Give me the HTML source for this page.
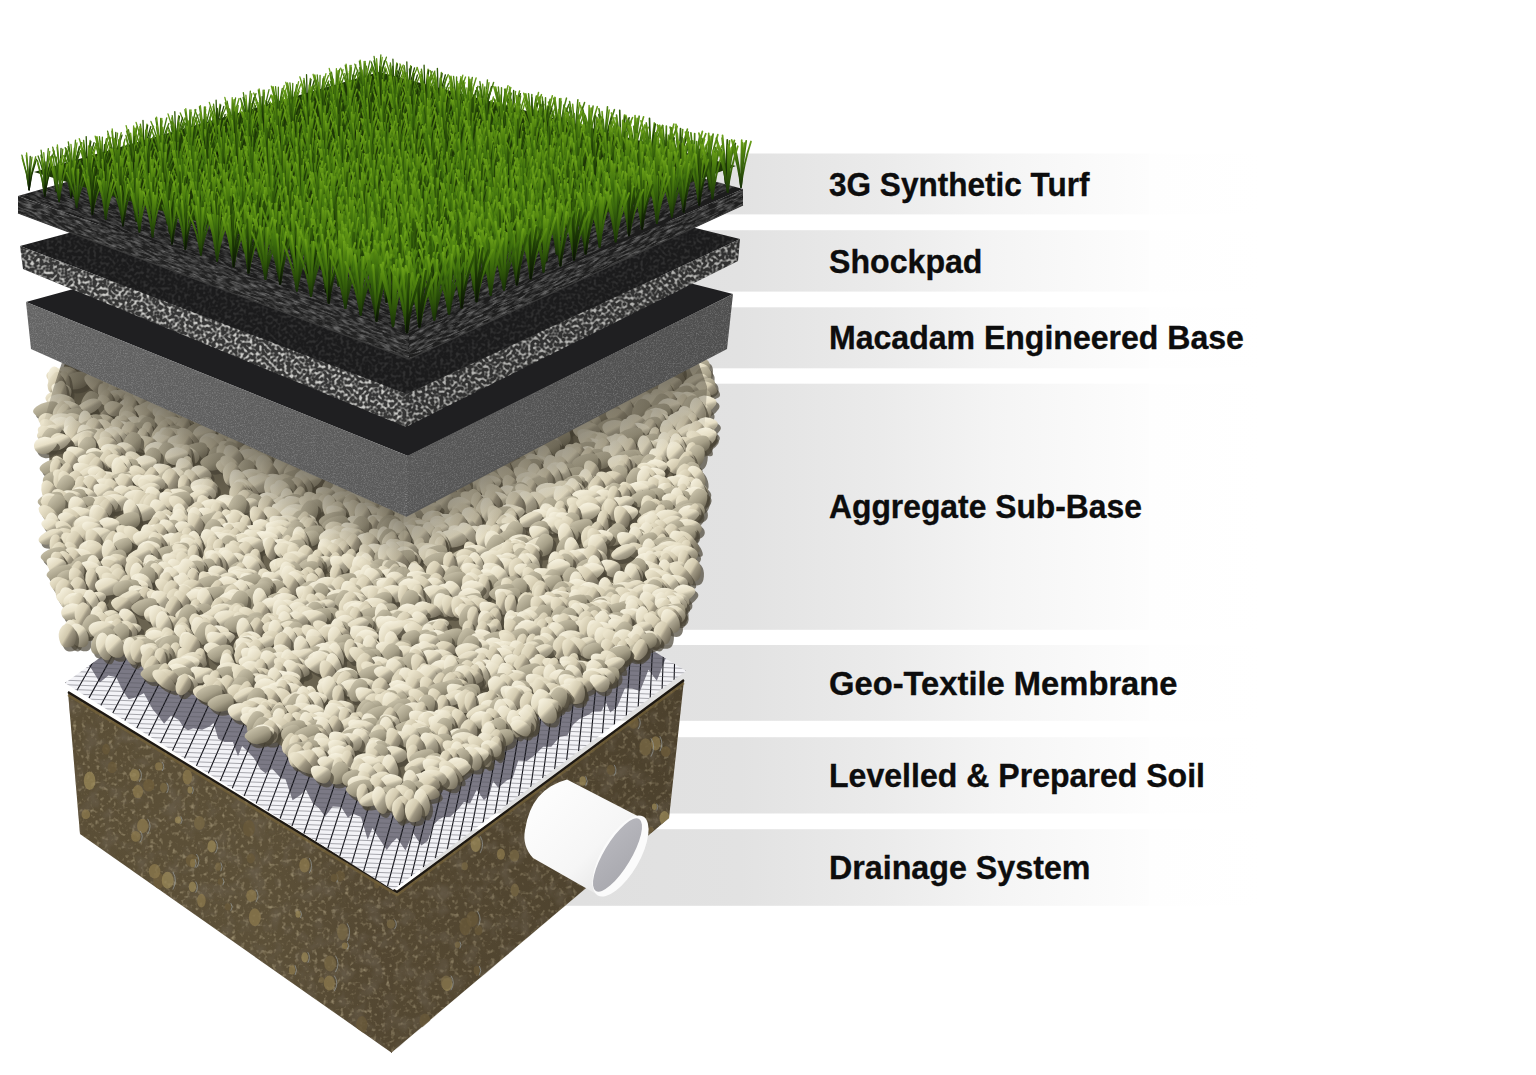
<!DOCTYPE html>
<html><head><meta charset="utf-8">
<style>
html,body{margin:0;padding:0;background:#fff;width:1536px;height:1075px;overflow:hidden}
svg{position:absolute;left:0;top:0;display:block}
</style></head><body>
<svg width="1536" height="1075" viewBox="0 0 1536 1075">
<defs>
<linearGradient id="gBand" x1="420" y1="0" x2="1262" y2="0" gradientUnits="userSpaceOnUse">
 <stop offset="0" stop-color="#dedede"/><stop offset="0.38" stop-color="#e2e2e2"/><stop offset="0.55" stop-color="#ebebeb"/><stop offset="0.68" stop-color="#f4f4f4"/>
 <stop offset="0.8" stop-color="#fafafa"/><stop offset="0.865" stop-color="#fdfdfd"/><stop offset="0.866" stop-color="#fefefe"/><stop offset="1" stop-color="#fff"/>
</linearGradient>


<linearGradient id="gMacL" x1="26" y1="0" x2="408" y2="0" gradientUnits="userSpaceOnUse"><stop offset="0" stop-color="#646464"/><stop offset="1" stop-color="#5a5a5a"/></linearGradient>
<linearGradient id="gMacR" x1="408" y1="0" x2="733" y2="0" gradientUnits="userSpaceOnUse"><stop offset="0" stop-color="#575757"/><stop offset="1" stop-color="#4e4e4e"/></linearGradient>
<linearGradient id="gSoilL" x1="68" y1="0" x2="397" y2="0" gradientUnits="userSpaceOnUse"><stop offset="0" stop-color="#5a4e36"/><stop offset=".6" stop-color="#5c5038"/><stop offset="1" stop-color="#524631"/></linearGradient>
<linearGradient id="gSoilR" x1="397" y1="0" x2="684" y2="0" gradientUnits="userSpaceOnUse"><stop offset="0" stop-color="#544832"/><stop offset="1" stop-color="#4c412d"/></linearGradient>
<linearGradient id="gPipe" x1="0" y1="0" x2="1" y2="1"><stop offset="0" stop-color="#ffffff"/><stop offset=".6" stop-color="#f6f6f6"/><stop offset="1" stop-color="#dcdcdc"/></linearGradient>
<linearGradient id="gPipeIn" x1="0" y1="1" x2="1" y2="0"><stop offset="0" stop-color="#a8a8ae"/><stop offset="1" stop-color="#b8b8be"/></linearGradient>
<linearGradient id="st0" x1=".15" y1=".1" x2=".85" y2=".95"><stop offset="0" stop-color="#f4efdc"/><stop offset=".4" stop-color="#e2dac0"/><stop offset=".56" stop-color="#aea792"/><stop offset="1" stop-color="#7a7360"/></linearGradient>
<linearGradient id="st1" x1=".1" y1=".2" x2=".9" y2=".85"><stop offset="0" stop-color="#ebe4cc"/><stop offset=".45" stop-color="#d2c9ae"/><stop offset=".6" stop-color="#a09883"/><stop offset="1" stop-color="#726b5a"/></linearGradient>
<linearGradient id="st2" x1=".3" y1="0" x2=".7" y2="1"><stop offset="0" stop-color="#f8f4e3"/><stop offset=".45" stop-color="#e7dfc6"/><stop offset=".6" stop-color="#bab39c"/><stop offset="1" stop-color="#847d6a"/></linearGradient>
<linearGradient id="st3" x1=".2" y1=".1" x2=".8" y2=".9"><stop offset="0" stop-color="#cbc4ac"/><stop offset=".55" stop-color="#a59e87"/><stop offset="1" stop-color="#6d6755"/></linearGradient>
<filter id="fSoil" x="0" y="0" width="1" height="1" filterUnits="objectBoundingBox">
 <feTurbulence type="fractalNoise" baseFrequency="0.22" numOctaves="2" seed="4"/>
 <feColorMatrix type="matrix" values="0 0 0 0 0.55  0 0 0 0 0.47  0 0 0 0 0.3  3 0 0 0 -1.6"/>
</filter>
<filter id="fSoilD" x="0" y="0" width="1" height="1" filterUnits="objectBoundingBox">
 <feTurbulence type="fractalNoise" baseFrequency="0.06" numOctaves="3" seed="9"/>
 <feColorMatrix type="matrix" values="0 0 0 0 0.16  0 0 0 0 0.13  0 0 0 0 0.09  2.4 0 0 0 -1.1"/>
</filter>
<filter id="fGrain" x="0" y="0" width="1" height="1" filterUnits="objectBoundingBox">
 <feTurbulence type="fractalNoise" baseFrequency="0.9" numOctaves="2" seed="2"/>
 <feColorMatrix type="matrix" values="0 0 0 0 0.7  0 0 0 0 0.7  0 0 0 0 0.7  1.8 0 0 0 -0.85"/>
</filter>
<filter id="fSpeck" x="0" y="0" width="1" height="1" filterUnits="objectBoundingBox">
 <feTurbulence type="fractalNoise" baseFrequency="0.32" numOctaves="1" seed="5"/>
 <feColorMatrix type="matrix" values="0 0 0 0 0.6  0 0 0 0 0.6  0 0 0 0 0.58  3.6 0 0 0 -1.6"/>
</filter>
<filter id="fRough" x="0" y="0" width="1" height="1" filterUnits="objectBoundingBox">
 <feTurbulence type="fractalNoise" baseFrequency="0.6" numOctaves="2" seed="8"/>
 <feColorMatrix type="matrix" values="0 0 0 0 0.35  0 0 0 0 0.35  0 0 0 0 0.35  2.5 0 0 0 -1.3"/>
</filter>

<clipPath id="cSoilL"><polygon points="68,692 397,892 392,1053 80,834"/></clipPath>
<clipPath id="cSoilR"><polygon points="397,892 684,680 669,818 392,1053"/></clipPath>
<clipPath id="cMemb"><polygon points="65,683 393,890 686,671 360,470"/></clipPath>
<clipPath id="cMacL"><polygon points="26,302 408,456 407,517 31,349"/></clipPath>
<clipPath id="cMacR"><polygon points="408,456 733,294 727,349 404,516"/></clipPath>
<clipPath id="cMacT"><polygon points="26,302 380,205 733,294 408,456"/></clipPath>
<clipPath id="cShL"><polygon points="20,246 407,394 406,427 23,269"/></clipPath>
<clipPath id="cShR"><polygon points="407,394 740,239 738,261 406,427"/></clipPath>
<clipPath id="cShT"><polygon points="20,246 380,150 740,239 407,394"/></clipPath>
<g id="s0"><path d="M10.5 2.4Q10.2 5.8 7.8 7.9Q5.3 9.9 0.7 7.5Q-3.9 5.1 -7.6 1.6Q-11.3 -2 -9.7 -4.5Q-8.2 -7.1 -3.7 -7.9Q0.8 -8.7 5.8 -4.9Q10.7 -1.1 10.5 2.4Z" transform="translate(3 4)" fill="#4a4436" opacity=".7"/><path d="M10.5 2.4Q10.2 5.8 7.8 7.9Q5.3 9.9 0.7 7.5Q-3.9 5.1 -7.6 1.6Q-11.3 -2 -9.7 -4.5Q-8.2 -7.1 -3.7 -7.9Q0.8 -8.7 5.8 -4.9Q10.7 -1.1 10.5 2.4Z" fill="url(#st0)"/></g>
<g id="s1"><path d="M-2 -9.8Q1.3 -13.2 4.3 -9.5Q7.2 -5.8 7.5 -1.6Q7.8 2.7 3.9 6.6Q0.1 10.6 -3.3 10.2Q-6.7 9.8 -7.9 5.5Q-9.1 1.2 -7.2 -2.6Q-5.3 -6.4 -2 -9.8Z" transform="translate(3 4)" fill="#4a4436" opacity=".7"/><path d="M-2 -9.8Q1.3 -13.2 4.3 -9.5Q7.2 -5.8 7.5 -1.6Q7.8 2.7 3.9 6.6Q0.1 10.6 -3.3 10.2Q-6.7 9.8 -7.9 5.5Q-9.1 1.2 -7.2 -2.6Q-5.3 -6.4 -2 -9.8Z" fill="url(#st1)"/></g>
<g id="s2"><path d="M9.3 -6.2Q14.2 -3.2 11.6 0.6Q9 4.4 4.9 7.2Q0.8 9.9 -3.9 8.4Q-8.6 6.9 -10.1 2.8Q-11.6 -1.3 -8.3 -4.8Q-5.1 -8.2 -0.4 -8.7Q4.4 -9.1 9.3 -6.2Z" transform="translate(3 4)" fill="#4a4436" opacity=".7"/><path d="M9.3 -6.2Q14.2 -3.2 11.6 0.6Q9 4.4 4.9 7.2Q0.8 9.9 -3.9 8.4Q-8.6 6.9 -10.1 2.8Q-11.6 -1.3 -8.3 -4.8Q-5.1 -8.2 -0.4 -8.7Q4.4 -9.1 9.3 -6.2Z" fill="url(#st2)"/></g>
<g id="s3"><path d="M6.9 9Q5.1 12.1 0.3 10.3Q-4.6 8.6 -6.3 3.2Q-7.9 -2.2 -7.1 -6.5Q-6.2 -10.8 -2.9 -11.2Q0.4 -11.6 4.3 -7.7Q8.3 -3.7 8.5 1.1Q8.6 6 6.9 9Z" transform="translate(3 4)" fill="#4a4436" opacity=".7"/><path d="M6.9 9Q5.1 12.1 0.3 10.3Q-4.6 8.6 -6.3 3.2Q-7.9 -2.2 -7.1 -6.5Q-6.2 -10.8 -2.9 -11.2Q0.4 -11.6 4.3 -7.7Q8.3 -3.7 8.5 1.1Q8.6 6 6.9 9Z" fill="url(#st1)"/></g>
<g id="s4"><path d="M10.1 0.8Q9.6 5.7 7 7.9Q4.5 10.1 0.1 9.1Q-4.2 8 -7 4.2Q-9.9 0.3 -10 -3.7Q-10.2 -7.7 -5.3 -8.3Q-0.3 -8.8 5.2 -6.5Q10.6 -4.2 10.1 0.8Z" transform="translate(3 4)" fill="#4a4436" opacity=".7"/><path d="M10.1 0.8Q9.6 5.7 7 7.9Q4.5 10.1 0.1 9.1Q-4.2 8 -7 4.2Q-9.9 0.3 -10 -3.7Q-10.2 -7.7 -5.3 -8.3Q-0.3 -8.8 5.2 -6.5Q10.6 -4.2 10.1 0.8Z" fill="url(#st0)"/></g>
<g id="s5"><path d="M10.6 -0.8Q13 3.1 10.1 5.1Q7.2 7 1.8 7.9Q-3.6 8.7 -7.1 4.6Q-10.6 0.4 -10.3 -1.8Q-10.1 -3.9 -6.4 -6.1Q-2.7 -8.3 2.7 -6.5Q8.1 -4.7 10.6 -0.8Z" transform="translate(3 4)" fill="#4a4436" opacity=".7"/><path d="M10.6 -0.8Q13 3.1 10.1 5.1Q7.2 7 1.8 7.9Q-3.6 8.7 -7.1 4.6Q-10.6 0.4 -10.3 -1.8Q-10.1 -3.9 -6.4 -6.1Q-2.7 -8.3 2.7 -6.5Q8.1 -4.7 10.6 -0.8Z" fill="url(#st1)"/></g>
<g id="s6"><path d="M6.6 -6.5Q9.3 -4.4 9.3 0.3Q9.3 4.9 4.6 7.1Q-0.1 9.2 -4.6 8.7Q-9.2 8.2 -10.2 3.6Q-11.1 -1 -8.1 -3.7Q-5 -6.4 -0.6 -7.5Q3.8 -8.7 6.6 -6.5Z" transform="translate(3 4)" fill="#4a4436" opacity=".7"/><path d="M6.6 -6.5Q9.3 -4.4 9.3 0.3Q9.3 4.9 4.6 7.1Q-0.1 9.2 -4.6 8.7Q-9.2 8.2 -10.2 3.6Q-11.1 -1 -8.1 -3.7Q-5 -6.4 -0.6 -7.5Q3.8 -8.7 6.6 -6.5Z" fill="url(#st3)"/></g>
<g id="s7"><path d="M4.7 9.9Q2.7 12.9 -0.1 11.1Q-2.9 9.4 -4.8 4.6Q-6.6 -0.2 -5.5 -5.1Q-4.4 -9.9 -0.8 -11.2Q2.7 -12.4 4.2 -8.9Q5.7 -5.4 6.3 0.7Q6.8 6.9 4.7 9.9Z" transform="translate(3 4)" fill="#4a4436" opacity=".7"/><path d="M4.7 9.9Q2.7 12.9 -0.1 11.1Q-2.9 9.4 -4.8 4.6Q-6.6 -0.2 -5.5 -5.1Q-4.4 -9.9 -0.8 -11.2Q2.7 -12.4 4.2 -8.9Q5.7 -5.4 6.3 0.7Q6.8 6.9 4.7 9.9Z" fill="url(#st1)"/></g>
<g id="s8"><path d="M4.7 10.3Q1.3 11.6 -2.4 11Q-6.1 10.4 -7.8 3.8Q-9.5 -2.9 -7.1 -7Q-4.8 -11.1 -1.3 -12.4Q2.1 -13.6 5.8 -9.1Q9.4 -4.6 8.7 2.2Q8 9.1 4.7 10.3Z" transform="translate(3 4)" fill="#4a4436" opacity=".7"/><path d="M4.7 10.3Q1.3 11.6 -2.4 11Q-6.1 10.4 -7.8 3.8Q-9.5 -2.9 -7.1 -7Q-4.8 -11.1 -1.3 -12.4Q2.1 -13.6 5.8 -9.1Q9.4 -4.6 8.7 2.2Q8 9.1 4.7 10.3Z" fill="url(#st1)"/></g>
<g id="s9"><path d="M0.5 -12.1Q3.7 -12.2 6.8 -9.8Q10 -7.5 8.8 -0.5Q7.7 6.5 3.9 8.9Q0.1 11.4 -4.8 10.8Q-9.8 10.1 -9.7 3.9Q-9.6 -2.3 -6.1 -7.1Q-2.7 -12 0.5 -12.1Z" transform="translate(3 4)" fill="#4a4436" opacity=".7"/><path d="M0.5 -12.1Q3.7 -12.2 6.8 -9.8Q10 -7.5 8.8 -0.5Q7.7 6.5 3.9 8.9Q0.1 11.4 -4.8 10.8Q-9.8 10.1 -9.7 3.9Q-9.6 -2.3 -6.1 -7.1Q-2.7 -12 0.5 -12.1Z" fill="url(#st3)"/></g>
<g id="s10"><path d="M8.8 -6.5Q13.4 -4.1 11.3 -0.9Q9.2 2.4 4.8 5.4Q0.3 8.5 -5.2 8.3Q-10.7 8.1 -12.4 5.2Q-14.1 2.3 -10.4 -1.1Q-6.8 -4.5 -1.3 -6.7Q4.2 -9 8.8 -6.5Z" transform="translate(3 4)" fill="#4a4436" opacity=".7"/><path d="M8.8 -6.5Q13.4 -4.1 11.3 -0.9Q9.2 2.4 4.8 5.4Q0.3 8.5 -5.2 8.3Q-10.7 8.1 -12.4 5.2Q-14.1 2.3 -10.4 -1.1Q-6.8 -4.5 -1.3 -6.7Q4.2 -9 8.8 -6.5Z" fill="url(#st0)"/></g>
<g id="s11"><path d="M14.1 0.4Q14.4 4.8 9.1 7Q3.9 9.2 -2 9.1Q-7.9 8.9 -11.5 3.8Q-15.1 -1.3 -12.5 -4.4Q-9.9 -7.5 -4.1 -8.5Q1.7 -9.5 7.7 -6.7Q13.8 -3.9 14.1 0.4Z" transform="translate(3 4)" fill="#4a4436" opacity=".7"/><path d="M14.1 0.4Q14.4 4.8 9.1 7Q3.9 9.2 -2 9.1Q-7.9 8.9 -11.5 3.8Q-15.1 -1.3 -12.5 -4.4Q-9.9 -7.5 -4.1 -8.5Q1.7 -9.5 7.7 -6.7Q13.8 -3.9 14.1 0.4Z" fill="url(#st0)"/></g>
<g id="s12"><path d="M7.2 10Q5.1 15.1 1.2 13.5Q-2.7 11.9 -5.7 5.5Q-8.8 -0.9 -7.6 -6.5Q-6.4 -12 -3 -13.4Q0.3 -14.9 3.3 -10.8Q6.3 -6.7 7.8 -0.9Q9.4 4.9 7.2 10Z" transform="translate(3 4)" fill="#4a4436" opacity=".7"/><path d="M7.2 10Q5.1 15.1 1.2 13.5Q-2.7 11.9 -5.7 5.5Q-8.8 -0.9 -7.6 -6.5Q-6.4 -12 -3 -13.4Q0.3 -14.9 3.3 -10.8Q6.3 -6.7 7.8 -0.9Q9.4 4.9 7.2 10Z" fill="url(#st0)"/></g>
<g id="s13"><path d="M11.9 6.8Q13.2 11.8 7.5 10.5Q1.8 9.1 -2 6.4Q-5.8 3.6 -9.3 -1.4Q-12.8 -6.5 -11 -9Q-9.1 -11.6 -4.4 -10.7Q0.3 -9.9 5.4 -4Q10.6 1.8 11.9 6.8Z" transform="translate(3 4)" fill="#4a4436" opacity=".7"/><path d="M11.9 6.8Q13.2 11.8 7.5 10.5Q1.8 9.1 -2 6.4Q-5.8 3.6 -9.3 -1.4Q-12.8 -6.5 -11 -9Q-9.1 -11.6 -4.4 -10.7Q0.3 -9.9 5.4 -4Q10.6 1.8 11.9 6.8Z" fill="url(#st1)"/></g>
<g id="s14"><path d="M10.5 -6.9Q12.6 -4.4 12.4 0.8Q12.1 6 4.7 8.3Q-2.7 10.6 -7.2 8.2Q-11.6 5.8 -13.4 3.1Q-15.2 0.5 -10.8 -3.1Q-6.5 -6.6 0.9 -8.1Q8.3 -9.5 10.5 -6.9Z" transform="translate(3 4)" fill="#4a4436" opacity=".7"/><path d="M10.5 -6.9Q12.6 -4.4 12.4 0.8Q12.1 6 4.7 8.3Q-2.7 10.6 -7.2 8.2Q-11.6 5.8 -13.4 3.1Q-15.2 0.5 -10.8 -3.1Q-6.5 -6.6 0.9 -8.1Q8.3 -9.5 10.5 -6.9Z" fill="url(#st3)"/></g>
<g id="s15"><path d="M8.5 8.3Q6.4 11.8 1.2 11.1Q-4 10.4 -7.3 5.5Q-10.6 0.7 -9.3 -5.3Q-8.1 -11.3 -4.7 -12.4Q-1.3 -13.4 3.1 -10.3Q7.4 -7.1 9 -1.1Q10.6 4.9 8.5 8.3Z" transform="translate(3 4)" fill="#4a4436" opacity=".7"/><path d="M8.5 8.3Q6.4 11.8 1.2 11.1Q-4 10.4 -7.3 5.5Q-10.6 0.7 -9.3 -5.3Q-8.1 -11.3 -4.7 -12.4Q-1.3 -13.4 3.1 -10.3Q7.4 -7.1 9 -1.1Q10.6 4.9 8.5 8.3Z" fill="url(#st0)"/></g>
</defs>
<rect x="420" y="153.5" width="842" height="60.9" fill="url(#gBand)"/>
<rect x="420" y="230.2" width="842" height="61.4" fill="url(#gBand)"/>
<rect x="420" y="307.3" width="842" height="61" fill="url(#gBand)"/>
<rect x="420" y="383.7" width="842" height="246.1" fill="url(#gBand)"/>
<rect x="420" y="645" width="842" height="75.8" fill="url(#gBand)"/>
<rect x="420" y="737.2" width="842" height="76.3" fill="url(#gBand)"/>
<rect x="420" y="829.2" width="842" height="76.6" fill="url(#gBand)"/>
<text x="829" y="195.8" textLength="260.6" lengthAdjust="spacingAndGlyphs" font-family="Liberation Sans" font-weight="bold" font-size="33.4" fill="#0d0d0d" stroke="#0d0d0d" stroke-width=".35">3G Synthetic Turf</text>
<text x="829" y="272.6" textLength="153.5" lengthAdjust="spacingAndGlyphs" font-family="Liberation Sans" font-weight="bold" font-size="33.4" fill="#0d0d0d" stroke="#0d0d0d" stroke-width=".35">Shockpad</text>
<text x="829" y="349.4" textLength="414.9" lengthAdjust="spacingAndGlyphs" font-family="Liberation Sans" font-weight="bold" font-size="33.4" fill="#0d0d0d" stroke="#0d0d0d" stroke-width=".35">Macadam Engineered Base</text>
<text x="829" y="518.0" textLength="312.9" lengthAdjust="spacingAndGlyphs" font-family="Liberation Sans" font-weight="bold" font-size="33.4" fill="#0d0d0d" stroke="#0d0d0d" stroke-width=".35">Aggregate Sub-Base</text>
<text x="829" y="695.0" textLength="348.5" lengthAdjust="spacingAndGlyphs" font-family="Liberation Sans" font-weight="bold" font-size="33.4" fill="#0d0d0d" stroke="#0d0d0d" stroke-width=".35">Geo-Textile Membrane</text>
<text x="829" y="787.3" textLength="376" lengthAdjust="spacingAndGlyphs" font-family="Liberation Sans" font-weight="bold" font-size="33.4" fill="#0d0d0d" stroke="#0d0d0d" stroke-width=".35">Levelled &amp; Prepared Soil</text>
<text x="829" y="879.3" textLength="261.5" lengthAdjust="spacingAndGlyphs" font-family="Liberation Sans" font-weight="bold" font-size="33.4" fill="#0d0d0d" stroke="#0d0d0d" stroke-width=".35">Drainage System</text>
<polygon points="68,692 397,892 392,1053 80,834" fill="url(#gSoilL)"/>
<polygon points="396,892 684,680 669,818 391,1053" fill="url(#gSoilR)"/>
<g clip-path="url(#cSoilL)"><rect x="60" y="680" width="345" height="380" filter="url(#fSoil)" opacity=".55"/><rect x="60" y="680" width="345" height="380" filter="url(#fSoilD)" opacity=".6"/></g>
<g clip-path="url(#cSoilR)"><rect x="390" y="670" width="300" height="390" filter="url(#fSoil)" opacity=".45"/><rect x="390" y="670" width="300" height="390" filter="url(#fSoilD)" opacity=".6"/></g>
<clipPath id="cSoil"><polygon points="68,692 397,892 392,1053 80,834"/><polygon points="397,892 684,680 669,818 392,1053"/></clipPath>
<g clip-path="url(#cSoil)"><ellipse cx="361.8" cy="1024.8" rx="5.6" ry="8.7" fill="#6a5a3a" opacity=".75"/><ellipse cx="610.7" cy="769.9" rx="4" ry="5.1" fill="#6a5a3a" opacity=".75"/><path d="M614.2 764.8q3.6 5.1 0 10.8" stroke="#9aa3a6" stroke-width=".9" fill="none" opacity=".7"/><ellipse cx="476.7" cy="970.5" rx="3" ry="4.4" fill="#6a5a3a" opacity=".75"/><path d="M479.4 966q2.7 4.4 0 9.3" stroke="#9aa3a6" stroke-width=".9" fill="none" opacity=".7"/><ellipse cx="333.9" cy="877.9" rx="3.2" ry="4" fill="#6a5a3a" opacity=".75"/><path d="M336.8 873.9q2.9 4 0 8.4" stroke="#9aa3a6" stroke-width=".9" fill="none" opacity=".7"/><ellipse cx="85.8" cy="814.4" rx="4.3" ry="4.9" fill="#8c7a4e" opacity=".75"/><ellipse cx="137.9" cy="791.6" rx="5.2" ry="6.5" fill="#8c7a4e" opacity=".75"/><ellipse cx="642.6" cy="840.1" rx="4.3" ry="5.8" fill="#6a5a3a" opacity=".75"/><path d="M646.5 834.3q3.9 5.8 0 12.2" stroke="#9aa3a6" stroke-width=".9" fill="none" opacity=".7"/><ellipse cx="592.7" cy="856.6" rx="4.4" ry="6.9" fill="#6a5a3a" opacity=".75"/><ellipse cx="342.4" cy="931.9" rx="5.3" ry="8.5" fill="#7a6a45" opacity=".75"/><path d="M347.2 923.4q4.8 8.5 0 17.8" stroke="#9aa3a6" stroke-width=".9" fill="none" opacity=".7"/><ellipse cx="514.8" cy="890.1" rx="4.2" ry="6.5" fill="#7a6a45" opacity=".75"/><ellipse cx="465.1" cy="926.5" rx="5.6" ry="8.9" fill="#6a5a3a" opacity=".75"/><ellipse cx="664.5" cy="818.2" rx="5" ry="7.1" fill="#9a8858" opacity=".75"/><ellipse cx="602.9" cy="848.6" rx="4.8" ry="6.2" fill="#705f3c" opacity=".75"/><ellipse cx="250.8" cy="858.5" rx="4.1" ry="5" fill="#6a5a3a" opacity=".75"/><ellipse cx="654.4" cy="806.8" rx="2.5" ry="3.2" fill="#9a8858" opacity=".75"/><path d="M656.7 803.6q2.3 3.2 0 6.8" stroke="#9aa3a6" stroke-width=".9" fill="none" opacity=".7"/><ellipse cx="254.8" cy="917.2" rx="5.9" ry="8.9" fill="#8c7a4e" opacity=".75"/><ellipse cx="665.8" cy="751.6" rx="4.8" ry="5.3" fill="#705f3c" opacity=".75"/><ellipse cx="158.6" cy="880.7" rx="5.4" ry="8.1" fill="#705f3c" opacity=".75"/><ellipse cx="650.7" cy="829.9" rx="2.7" ry="3" fill="#705f3c" opacity=".75"/><ellipse cx="376.8" cy="884.6" rx="2.7" ry="4" fill="#6a5a3a" opacity=".75"/><ellipse cx="582.7" cy="781" rx="3.3" ry="4.7" fill="#9a8858" opacity=".75"/><path d="M585.7 776.3q3 4.7 0 9.9" stroke="#9aa3a6" stroke-width=".9" fill="none" opacity=".7"/><ellipse cx="304.5" cy="865.3" rx="5.2" ry="7.3" fill="#8c7a4e" opacity=".75"/><path d="M309.2 858q4.7 7.3 0 15.3" stroke="#9aa3a6" stroke-width=".9" fill="none" opacity=".7"/><ellipse cx="163.5" cy="787.6" rx="3.6" ry="4.9" fill="#7a6a45" opacity=".75"/><path d="M166.7 782.7q3.2 4.9 0 10.4" stroke="#9aa3a6" stroke-width=".9" fill="none" opacity=".7"/><ellipse cx="134.7" cy="775.1" rx="5" ry="6.2" fill="#9a8858" opacity=".75"/><path d="M139.2 768.9q4.5 6.2 0 13" stroke="#9aa3a6" stroke-width=".9" fill="none" opacity=".7"/><ellipse cx="201.4" cy="900.6" rx="4.3" ry="6.8" fill="#8c7a4e" opacity=".75"/><ellipse cx="142.6" cy="826" rx="5.6" ry="7.2" fill="#8c7a4e" opacity=".75"/><path d="M147.6 818.8q5 7.2 0 15.2" stroke="#9aa3a6" stroke-width=".9" fill="none" opacity=".7"/><ellipse cx="248.9" cy="828.4" rx="6" ry="8.4" fill="#6a5a3a" opacity=".75"/><ellipse cx="472.2" cy="919.1" rx="5.9" ry="7.8" fill="#6a5a3a" opacity=".75"/><path d="M477.5 911.3q5.3 7.8 0 16.3" stroke="#9aa3a6" stroke-width=".9" fill="none" opacity=".7"/><ellipse cx="514.4" cy="855.5" rx="4.8" ry="5.9" fill="#7a6a45" opacity=".75"/><ellipse cx="218.2" cy="866.7" rx="2.9" ry="4.1" fill="#7a6a45" opacity=".75"/><path d="M220.8 862.5q2.6 4.1 0 8.7" stroke="#9aa3a6" stroke-width=".9" fill="none" opacity=".7"/><ellipse cx="158.8" cy="766.4" rx="3.7" ry="4.2" fill="#8c7a4e" opacity=".75"/><path d="M162.1 762.1q3.3 4.2 0 8.9" stroke="#9aa3a6" stroke-width=".9" fill="none" opacity=".7"/><ellipse cx="304.7" cy="957.3" rx="3.4" ry="5.1" fill="#9a8858" opacity=".75"/><path d="M307.8 952.2q3.1 5.1 0 10.7" stroke="#9aa3a6" stroke-width=".9" fill="none" opacity=".7"/><ellipse cx="655.6" cy="743.4" rx="4.7" ry="7.2" fill="#8c7a4e" opacity=".75"/><path d="M659.8 736.2q4.2 7.2 0 15.1" stroke="#9aa3a6" stroke-width=".9" fill="none" opacity=".7"/><ellipse cx="613.1" cy="832.7" rx="4" ry="5" fill="#7a6a45" opacity=".75"/><path d="M616.7 827.6q3.6 5 0 10.6" stroke="#9aa3a6" stroke-width=".9" fill="none" opacity=".7"/><ellipse cx="330.1" cy="963.5" rx="5.9" ry="7.9" fill="#7a6a45" opacity=".75"/><path d="M335.4 955.6q5.3 7.9 0 16.6" stroke="#9aa3a6" stroke-width=".9" fill="none" opacity=".7"/><ellipse cx="167.6" cy="880.2" rx="5.8" ry="8.5" fill="#9a8858" opacity=".75"/><path d="M172.8 871.8q5.2 8.5 0 17.8" stroke="#9aa3a6" stroke-width=".9" fill="none" opacity=".7"/><ellipse cx="190" cy="790" rx="2.5" ry="3.4" fill="#9a8858" opacity=".75"/><path d="M192.3 786.6q2.3 3.4 0 7.2" stroke="#9aa3a6" stroke-width=".9" fill="none" opacity=".7"/><ellipse cx="220.4" cy="881.6" rx="2.6" ry="3.4" fill="#6a5a3a" opacity=".75"/><path d="M222.8 878.2q2.3 3.4 0 7.1" stroke="#9aa3a6" stroke-width=".9" fill="none" opacity=".7"/><ellipse cx="211.7" cy="846.4" rx="4.2" ry="6.1" fill="#9a8858" opacity=".75"/><path d="M215.5 840.3q3.8 6.1 0 12.8" stroke="#9aa3a6" stroke-width=".9" fill="none" opacity=".7"/><ellipse cx="191.4" cy="860.5" rx="5.6" ry="6.5" fill="#705f3c" opacity=".75"/><path d="M196.4 854q5.1 6.5 0 13.6" stroke="#9aa3a6" stroke-width=".9" fill="none" opacity=".7"/><ellipse cx="187.4" cy="777" rx="4.8" ry="7.6" fill="#8c7a4e" opacity=".75"/><ellipse cx="344.8" cy="945.7" rx="2.9" ry="3.3" fill="#8c7a4e" opacity=".75"/><path d="M347.4 942.4q2.6 3.3 0 6.9" stroke="#9aa3a6" stroke-width=".9" fill="none" opacity=".7"/><ellipse cx="199.4" cy="823" rx="5.4" ry="7.1" fill="#7a6a45" opacity=".75"/><ellipse cx="192.4" cy="886.8" rx="3.6" ry="5.3" fill="#9a8858" opacity=".75"/><path d="M195.7 881.5q3.3 5.3 0 11.2" stroke="#9aa3a6" stroke-width=".9" fill="none" opacity=".7"/><ellipse cx="321.5" cy="980.1" rx="2.6" ry="3" fill="#7a6a45" opacity=".75"/><ellipse cx="112.2" cy="767.3" rx="4.6" ry="5.9" fill="#6a5a3a" opacity=".75"/><ellipse cx="89.6" cy="780.7" rx="5.8" ry="9.2" fill="#9a8858" opacity=".75"/><ellipse cx="154.6" cy="871.3" rx="5.8" ry="7.2" fill="#8c7a4e" opacity=".75"/><ellipse cx="292.1" cy="969.9" rx="3.2" ry="4.7" fill="#8c7a4e" opacity=".75"/><path d="M295 965.2q2.9 4.7 0 9.9" stroke="#9aa3a6" stroke-width=".9" fill="none" opacity=".7"/><ellipse cx="464.7" cy="866.2" rx="3.1" ry="4" fill="#7a6a45" opacity=".75"/><ellipse cx="500.9" cy="854.2" rx="4" ry="5.6" fill="#8c7a4e" opacity=".75"/><ellipse cx="251.3" cy="895.6" rx="5.1" ry="6.1" fill="#8c7a4e" opacity=".75"/><path d="M255.8 889.5q4.6 6.1 0 12.8" stroke="#9aa3a6" stroke-width=".9" fill="none" opacity=".7"/><ellipse cx="390.8" cy="924.1" rx="4.1" ry="4.6" fill="#7a6a45" opacity=".75"/><path d="M394.5 919.5q3.7 4.6 0 9.7" stroke="#9aa3a6" stroke-width=".9" fill="none" opacity=".7"/><ellipse cx="424.9" cy="1020.9" rx="5.5" ry="7.3" fill="#6a5a3a" opacity=".75"/><ellipse cx="457.5" cy="944.8" rx="2.6" ry="3.3" fill="#7a6a45" opacity=".75"/><path d="M459.8 941.5q2.4 3.3 0 7" stroke="#9aa3a6" stroke-width=".9" fill="none" opacity=".7"/><ellipse cx="227.9" cy="906.8" rx="3.2" ry="3.6" fill="#6a5a3a" opacity=".75"/><path d="M230.8 903.2q2.9 3.6 0 7.5" stroke="#9aa3a6" stroke-width=".9" fill="none" opacity=".7"/><ellipse cx="298.1" cy="914.2" rx="2.6" ry="3.5" fill="#9a8858" opacity=".75"/><path d="M300.4 910.7q2.3 3.5 0 7.4" stroke="#9aa3a6" stroke-width=".9" fill="none" opacity=".7"/><ellipse cx="135.8" cy="836.4" rx="4.7" ry="5.4" fill="#8c7a4e" opacity=".75"/><path d="M140.1 831q4.3 5.4 0 11.4" stroke="#9aa3a6" stroke-width=".9" fill="none" opacity=".7"/><ellipse cx="475.7" cy="844.2" rx="5.1" ry="7.9" fill="#9a8858" opacity=".75"/><path d="M480.3 836.3q4.6 7.9 0 16.5" stroke="#9aa3a6" stroke-width=".9" fill="none" opacity=".7"/><ellipse cx="329.3" cy="983" rx="5.6" ry="7.4" fill="#8c7a4e" opacity=".75"/><path d="M334.3 975.6q5 7.4 0 15.6" stroke="#9aa3a6" stroke-width=".9" fill="none" opacity=".7"/><ellipse cx="106" cy="749.2" rx="3.9" ry="5.4" fill="#6a5a3a" opacity=".75"/><ellipse cx="178" cy="820" rx="3.1" ry="3.5" fill="#9a8858" opacity=".75"/><path d="M180.8 816.5q2.8 3.5 0 7.4" stroke="#9aa3a6" stroke-width=".9" fill="none" opacity=".7"/><ellipse cx="447.2" cy="984.5" rx="5.3" ry="6.4" fill="#9a8858" opacity=".75"/><ellipse cx="192.7" cy="863.2" rx="2.6" ry="4.2" fill="#8c7a4e" opacity=".75"/><path d="M195 859q2.4 4.2 0 8.7" stroke="#9aa3a6" stroke-width=".9" fill="none" opacity=".7"/><ellipse cx="148.8" cy="785.2" rx="5.6" ry="6.3" fill="#705f3c" opacity=".75"/><ellipse cx="478.4" cy="930.4" rx="3.9" ry="5.1" fill="#6a5a3a" opacity=".75"/><ellipse cx="446.1" cy="982.5" rx="5.3" ry="6.9" fill="#7a6a45" opacity=".75"/><path d="M450.9 975.6q4.8 6.9 0 14.6" stroke="#9aa3a6" stroke-width=".9" fill="none" opacity=".7"/><ellipse cx="340.2" cy="876" rx="4.7" ry="5.4" fill="#6a5a3a" opacity=".75"/><ellipse cx="645.5" cy="747" rx="6" ry="8.8" fill="#7a6a45" opacity=".75"/><path d="M650.9 738.2q5.4 8.8 0 18.4" stroke="#9aa3a6" stroke-width=".9" fill="none" opacity=".7"/><ellipse cx="633.4" cy="722.6" rx="5.1" ry="6.1" fill="#705f3c" opacity=".75"/><path d="M638 716.5q4.6 6.1 0 12.7" stroke="#9aa3a6" stroke-width=".9" fill="none" opacity=".7"/></g>
<polyline points="68,695 397,895 684,683" fill="none" stroke="#7a6538" stroke-width="2.5" opacity=".6"/>
<polyline points="68,692 397,892 684,680" fill="none" stroke="#1d1812" stroke-width="2.2"/>
<path d="M567,779.5 L639.5,817 L598,895 L533,858 Q522,846 525,830 Q531,789 567,779.5 Z" fill="url(#gPipe)"/>
<ellipse cx="620.5" cy="856" rx="45.5" ry="19" transform="rotate(-60 620.5 856)" fill="#fbfbfb"/>
<ellipse cx="617.5" cy="855" rx="42" ry="13.5" transform="rotate(-59 617.5 855)" fill="url(#gPipeIn)"/>
<polygon points="65,683 393,890 686,671 360,470" fill="#f3f3f7"/>
<g clip-path="url(#cMemb)"><polygon points="40,600 62,667.3 66.7,663.3 75.3,661.6 80.6,670.1 86.2,663.5 91.1,668.3 99.8,682.4 108.3,675.4 116.2,677.3 122.9,691.1 128.7,699.3 135.4,697.6 143.9,693.3 152.8,709.5 158.8,716.6 164.1,723.8 171,715.6 178.8,719.9 183.7,727.4 188,730.2 193.2,728.2 202.1,729.8 209.5,726.5 213.5,723 218.2,738.8 224.4,742.1 232.9,741.9 238,756.3 242.1,745.9 247.9,751.7 253.7,757.7 260.6,769.4 265.6,773.2 272,768.6 280.7,777.9 285.4,778.9 292.6,800.3 300.5,794.9 305.8,789.5 313.1,803.7 318.8,807.9 325,816.5 332.7,806.4 341.2,807 347.9,817.8 353.1,813.7 361,817.1 367.7,839.7 372.4,828 379.5,839 386.7,850 391.5,843.2 397,837.9 405.5,850.4 413.1,832.9 421.3,845.6 427.6,841.1 433.9,824.4 438.4,819.8 442.6,817.6 450.3,816.8 458.6,808.7 463.9,802.1 470.1,803.6 476.7,789.7 483.9,800 489,795.7 493.1,781.2 498.3,787.8 507,780.3 512.6,778.2 518.3,760.5 526.8,761 534.3,755.6 543.1,746.8 551.3,746.8 559.6,736.9 567.3,735.4 572.8,725.1 579.9,718.4 588.5,714.8 592.6,711.7 601.2,711.6 606,702.6 610.2,712.5 617.3,706.8 625,688 632,688.4 640.1,691 648.5,669.7 656.8,680.8 665.6,658.4 670.6,652.1 674.8,661.3 682.8,646.2 691,633.4 696.4,604.3 700,600 700,400 40,400" fill="#7b7985"/>
<path d="M65 683l250 -433M76.9 690.5l245.8 -435.4M88.9 698.1l241.5 -437.8M100.8 705.6l237.3 -440.1M112.8 713.1l233 -442.4M124.7 720.7l228.6 -444.7M136.7 728.2l224.3 -446.9M148.6 735.8l219.9 -449M160.5 743.3l215.6 -451.1M172.5 750.8l211.2 -453.2M184.4 758.4l206.7 -455.3M196.4 765.9l202.3 -457.2M208.3 773.4l197.8 -459.2M220.2 781l193.4 -461.1M232.2 788.5l188.9 -463M244.1 796.1l184.3 -464.8M256.1 803.6l179.8 -466.5M268 811.1l175.3 -468.3M280 818.7l170.7 -470M291.9 826.2l166.1 -471.6M303.8 833.7l161.5 -473.2M315.8 841.3l156.9 -474.7M327.7 848.8l152.3 -476.2M339.7 856.3l147.6 -477.7M351.6 863.9l143 -479.1M363.6 871.4l138.3 -480.5M375.5 879l133.6 -481.8M387.4 886.5l128.9 -483.1M399.4 885.2l124.2 -484.3M411.3 876.3l119.5 -485.5M423.3 867.4l114.8 -486.7M435.2 858.4l110 -487.7M447.2 849.5l105.3 -488.8M459.1 840.6l100.5 -489.8M471 831.7l95.7 -490.7M483 822.7l91 -491.7M494.9 813.8l86.2 -492.5M506.9 804.9l81.4 -493.3M518.8 796l76.6 -494.1M530.8 787l71.7 -494.8M542.7 778.1l66.9 -495.5M554.6 769.2l62.1 -496.1M566.6 760.3l57.3 -496.7M578.5 751.3l52.4 -497.2M590.5 742.4l47.6 -497.7M602.4 733.5l42.7 -498.2M614.3 724.6l37.9 -498.6M626.3 715.6l33 -498.9M638.2 706.7l28.2 -499.2M650.2 697.8l23.3 -499.5M662.1 688.9l18.5 -499.7M674.1 679.9l13.6 -499.8M686 671l8.7 -499.9" stroke="#16161c" stroke-width="1.15" fill="none"/>
<path d="M60 455L700 480M60 459.5L700 484.5M60 464L700 489M60 468.5L700 493.5M60 473L700 498M60 477.5L700 502.5M60 482L700 507M60 486.5L700 511.5M60 491L700 516M60 495.5L700 520.5M60 500L700 525M60 504.5L700 529.5M60 509L700 534M60 513.5L700 538.5M60 518L700 543M60 522.5L700 547.5M60 527L700 552M60 531.5L700 556.5M60 536L700 561M60 540.5L700 565.5M60 545L700 570M60 549.5L700 574.5M60 554L700 579M60 558.5L700 583.5M60 563L700 588M60 567.5L700 592.5M60 572L700 597M60 576.5L700 601.5M60 581L700 606M60 585.5L700 610.5M60 590L700 615M60 594.5L700 619.5M60 599L700 624M60 603.5L700 628.5M60 608L700 633M60 612.5L700 637.5M60 617L700 642M60 621.5L700 646.5M60 626L700 651M60 630.5L700 655.5M60 635L700 660M60 639.5L700 664.5M60 644L700 669M60 648.5L700 673.5M60 653L700 678M60 657.5L700 682.5M60 662L700 687M60 666.5L700 691.5M60 671L700 696M60 675.5L700 700.5M60 680L700 705M60 684.5L700 709.5M60 689L700 714M60 693.5L700 718.5M60 698L700 723M60 702.5L700 727.5M60 707L700 732M60 711.5L700 736.5M60 716L700 741M60 720.5L700 745.5M60 725L700 750M60 729.5L700 754.5M60 734L700 759M60 738.5L700 763.5M60 743L700 768M60 747.5L700 772.5M60 752L700 777M60 756.5L700 781.5M60 761L700 786M60 765.5L700 790.5M60 770L700 795M60 774.5L700 799.5M60 779L700 804M60 783.5L700 808.5M60 788L700 813M60 792.5L700 817.5M60 797L700 822M60 801.5L700 826.5M60 806L700 831M60 810.5L700 835.5M60 815L700 840M60 819.5L700 844.5M60 824L700 849M60 828.5L700 853.5M60 833L700 858M60 837.5L700 862.5M60 842L700 867M60 846.5L700 871.5M60 851L700 876M60 855.5L700 880.5M60 860L700 885M60 864.5L700 889.5M60 869L700 894M60 873.5L700 898.5M60 878L700 903M60 882.5L700 907.5M60 887L700 912M60 891.5L700 916.5M60 896L700 921" stroke="#5a5a63" stroke-width=".6" fill="none" opacity=".85"/></g>
<clipPath id="cAgg"><polygon points="45,385 60,340 404,488 700,340 716,385 716,389 712,450 706,517 700,575 690,610 666,643 642,661 606,690 569,711 533,731 497,762 460,781 424,818 393,827 365,807 330,788 294,772 266,749 236,730 212,709 172,696 142,677 119,662 95,652 75,655 58,644 55,610 48,580 40,527 38,470 35,420"/></clipPath>
<g clip-path="url(#cAgg)">
<polygon points="56.5,388.5 67.3,356.2 404.4,501.2 693.2,356.8 704,387.1 704,388.6 700,449.1 694.1,515.8 688.2,572.7 679,604.7 657.4,634.5 634.6,651.5 599.2,680 563.1,700.5 526.1,721.1 490.3,752 452.8,771.2 417.6,807.4 395.2,813.9 371.4,796.8 335.3,777.2 300.4,761.7 273,739.3 243.2,720.4 218,698.3 177.1,685.1 148.5,666.9 124.6,651.3 96.5,639.6 77.7,642.5 69.4,637.1 66.9,608.1 59.8,577.7 52,525.9 50,469.4 47.1,421.3" fill="#6a6350"/>
</g>
<use href="#s6" x="693.2" y="353.1"/><use href="#s14" x="80.1" y="358.1"/><use href="#s9" x="686" y="359.2"/><use href="#s4" x="81.8" y="361.7"/><use href="#s3" x="675.3" y="362.1"/><use href="#s13" x="675" y="362.1"/><use href="#s14" x="100.1" y="367"/><use href="#s14" x="697.6" y="367.7"/><use href="#s8" x="690.6" y="369.2"/><use href="#s14" x="690.2" y="370.5"/><use href="#s11" x="656.6" y="371"/><use href="#s4" x="699.6" y="371"/><use href="#s12" x="660.9" y="371.2"/><use href="#s14" x="671.4" y="371.5"/><use href="#s8" x="113.4" y="371.9"/><use href="#s13" x="673.6" y="373.2"/><use href="#s5" x="67.4" y="373.8"/><use href="#s2" x="100.7" y="374.1"/><use href="#s0" x="65.5" y="375.2"/><use href="#s2" x="95" y="375.5"/><use href="#s5" x="56.6" y="376.9"/><use href="#s12" x="659.9" y="377.5"/><use href="#s9" x="110.9" y="377.9"/><use href="#s9" x="702.5" y="379.1"/><use href="#s5" x="651.5" y="379.7"/><use href="#s14" x="75.8" y="380.1"/><use href="#s12" x="655.4" y="380.1"/><use href="#s12" x="55.8" y="380.2"/><use href="#s10" x="696.1" y="381.2"/><use href="#s7" x="63.7" y="382.8"/><use href="#s1" x="55.9" y="383.3"/><use href="#s15" x="101" y="383.3"/><use href="#s4" x="672.3" y="384.6"/><use href="#s3" x="110.2" y="385.2"/><use href="#s13" x="95.9" y="385.2"/><use href="#s5" x="637.6" y="385.4"/><use href="#s15" x="118.1" y="385.9"/><use href="#s6" x="706.3" y="386"/><use href="#s15" x="125.9" y="387.6"/><use href="#s5" x="705.4" y="388.5"/><use href="#s13" x="640.9" y="388.5"/><use href="#s11" x="637.4" y="389.2"/><use href="#s0" x="689.3" y="390.8"/><use href="#s4" x="61.4" y="391.5"/><use href="#s7" x="60.7" y="392.2"/><use href="#s3" x="669.1" y="392.9"/><use href="#s8" x="618.5" y="393.3"/><use href="#s6" x="684.4" y="393.3"/><use href="#s12" x="665.7" y="393.6"/><use href="#s14" x="117.7" y="394.2"/><use href="#s3" x="105.3" y="394.4"/><use href="#s4" x="632.8" y="394.5"/><use href="#s14" x="641.2" y="394.8"/><use href="#s6" x="116.1" y="395.7"/><use href="#s7" x="112.2" y="396"/><use href="#s10" x="658.4" y="396.8"/><use href="#s11" x="125.9" y="397.7"/><use href="#s13" x="173.9" y="397.8"/><use href="#s0" x="118.7" y="397.9"/><use href="#s14" x="698.5" y="398.2"/><use href="#s5" x="674.9" y="398.3"/><use href="#s5" x="133.7" y="398.5"/><use href="#s5" x="55.7" y="399.2"/><use href="#s11" x="640.8" y="399.5"/><use href="#s0" x="689.6" y="399.7"/><use href="#s13" x="663.1" y="399.9"/><use href="#s10" x="107.9" y="400.2"/><use href="#s8" x="171.9" y="400.3"/><use href="#s2" x="677.6" y="400.5"/><use href="#s1" x="105.4" y="400.8"/><use href="#s11" x="680.3" y="402.3"/><use href="#s10" x="646.8" y="402.5"/><use href="#s4" x="652.1" y="402.6"/><use href="#s4" x="175.2" y="402.7"/><use href="#s11" x="61.1" y="402.8"/><use href="#s9" x="90.4" y="403"/><use href="#s8" x="668.3" y="403.7"/><use href="#s2" x="704.1" y="404.3"/><use href="#s7" x="620.7" y="404.4"/><use href="#s12" x="139.9" y="404.7"/><use href="#s7" x="683" y="405.6"/><use href="#s9" x="661" y="405.7"/><use href="#s1" x="682" y="405.8"/><use href="#s6" x="614.7" y="405.9"/><use href="#s3" x="104.5" y="406"/><use href="#s10" x="89.9" y="406.2"/><use href="#s1" x="186.6" y="406.3"/><use href="#s2" x="128.8" y="406.5"/><use href="#s3" x="131" y="406.9"/><use href="#s3" x="65.6" y="407"/><use href="#s2" x="667.7" y="407"/><use href="#s12" x="609.6" y="407"/><use href="#s9" x="691.7" y="407.4"/><use href="#s7" x="131.3" y="407.8"/><use href="#s10" x="148.4" y="407.8"/><use href="#s5" x="114.4" y="408.4"/><use href="#s11" x="189.3" y="408.6"/><use href="#s13" x="590.7" y="408.6"/><use href="#s2" x="157.4" y="408.9"/><use href="#s11" x="166.3" y="408.9"/><use href="#s3" x="63.9" y="409.5"/><use href="#s14" x="182" y="409.5"/><use href="#s11" x="67.3" y="409.6"/><use href="#s12" x="625.5" y="409.7"/><use href="#s0" x="596.7" y="409.8"/><use href="#s14" x="47" y="409.9"/><use href="#s0" x="701.1" y="410.6"/><use href="#s14" x="172.4" y="410.7"/><use href="#s9" x="641.5" y="410.9"/><use href="#s11" x="607.3" y="411.1"/><use href="#s12" x="697.7" y="411.3"/><use href="#s1" x="60.9" y="412.2"/><use href="#s14" x="658.3" y="412.2"/><use href="#s15" x="205.7" y="412.7"/><use href="#s4" x="577.7" y="413.1"/><use href="#s1" x="64.3" y="414.6"/><use href="#s0" x="609" y="414.6"/><use href="#s6" x="599.8" y="415.2"/><use href="#s4" x="162.5" y="415.5"/><use href="#s4" x="186.3" y="415.5"/><use href="#s5" x="616.2" y="415.6"/><use href="#s13" x="145.6" y="416"/><use href="#s2" x="655.5" y="416.5"/><use href="#s8" x="127.4" y="416.6"/><use href="#s14" x="71.7" y="416.7"/><use href="#s1" x="129" y="417.5"/><use href="#s6" x="562.6" y="417.9"/><use href="#s10" x="651.3" y="418.5"/><use href="#s4" x="219.7" y="418.6"/><use href="#s14" x="578" y="418.6"/><use href="#s15" x="687" y="418.7"/><use href="#s11" x="684.5" y="419"/><use href="#s6" x="220.3" y="419.6"/><use href="#s11" x="170.7" y="419.8"/><use href="#s5" x="73.4" y="420.3"/><use href="#s11" x="169.7" y="420.4"/><use href="#s5" x="48.5" y="420.4"/><use href="#s2" x="657.4" y="420.9"/><use href="#s3" x="651.6" y="421.1"/><use href="#s5" x="174.6" y="421.2"/><use href="#s5" x="104.4" y="421.5"/><use href="#s13" x="200.8" y="421.5"/><use href="#s8" x="582.7" y="421.7"/><use href="#s13" x="132.5" y="421.8"/><use href="#s15" x="164.4" y="422"/><use href="#s11" x="62.8" y="422.1"/><use href="#s6" x="93.7" y="422.1"/><use href="#s13" x="583.7" y="422.2"/><use href="#s10" x="221" y="422.2"/><use href="#s0" x="636.5" y="422.3"/><use href="#s1" x="171.2" y="422.7"/><use href="#s12" x="658" y="422.7"/><use href="#s12" x="86.4" y="424.2"/><use href="#s4" x="577.6" y="424.2"/><use href="#s0" x="136" y="424.3"/><use href="#s8" x="219.6" y="424.4"/><use href="#s7" x="692.2" y="424.5"/><use href="#s6" x="652.6" y="424.6"/><use href="#s15" x="593.5" y="425.1"/><use href="#s11" x="173" y="425.3"/><use href="#s1" x="219.7" y="425.3"/><use href="#s2" x="60" y="425.6"/><use href="#s1" x="672.7" y="425.8"/><use href="#s2" x="705.4" y="425.9"/><use href="#s2" x="236.8" y="425.9"/><use href="#s14" x="610.6" y="426"/><use href="#s4" x="228.1" y="426.1"/><use href="#s3" x="161.5" y="426.2"/><use href="#s3" x="145" y="426.2"/><use href="#s5" x="562" y="426.3"/><use href="#s13" x="126.1" y="426.4"/><use href="#s15" x="676.3" y="426.6"/><use href="#s1" x="684.2" y="426.7"/><use href="#s1" x="122.8" y="426.8"/><use href="#s6" x="92.9" y="427.2"/><use href="#s6" x="88.9" y="427.5"/><use href="#s6" x="122.3" y="428"/><use href="#s1" x="183" y="428"/><use href="#s9" x="146.1" y="428.6"/><use href="#s11" x="615.9" y="428.7"/><use href="#s3" x="209.5" y="429"/><use href="#s6" x="560.8" y="429.4"/><use href="#s4" x="100" y="429.4"/><use href="#s14" x="200.4" y="429.4"/><use href="#s2" x="119.1" y="429.5"/><use href="#s1" x="226.8" y="429.6"/><use href="#s13" x="51.6" y="429.9"/><use href="#s12" x="71.8" y="429.9"/><use href="#s3" x="117.7" y="430"/><use href="#s13" x="107.3" y="430"/><use href="#s1" x="587" y="430.1"/><use href="#s1" x="649.3" y="430.1"/><use href="#s8" x="93.3" y="430.2"/><use href="#s11" x="586.2" y="430.3"/><use href="#s12" x="227.8" y="430.5"/><use href="#s14" x="134.8" y="430.8"/><use href="#s14" x="209.2" y="430.8"/><use href="#s8" x="167.2" y="430.8"/><use href="#s10" x="688.4" y="431.3"/><use href="#s2" x="637.4" y="431.5"/><use href="#s15" x="629.4" y="431.5"/><use href="#s7" x="163.6" y="431.6"/><use href="#s10" x="49.9" y="432.3"/><use href="#s4" x="704.5" y="432.6"/><use href="#s0" x="73.6" y="432.8"/><use href="#s15" x="704" y="432.8"/><use href="#s8" x="75.4" y="432.9"/><use href="#s11" x="553.4" y="433"/><use href="#s7" x="147.3" y="433.3"/><use href="#s8" x="696.4" y="433.4"/><use href="#s12" x="667.9" y="433.5"/><use href="#s13" x="547.9" y="433.5"/><use href="#s8" x="539.7" y="433.7"/><use href="#s2" x="203.4" y="433.8"/><use href="#s14" x="170.1" y="433.9"/><use href="#s8" x="129.5" y="433.9"/><use href="#s11" x="552.9" y="434.9"/><use href="#s5" x="235" y="435.5"/><use href="#s1" x="159.6" y="435.8"/><use href="#s11" x="249" y="436"/><use href="#s2" x="704.4" y="436.1"/><use href="#s13" x="671.4" y="436.1"/><use href="#s10" x="92.3" y="436.2"/><use href="#s14" x="630.9" y="436.2"/><use href="#s15" x="228.2" y="436.3"/><use href="#s3" x="115" y="436.4"/><use href="#s9" x="535" y="436.5"/><use href="#s0" x="176.8" y="436.5"/><use href="#s14" x="231.3" y="436.6"/><use href="#s13" x="49.4" y="436.7"/><use href="#s15" x="247.5" y="436.8"/><use href="#s11" x="263.1" y="436.8"/><use href="#s5" x="121.5" y="436.8"/><use href="#s15" x="86.5" y="437.1"/><use href="#s0" x="531.7" y="437.3"/><use href="#s8" x="227.2" y="437.4"/><use href="#s4" x="587.3" y="437.4"/><use href="#s14" x="86.6" y="437.4"/><use href="#s5" x="112.2" y="438"/><use href="#s10" x="83.5" y="438.2"/><use href="#s14" x="558.2" y="438.2"/><use href="#s7" x="654.7" y="438.4"/><use href="#s13" x="176.2" y="438.4"/><use href="#s4" x="118" y="438.7"/><use href="#s13" x="188.7" y="438.7"/><use href="#s7" x="142.5" y="439.3"/><use href="#s1" x="100.5" y="439.5"/><use href="#s4" x="164.8" y="439.5"/><use href="#s15" x="118.1" y="439.5"/><use href="#s11" x="591.9" y="439.7"/><use href="#s15" x="167.7" y="439.8"/><use href="#s9" x="50" y="439.9"/><use href="#s12" x="524.9" y="440"/><use href="#s8" x="167.9" y="440.3"/><use href="#s5" x="60.5" y="440.3"/><use href="#s15" x="112.1" y="440.4"/><use href="#s10" x="703.9" y="440.6"/><use href="#s6" x="261.7" y="440.7"/><use href="#s1" x="529.3" y="440.7"/><use href="#s6" x="651.3" y="441.3"/><use href="#s13" x="697.8" y="441.4"/><use href="#s4" x="258.3" y="441.4"/><use href="#s2" x="209.8" y="441.5"/><use href="#s0" x="136" y="441.6"/><use href="#s8" x="673.2" y="441.7"/><use href="#s3" x="106.8" y="442.2"/><use href="#s10" x="58.8" y="442.5"/><use href="#s4" x="162.6" y="442.6"/><use href="#s2" x="240.5" y="442.9"/><use href="#s13" x="606" y="443.1"/><use href="#s0" x="551.7" y="443.1"/><use href="#s4" x="139.4" y="443.2"/><use href="#s7" x="246.3" y="443.2"/><use href="#s5" x="146.8" y="443.2"/><use href="#s2" x="531.7" y="443.4"/><use href="#s11" x="617.6" y="443.6"/><use href="#s11" x="181" y="443.6"/><use href="#s9" x="132.1" y="444"/><use href="#s5" x="686" y="444"/><use href="#s4" x="220.3" y="444.1"/><use href="#s5" x="107.2" y="444.1"/><use href="#s8" x="86.4" y="444.2"/><use href="#s14" x="697.5" y="444.2"/><use href="#s2" x="526.7" y="444.2"/><use href="#s1" x="593.2" y="444.6"/><use href="#s14" x="543" y="444.7"/><use href="#s13" x="528.3" y="444.7"/><use href="#s7" x="620.8" y="445"/><use href="#s8" x="183.7" y="445.3"/><use href="#s2" x="44.5" y="445.4"/><use href="#s12" x="665.4" y="445.6"/><use href="#s3" x="602" y="445.7"/><use href="#s12" x="547.6" y="446"/><use href="#s1" x="281.8" y="446.1"/><use href="#s10" x="271.1" y="446.2"/><use href="#s10" x="206.1" y="446.3"/><use href="#s8" x="234.1" y="446.3"/><use href="#s0" x="661.9" y="446.7"/><use href="#s2" x="591.3" y="446.9"/><use href="#s12" x="677.5" y="447"/><use href="#s8" x="218.9" y="447.1"/><use href="#s12" x="617.9" y="447.2"/><use href="#s6" x="550.8" y="447.3"/><use href="#s13" x="212.7" y="447.4"/><use href="#s9" x="519.5" y="448.1"/><use href="#s10" x="648" y="448.2"/><use href="#s0" x="285.7" y="448.5"/><use href="#s9" x="87" y="448.9"/><use href="#s12" x="624" y="448.9"/><use href="#s12" x="645.2" y="449"/><use href="#s1" x="629" y="449.3"/><use href="#s1" x="587.3" y="449.3"/><use href="#s11" x="595.3" y="449.3"/><use href="#s14" x="585" y="449.8"/><use href="#s0" x="676.7" y="449.9"/><use href="#s0" x="125.7" y="450.2"/><use href="#s8" x="258.2" y="450.6"/><use href="#s2" x="154.9" y="450.6"/><use href="#s8" x="602.7" y="450.7"/><use href="#s14" x="195.3" y="450.9"/><use href="#s8" x="496.1" y="451.1"/><use href="#s7" x="675.8" y="451.2"/><use href="#s6" x="254" y="451.2"/><use href="#s0" x="293.4" y="451.5"/><use href="#s12" x="268.3" y="451.5"/><use href="#s5" x="114.7" y="451.5"/><use href="#s13" x="230.4" y="451.7"/><use href="#s11" x="173" y="451.7"/><use href="#s15" x="495.3" y="451.8"/><use href="#s2" x="528.7" y="451.9"/><use href="#s0" x="111" y="451.9"/><use href="#s6" x="246.4" y="452.4"/><use href="#s12" x="663.9" y="452.5"/><use href="#s9" x="228.8" y="453.3"/><use href="#s7" x="691.5" y="453.6"/><use href="#s6" x="218.6" y="453.6"/><use href="#s14" x="607.7" y="453.9"/><use href="#s1" x="265.5" y="454"/><use href="#s4" x="612.5" y="454"/><use href="#s0" x="589.5" y="454.1"/><use href="#s12" x="616.8" y="454.1"/><use href="#s15" x="676.2" y="454.2"/><use href="#s8" x="516" y="454.2"/><use href="#s9" x="165.7" y="454.4"/><use href="#s0" x="189" y="454.8"/><use href="#s4" x="76.2" y="454.8"/><use href="#s13" x="576.4" y="455"/><use href="#s8" x="576.2" y="455.1"/><use href="#s2" x="247.1" y="455.1"/><use href="#s7" x="181.6" y="455.3"/><use href="#s3" x="182.1" y="455.3"/><use href="#s10" x="104.3" y="455.4"/><use href="#s3" x="223.7" y="455.6"/><use href="#s7" x="245.9" y="455.6"/><use href="#s0" x="96" y="455.9"/><use href="#s7" x="185.7" y="456"/><use href="#s2" x="175.5" y="456"/><use href="#s5" x="252.4" y="456.2"/><use href="#s6" x="595" y="456.6"/><use href="#s9" x="695.7" y="456.9"/><use href="#s11" x="568.4" y="457.3"/><use href="#s12" x="528.1" y="457.4"/><use href="#s10" x="493.3" y="457.4"/><use href="#s0" x="279.8" y="457.4"/><use href="#s2" x="247.6" y="457.5"/><use href="#s15" x="232.8" y="457.6"/><use href="#s1" x="576.5" y="458.2"/><use href="#s14" x="629.4" y="458.2"/><use href="#s14" x="625.4" y="458.5"/><use href="#s1" x="587.4" y="458.8"/><use href="#s12" x="545.1" y="458.9"/><use href="#s8" x="502" y="459.3"/><use href="#s11" x="512.2" y="459.4"/><use href="#s15" x="571.6" y="459.4"/><use href="#s3" x="113.1" y="459.5"/><use href="#s9" x="151.9" y="459.6"/><use href="#s8" x="509" y="459.6"/><use href="#s14" x="91" y="459.9"/><use href="#s14" x="599.3" y="460.2"/><use href="#s6" x="490.4" y="460.4"/><use href="#s1" x="106.7" y="460.7"/><use href="#s10" x="296.6" y="460.8"/><use href="#s15" x="657.8" y="460.9"/><use href="#s12" x="311.6" y="461.1"/><use href="#s14" x="214.1" y="461.2"/><use href="#s10" x="256" y="461.3"/><use href="#s5" x="114.9" y="461.4"/><use href="#s1" x="687.6" y="461.9"/><use href="#s3" x="70" y="461.9"/><use href="#s14" x="586" y="461.9"/><use href="#s13" x="136.8" y="462.1"/><use href="#s7" x="296.1" y="462.5"/><use href="#s6" x="274.7" y="462.6"/><use href="#s0" x="87.7" y="462.7"/><use href="#s1" x="685.4" y="462.7"/><use href="#s6" x="532.8" y="462.8"/><use href="#s9" x="262.8" y="463.1"/><use href="#s13" x="265.4" y="463.3"/><use href="#s14" x="634.1" y="463.6"/><use href="#s11" x="621.2" y="463.7"/><use href="#s2" x="536" y="463.8"/><use href="#s2" x="144.4" y="464"/><use href="#s4" x="535.1" y="464.4"/><use href="#s6" x="304.3" y="464.5"/><use href="#s5" x="94.4" y="464.8"/><use href="#s14" x="523.5" y="465.4"/><use href="#s0" x="329.1" y="465.4"/><use href="#s8" x="91.1" y="465.5"/><use href="#s15" x="295" y="465.8"/><use href="#s5" x="676.2" y="465.8"/><use href="#s7" x="624.4" y="466.1"/><use href="#s9" x="648.8" y="466.1"/><use href="#s15" x="534.3" y="466.2"/><use href="#s5" x="226.1" y="466.2"/><use href="#s10" x="291.7" y="466.5"/><use href="#s4" x="326.5" y="466.5"/><use href="#s13" x="231.9" y="466.5"/><use href="#s6" x="687.5" y="466.6"/><use href="#s15" x="501.5" y="466.7"/><use href="#s14" x="650.3" y="466.9"/><use href="#s3" x="58.6" y="467.1"/><use href="#s5" x="553.1" y="467.1"/><use href="#s13" x="331.9" y="467.1"/><use href="#s14" x="53.5" y="467.2"/><use href="#s7" x="658" y="467.2"/><use href="#s14" x="529.1" y="467.3"/><use href="#s7" x="128.3" y="467.4"/><use href="#s14" x="292.9" y="467.5"/><use href="#s7" x="187" y="467.5"/><use href="#s14" x="126.4" y="467.5"/><use href="#s15" x="265.3" y="467.6"/><use href="#s15" x="553.1" y="467.7"/><use href="#s2" x="654.9" y="467.9"/><use href="#s1" x="95.6" y="468"/><use href="#s9" x="685.9" y="468"/><use href="#s0" x="121.9" y="468.3"/><use href="#s6" x="496.2" y="468.8"/><use href="#s12" x="124.5" y="469"/><use href="#s8" x="560" y="469"/><use href="#s0" x="296.7" y="469.2"/><use href="#s6" x="464.7" y="469.6"/><use href="#s7" x="55.7" y="469.9"/><use href="#s15" x="299" y="470.4"/><use href="#s15" x="185" y="470.7"/><use href="#s4" x="559.1" y="470.7"/><use href="#s15" x="282.2" y="470.8"/><use href="#s12" x="119.3" y="471"/><use href="#s8" x="526" y="471.1"/><use href="#s4" x="648.8" y="471.1"/><use href="#s4" x="83" y="471.1"/><use href="#s3" x="267.6" y="471.1"/><use href="#s14" x="310" y="471.3"/><use href="#s9" x="245.5" y="471.4"/><use href="#s3" x="591.2" y="471.7"/><use href="#s1" x="620.2" y="471.7"/><use href="#s14" x="563.1" y="471.8"/><use href="#s4" x="162.9" y="471.8"/><use href="#s4" x="501.6" y="473"/><use href="#s10" x="90.2" y="473.2"/><use href="#s0" x="201.1" y="473.4"/><use href="#s9" x="690.9" y="473.8"/><use href="#s9" x="451.8" y="473.9"/><use href="#s1" x="65.6" y="474"/><use href="#s13" x="649.2" y="474.1"/><use href="#s3" x="122.1" y="474.3"/><use href="#s8" x="231.3" y="474.5"/><use href="#s14" x="496.1" y="474.7"/><use href="#s0" x="97.8" y="474.7"/><use href="#s3" x="293.3" y="475.3"/><use href="#s14" x="573.1" y="475.3"/><use href="#s6" x="183.6" y="475.4"/><use href="#s12" x="562.7" y="475.6"/><use href="#s0" x="559.9" y="475.6"/><use href="#s8" x="299.9" y="475.8"/><use href="#s8" x="292.1" y="475.9"/><use href="#s10" x="460.4" y="476.1"/><use href="#s8" x="684.8" y="476.2"/><use href="#s13" x="141" y="476.3"/><use href="#s2" x="653" y="476.3"/><use href="#s12" x="534.9" y="476.8"/><use href="#s13" x="508.6" y="476.8"/><use href="#s14" x="454.6" y="476.9"/><use href="#s0" x="555.8" y="477.1"/><use href="#s0" x="355.3" y="477.2"/><use href="#s9" x="618.5" y="477.2"/><use href="#s11" x="253.3" y="477.6"/><use href="#s13" x="525.2" y="477.6"/><use href="#s12" x="553.3" y="477.6"/><use href="#s5" x="690.6" y="477.7"/><use href="#s5" x="134.2" y="477.9"/><use href="#s14" x="293.3" y="478"/><use href="#s2" x="304.7" y="478"/><use href="#s5" x="613.5" y="478.2"/><use href="#s1" x="150.8" y="478.2"/><use href="#s15" x="695.9" y="478.4"/><use href="#s15" x="647.8" y="478.5"/><use href="#s6" x="53.2" y="479.1"/><use href="#s10" x="330.6" y="479.1"/><use href="#s13" x="317.6" y="479.3"/><use href="#s9" x="635.2" y="479.5"/><use href="#s6" x="101.7" y="479.5"/><use href="#s5" x="253.8" y="479.5"/><use href="#s3" x="649.9" y="479.8"/><use href="#s11" x="107.1" y="479.9"/><use href="#s8" x="445.2" y="479.9"/><use href="#s15" x="178.1" y="480"/><use href="#s1" x="460.4" y="480"/><use href="#s2" x="309.5" y="480.1"/><use href="#s13" x="64.5" y="480.2"/><use href="#s11" x="473.2" y="480.2"/><use href="#s8" x="544.1" y="480.4"/><use href="#s3" x="190.9" y="480.6"/><use href="#s0" x="587.5" y="480.7"/><use href="#s14" x="120.2" y="480.7"/><use href="#s6" x="163.1" y="480.8"/><use href="#s11" x="529.6" y="480.8"/><use href="#s8" x="170.2" y="480.9"/><use href="#s5" x="285.5" y="481.4"/><use href="#s13" x="495.6" y="481.4"/><use href="#s12" x="459.7" y="481.6"/><use href="#s0" x="456.2" y="481.6"/><use href="#s7" x="101.7" y="481.7"/><use href="#s10" x="123" y="481.8"/><use href="#s7" x="59.2" y="481.8"/><use href="#s4" x="470.3" y="481.9"/><use href="#s11" x="480.6" y="481.9"/><use href="#s8" x="685.2" y="482"/><use href="#s15" x="238.9" y="482.2"/><use href="#s12" x="644.8" y="482.2"/><use href="#s3" x="65.5" y="482.2"/><use href="#s13" x="607.7" y="482.5"/><use href="#s0" x="142.1" y="482.5"/><use href="#s12" x="586.6" y="482.6"/><use href="#s15" x="433.4" y="482.6"/><use href="#s11" x="273.9" y="482.6"/><use href="#s10" x="573.2" y="482.7"/><use href="#s1" x="484.5" y="482.8"/><use href="#s1" x="462.6" y="482.8"/><use href="#s8" x="75.5" y="483"/><use href="#s2" x="679" y="483.2"/><use href="#s11" x="151.2" y="483.2"/><use href="#s4" x="278.8" y="483.2"/><use href="#s6" x="572.8" y="483.2"/><use href="#s11" x="93.2" y="483.6"/><use href="#s2" x="488.8" y="483.9"/><use href="#s13" x="267.6" y="483.9"/><use href="#s1" x="349.5" y="483.9"/><use href="#s11" x="259.7" y="484"/><use href="#s15" x="239.5" y="484.2"/><use href="#s3" x="124.6" y="484.4"/><use href="#s4" x="675.9" y="484.5"/><use href="#s7" x="107.9" y="485"/><use href="#s6" x="204.4" y="485"/><use href="#s14" x="536" y="485.7"/><use href="#s7" x="183.7" y="486"/><use href="#s3" x="509.9" y="486.1"/><use href="#s15" x="302.8" y="486.2"/><use href="#s0" x="105.2" y="486.2"/><use href="#s7" x="343.9" y="486.6"/><use href="#s1" x="596" y="487"/><use href="#s9" x="65.6" y="487.1"/><use href="#s7" x="80.6" y="487.3"/><use href="#s15" x="659.9" y="487.3"/><use href="#s11" x="203.9" y="487.5"/><use href="#s5" x="564" y="487.7"/><use href="#s3" x="654.6" y="488"/><use href="#s3" x="665.6" y="488"/><use href="#s11" x="457.6" y="488.2"/><use href="#s8" x="89.8" y="488.2"/><use href="#s9" x="290.7" y="488.3"/><use href="#s0" x="574.9" y="488.6"/><use href="#s9" x="330.9" y="488.7"/><use href="#s5" x="344.8" y="488.9"/><use href="#s15" x="273.7" y="489.1"/><use href="#s15" x="342.3" y="489.1"/><use href="#s8" x="524" y="489.4"/><use href="#s8" x="690.9" y="489.4"/><use href="#s0" x="697.8" y="489.4"/><use href="#s13" x="247.7" y="489.5"/><use href="#s11" x="644" y="489.5"/><use href="#s8" x="296.2" y="489.6"/><use href="#s12" x="488" y="489.6"/><use href="#s15" x="419.3" y="489.6"/><use href="#s3" x="111.5" y="489.7"/><use href="#s3" x="209.1" y="489.8"/><use href="#s13" x="149.5" y="489.9"/><use href="#s12" x="528.6" y="490.1"/><use href="#s12" x="685.1" y="490.2"/><use href="#s9" x="285.8" y="490.4"/><use href="#s10" x="148.1" y="490.5"/><use href="#s1" x="529.7" y="490.5"/><use href="#s6" x="623.9" y="490.6"/><use href="#s2" x="636.5" y="490.7"/><use href="#s0" x="667.8" y="491"/><use href="#s11" x="549.4" y="491.4"/><use href="#s3" x="48.6" y="491.6"/><use href="#s1" x="79.3" y="491.7"/><use href="#s12" x="573.7" y="491.7"/><use href="#s7" x="388.3" y="491.7"/><use href="#s4" x="103.3" y="492"/><use href="#s12" x="698" y="492"/><use href="#s4" x="280.1" y="492"/><use href="#s15" x="242.2" y="492.1"/><use href="#s14" x="512.5" y="492.2"/><use href="#s3" x="456.8" y="492.2"/><use href="#s8" x="428.2" y="492.4"/><use href="#s2" x="629.9" y="492.4"/><use href="#s5" x="612.8" y="492.6"/><use href="#s15" x="282.7" y="492.7"/><use href="#s2" x="415.7" y="492.8"/><use href="#s5" x="134.1" y="492.9"/><use href="#s3" x="626.5" y="493"/><use href="#s4" x="423.9" y="493.1"/><use href="#s0" x="599" y="493.2"/><use href="#s0" x="123.7" y="493.3"/><use href="#s11" x="202.1" y="493.3"/><use href="#s1" x="412.3" y="493.4"/><use href="#s6" x="183.5" y="493.6"/><use href="#s0" x="340" y="493.7"/><use href="#s5" x="691.5" y="493.7"/><use href="#s14" x="396.6" y="494"/><use href="#s7" x="667.5" y="494"/><use href="#s2" x="506.7" y="494"/><use href="#s10" x="354.5" y="494.1"/><use href="#s9" x="519.7" y="494.1"/><use href="#s8" x="240.6" y="494.2"/><use href="#s8" x="237.7" y="494.2"/><use href="#s11" x="560.4" y="494.5"/><use href="#s13" x="526.7" y="494.5"/><use href="#s14" x="672.2" y="494.5"/><use href="#s13" x="497.4" y="494.6"/><use href="#s0" x="82.7" y="494.6"/><use href="#s0" x="698.1" y="494.7"/><use href="#s9" x="613.3" y="494.8"/><use href="#s7" x="682.4" y="495.1"/><use href="#s7" x="421" y="495.1"/><use href="#s15" x="448.1" y="495.4"/><use href="#s4" x="325.8" y="495.5"/><use href="#s2" x="693" y="495.6"/><use href="#s3" x="568" y="495.7"/><use href="#s1" x="622.6" y="495.7"/><use href="#s0" x="87.1" y="495.8"/><use href="#s11" x="550.5" y="496.1"/><use href="#s14" x="652.4" y="496.7"/><use href="#s10" x="372.6" y="497.2"/><use href="#s0" x="605.6" y="497.2"/><use href="#s11" x="177.5" y="497.2"/><use href="#s7" x="613.5" y="497.3"/><use href="#s14" x="73.9" y="497.4"/><use href="#s10" x="197.1" y="497.5"/><use href="#s1" x="299.3" y="497.8"/><use href="#s5" x="112.3" y="497.8"/><use href="#s14" x="643.6" y="498"/><use href="#s11" x="584.9" y="498.3"/><use href="#s15" x="563.2" y="498.3"/><use href="#s11" x="137.4" y="498.5"/><use href="#s4" x="72" y="498.6"/><use href="#s11" x="520.9" y="498.8"/><use href="#s11" x="588.1" y="498.9"/><use href="#s14" x="677.8" y="499"/><use href="#s15" x="154" y="499.2"/><use href="#s11" x="344.4" y="499.9"/><use href="#s1" x="166.4" y="500"/><use href="#s0" x="398.1" y="500"/><use href="#s13" x="63.6" y="500"/><use href="#s4" x="169.4" y="500.1"/><use href="#s14" x="178.8" y="500.2"/><use href="#s14" x="51.6" y="500.3"/><use href="#s9" x="361.8" y="500.4"/><use href="#s14" x="454.5" y="500.4"/><use href="#s2" x="495.8" y="500.5"/><use href="#s9" x="698.2" y="500.6"/><use href="#s3" x="491.7" y="500.7"/><use href="#s2" x="266.5" y="500.9"/><use href="#s10" x="284.7" y="501.1"/><use href="#s2" x="353.3" y="501.1"/><use href="#s12" x="678" y="501.2"/><use href="#s0" x="51.9" y="501.2"/><use href="#s8" x="473.5" y="501.3"/><use href="#s0" x="672" y="501.4"/><use href="#s9" x="246" y="501.5"/><use href="#s3" x="141.7" y="501.6"/><use href="#s12" x="288.2" y="501.7"/><use href="#s13" x="472.1" y="502.1"/><use href="#s8" x="244" y="502.3"/><use href="#s13" x="540.8" y="502.4"/><use href="#s10" x="335.6" y="502.4"/><use href="#s15" x="445.1" y="502.5"/><use href="#s14" x="290.4" y="502.6"/><use href="#s13" x="315.2" y="502.7"/><use href="#s5" x="171.3" y="502.8"/><use href="#s11" x="116" y="502.8"/><use href="#s5" x="50.9" y="502.8"/><use href="#s0" x="483.9" y="503"/><use href="#s11" x="363.1" y="503.2"/><use href="#s2" x="224.7" y="503.2"/><use href="#s0" x="376.4" y="503.2"/><use href="#s3" x="324" y="503.3"/><use href="#s8" x="140.9" y="503.4"/><use href="#s7" x="477" y="503.5"/><use href="#s10" x="622.6" y="503.6"/><use href="#s10" x="581.6" y="503.6"/><use href="#s5" x="374.9" y="503.7"/><use href="#s15" x="527.3" y="503.8"/><use href="#s6" x="255.3" y="503.9"/><use href="#s10" x="103.4" y="503.9"/><use href="#s8" x="421.5" y="504.1"/><use href="#s10" x="596.5" y="504.1"/><use href="#s8" x="514.1" y="504.2"/><use href="#s14" x="96.7" y="504.2"/><use href="#s1" x="147" y="504.3"/><use href="#s4" x="294.5" y="504.4"/><use href="#s0" x="266.6" y="504.4"/><use href="#s9" x="68.9" y="504.5"/><use href="#s11" x="104" y="504.5"/><use href="#s14" x="567" y="504.6"/><use href="#s0" x="620.2" y="505"/><use href="#s11" x="91.3" y="505.1"/><use href="#s14" x="83.5" y="505.1"/><use href="#s8" x="318.8" y="505.1"/><use href="#s5" x="389.4" y="505.3"/><use href="#s3" x="329.6" y="505.4"/><use href="#s9" x="253.4" y="505.6"/><use href="#s2" x="458.2" y="505.6"/><use href="#s7" x="411.3" y="505.7"/><use href="#s10" x="276.7" y="505.7"/><use href="#s10" x="246.6" y="505.8"/><use href="#s2" x="225.5" y="505.9"/><use href="#s8" x="325.5" y="506"/><use href="#s8" x="151.7" y="506.1"/><use href="#s3" x="204.3" y="506.2"/><use href="#s13" x="593.5" y="506.2"/><use href="#s3" x="683.1" y="506.2"/><use href="#s8" x="351.3" y="506.2"/><use href="#s9" x="56.5" y="506.4"/><use href="#s11" x="290.4" y="506.4"/><use href="#s13" x="180.3" y="506.5"/><use href="#s3" x="649.1" y="506.6"/><use href="#s9" x="237.7" y="506.7"/><use href="#s13" x="310.4" y="507"/><use href="#s6" x="314.2" y="507.2"/><use href="#s9" x="388.1" y="507.3"/><use href="#s1" x="609.5" y="507.4"/><use href="#s11" x="213.3" y="507.7"/><use href="#s8" x="266.4" y="507.8"/><use href="#s6" x="684.5" y="508.1"/><use href="#s1" x="483.9" y="508.2"/><use href="#s13" x="578.3" y="508.3"/><use href="#s8" x="101.4" y="508.3"/><use href="#s3" x="648.5" y="508.5"/><use href="#s14" x="661" y="508.7"/><use href="#s6" x="419.6" y="508.7"/><use href="#s12" x="330.3" y="508.7"/><use href="#s15" x="77.9" y="508.9"/><use href="#s3" x="405" y="509"/><use href="#s7" x="349.5" y="509.1"/><use href="#s9" x="548.5" y="509.5"/><use href="#s3" x="611.4" y="509.8"/><use href="#s0" x="351.1" y="509.8"/><use href="#s13" x="587.5" y="509.9"/><use href="#s10" x="429.7" y="510.1"/><use href="#s1" x="105" y="510.2"/><use href="#s5" x="462.4" y="510.5"/><use href="#s0" x="369.7" y="510.6"/><use href="#s6" x="687.6" y="510.7"/><use href="#s3" x="355.4" y="511"/><use href="#s8" x="655.1" y="511.1"/><use href="#s6" x="695.6" y="511.2"/><use href="#s12" x="488.2" y="511.2"/><use href="#s14" x="415.9" y="511.3"/><use href="#s2" x="588.1" y="511.3"/><use href="#s4" x="281.8" y="511.6"/><use href="#s2" x="389.4" y="511.7"/><use href="#s15" x="158.8" y="511.8"/><use href="#s1" x="651.9" y="511.8"/><use href="#s7" x="559.9" y="511.9"/><use href="#s6" x="93.7" y="512.3"/><use href="#s9" x="648" y="512.5"/><use href="#s11" x="141.3" y="512.5"/><use href="#s4" x="511.8" y="512.6"/><use href="#s11" x="297" y="512.7"/><use href="#s9" x="309.2" y="512.7"/><use href="#s14" x="683.1" y="512.8"/><use href="#s5" x="429.5" y="512.8"/><use href="#s12" x="131" y="512.9"/><use href="#s10" x="194.4" y="513.1"/><use href="#s6" x="382.2" y="513.4"/><use href="#s8" x="337.6" y="513.6"/><use href="#s7" x="216.2" y="513.8"/><use href="#s2" x="625.8" y="513.9"/><use href="#s2" x="688.3" y="513.9"/><use href="#s4" x="336" y="513.9"/><use href="#s8" x="197.4" y="514.1"/><use href="#s10" x="512.9" y="514.3"/><use href="#s0" x="79.4" y="514.6"/><use href="#s11" x="409.2" y="514.6"/><use href="#s2" x="368.9" y="514.6"/><use href="#s1" x="693.9" y="514.7"/><use href="#s14" x="501.1" y="514.8"/><use href="#s7" x="573.4" y="515.3"/><use href="#s7" x="660.7" y="515.7"/><use href="#s4" x="207.7" y="515.8"/><use href="#s15" x="548.7" y="515.9"/><use href="#s13" x="50.2" y="515.9"/><use href="#s2" x="289.3" y="516"/><use href="#s11" x="81.5" y="516.2"/><use href="#s12" x="362.6" y="516.2"/><use href="#s3" x="494.8" y="516.4"/><use href="#s10" x="687.5" y="516.7"/><use href="#s7" x="191.6" y="516.8"/><use href="#s12" x="403.1" y="516.9"/><use href="#s3" x="621.3" y="517"/><use href="#s12" x="180.2" y="517.1"/><use href="#s15" x="98.8" y="517.2"/><use href="#s13" x="275.2" y="517.4"/><use href="#s3" x="257.1" y="517.4"/><use href="#s8" x="385" y="517.6"/><use href="#s2" x="538.4" y="517.8"/><use href="#s7" x="469.2" y="517.9"/><use href="#s10" x="650" y="518.1"/><use href="#s3" x="100.3" y="518.1"/><use href="#s11" x="668.8" y="518.2"/><use href="#s3" x="472.6" y="518.3"/><use href="#s1" x="454.3" y="519.1"/><use href="#s1" x="509.9" y="519.2"/><use href="#s2" x="432.3" y="519.2"/><use href="#s10" x="530.6" y="519.2"/><use href="#s13" x="74" y="519.3"/><use href="#s1" x="561.1" y="519.3"/><use href="#s15" x="555.4" y="519.7"/><use href="#s11" x="165.9" y="520"/><use href="#s14" x="332.7" y="520"/><use href="#s0" x="67.8" y="520.2"/><use href="#s15" x="470.5" y="520.3"/><use href="#s4" x="558.9" y="520.3"/><use href="#s13" x="240.6" y="520.4"/><use href="#s3" x="228.3" y="520.4"/><use href="#s8" x="496.6" y="520.6"/><use href="#s4" x="566" y="520.6"/><use href="#s12" x="195.5" y="520.6"/><use href="#s14" x="127.7" y="520.6"/><use href="#s14" x="209.9" y="521.1"/><use href="#s7" x="603.3" y="521.2"/><use href="#s11" x="236.9" y="521.5"/><use href="#s8" x="166.2" y="521.8"/><use href="#s7" x="511.4" y="521.9"/><use href="#s0" x="411" y="522"/><use href="#s2" x="161.1" y="522.1"/><use href="#s4" x="449" y="522.1"/><use href="#s3" x="161.4" y="522.2"/><use href="#s2" x="303.4" y="522.2"/><use href="#s3" x="236.3" y="522.3"/><use href="#s12" x="180.4" y="522.3"/><use href="#s1" x="217.8" y="522.4"/><use href="#s7" x="436.1" y="522.5"/><use href="#s0" x="307.6" y="522.7"/><use href="#s9" x="299" y="522.7"/><use href="#s1" x="303.8" y="522.8"/><use href="#s3" x="401" y="522.8"/><use href="#s6" x="388.6" y="522.8"/><use href="#s2" x="648.9" y="523"/><use href="#s3" x="406.6" y="523"/><use href="#s4" x="377.4" y="523.2"/><use href="#s10" x="670.3" y="523.3"/><use href="#s6" x="273.6" y="523.5"/><use href="#s12" x="411.1" y="523.6"/><use href="#s0" x="440.5" y="523.7"/><use href="#s0" x="356.4" y="523.7"/><use href="#s11" x="287.5" y="523.9"/><use href="#s3" x="183.3" y="523.9"/><use href="#s3" x="194.8" y="523.9"/><use href="#s1" x="474.9" y="523.9"/><use href="#s14" x="336" y="524"/><use href="#s4" x="279.3" y="524.1"/><use href="#s6" x="82.9" y="524.3"/><use href="#s9" x="570.8" y="524.4"/><use href="#s2" x="84.5" y="524.4"/><use href="#s11" x="457.3" y="524.5"/><use href="#s6" x="392.1" y="524.5"/><use href="#s11" x="554.1" y="524.7"/><use href="#s7" x="602.3" y="524.7"/><use href="#s2" x="506.2" y="524.8"/><use href="#s5" x="417.1" y="524.9"/><use href="#s0" x="465.8" y="524.9"/><use href="#s12" x="653" y="525.2"/><use href="#s8" x="458" y="525.3"/><use href="#s0" x="554.9" y="525.4"/><use href="#s15" x="178.5" y="525.8"/><use href="#s2" x="107.2" y="525.9"/><use href="#s15" x="510" y="526"/><use href="#s12" x="53" y="526.2"/><use href="#s1" x="502.3" y="526.3"/><use href="#s10" x="88.4" y="526.4"/><use href="#s7" x="245.2" y="526.6"/><use href="#s0" x="51.5" y="526.6"/><use href="#s0" x="439.2" y="526.8"/><use href="#s0" x="512.8" y="526.8"/><use href="#s0" x="262.9" y="527.1"/><use href="#s3" x="568.4" y="527.2"/><use href="#s4" x="308.9" y="527.3"/><use href="#s14" x="580.8" y="527.4"/><use href="#s0" x="380.8" y="527.5"/><use href="#s1" x="371.6" y="527.5"/><use href="#s1" x="683.5" y="527.6"/><use href="#s6" x="171" y="527.6"/><use href="#s7" x="305.4" y="527.8"/><use href="#s11" x="687.7" y="527.8"/><use href="#s9" x="386" y="527.9"/><use href="#s13" x="513" y="528"/><use href="#s1" x="154.2" y="528.1"/><use href="#s6" x="674.9" y="528.2"/><use href="#s4" x="422.5" y="528.2"/><use href="#s9" x="360.2" y="528.2"/><use href="#s11" x="281.8" y="528.6"/><use href="#s6" x="539.5" y="528.6"/><use href="#s1" x="308.7" y="528.7"/><use href="#s5" x="335.5" y="528.7"/><use href="#s0" x="184.8" y="529.2"/><use href="#s4" x="92.1" y="529.8"/><use href="#s7" x="220.7" y="529.8"/><use href="#s9" x="388.2" y="529.9"/><use href="#s10" x="234.9" y="529.9"/><use href="#s7" x="491" y="530"/><use href="#s11" x="436.5" y="530.1"/><use href="#s13" x="565.8" y="530.2"/><use href="#s11" x="411.7" y="530.2"/><use href="#s4" x="275.5" y="530.3"/><use href="#s7" x="221.6" y="530.6"/><use href="#s3" x="661" y="530.6"/><use href="#s4" x="351.1" y="530.9"/><use href="#s4" x="231.8" y="531"/><use href="#s5" x="242.8" y="531.1"/><use href="#s9" x="212.3" y="531.1"/><use href="#s7" x="411.8" y="531.3"/><use href="#s14" x="498.2" y="531.8"/><use href="#s13" x="66.9" y="531.8"/><use href="#s11" x="511.9" y="531.8"/><use href="#s15" x="167.4" y="531.9"/><use href="#s10" x="438.4" y="532"/><use href="#s12" x="396.4" y="532.4"/><use href="#s1" x="596.1" y="532.6"/><use href="#s14" x="415.1" y="532.6"/><use href="#s9" x="295.2" y="532.9"/><use href="#s5" x="340.2" y="532.9"/><use href="#s4" x="412.8" y="533"/><use href="#s4" x="487.3" y="533"/><use href="#s9" x="513.8" y="533"/><use href="#s2" x="153.8" y="533.2"/><use href="#s0" x="234.1" y="533.3"/><use href="#s6" x="62.8" y="533.5"/><use href="#s4" x="458.3" y="533.7"/><use href="#s0" x="477.3" y="533.7"/><use href="#s11" x="253.8" y="533.7"/><use href="#s14" x="311.9" y="533.8"/><use href="#s13" x="641.6" y="533.8"/><use href="#s7" x="649.5" y="533.9"/><use href="#s14" x="684.7" y="533.9"/><use href="#s4" x="539.2" y="534.1"/><use href="#s6" x="686.5" y="534.1"/><use href="#s6" x="669" y="534.2"/><use href="#s2" x="615.8" y="534.5"/><use href="#s12" x="400.5" y="534.5"/><use href="#s8" x="240.7" y="534.5"/><use href="#s4" x="220.3" y="534.6"/><use href="#s6" x="569.5" y="534.6"/><use href="#s0" x="462" y="534.7"/><use href="#s0" x="645.9" y="534.7"/><use href="#s1" x="228.3" y="534.9"/><use href="#s9" x="616.5" y="535"/><use href="#s15" x="466.7" y="535.1"/><use href="#s5" x="65.4" y="535.3"/><use href="#s8" x="653.7" y="535.3"/><use href="#s12" x="429.3" y="535.6"/><use href="#s5" x="355.6" y="535.6"/><use href="#s8" x="158.6" y="535.8"/><use href="#s12" x="647.6" y="535.8"/><use href="#s7" x="495.4" y="535.8"/><use href="#s13" x="127.7" y="535.9"/><use href="#s4" x="351.1" y="535.9"/><use href="#s11" x="100" y="536"/><use href="#s8" x="671.4" y="536.2"/><use href="#s10" x="51.5" y="536.5"/><use href="#s6" x="636.4" y="536.7"/><use href="#s13" x="286" y="536.7"/><use href="#s5" x="229.8" y="536.7"/><use href="#s0" x="332.7" y="536.8"/><use href="#s12" x="565.8" y="536.8"/><use href="#s13" x="135.1" y="536.8"/><use href="#s6" x="246" y="536.9"/><use href="#s15" x="149.8" y="537"/><use href="#s13" x="82.2" y="537.2"/><use href="#s5" x="255.3" y="537.2"/><use href="#s6" x="508" y="537.4"/><use href="#s6" x="613.5" y="537.4"/><use href="#s10" x="253.3" y="537.8"/><use href="#s8" x="589.5" y="538.2"/><use href="#s7" x="437.5" y="538.2"/><use href="#s6" x="310.4" y="538.3"/><use href="#s15" x="420.8" y="538.3"/><use href="#s2" x="600.7" y="538.4"/><use href="#s8" x="659" y="538.5"/><use href="#s11" x="452.5" y="538.6"/><use href="#s0" x="252.5" y="538.7"/><use href="#s5" x="265.3" y="538.7"/><use href="#s7" x="186.8" y="538.7"/><use href="#s1" x="234.3" y="538.9"/><use href="#s11" x="146.3" y="539"/><use href="#s15" x="273.9" y="539.1"/><use href="#s11" x="332.5" y="539.1"/><use href="#s8" x="656.9" y="539.3"/><use href="#s3" x="594.6" y="539.3"/><use href="#s13" x="380.2" y="539.4"/><use href="#s9" x="290.6" y="539.4"/><use href="#s6" x="111.4" y="539.5"/><use href="#s2" x="261.9" y="539.7"/><use href="#s12" x="483.4" y="539.9"/><use href="#s11" x="638.9" y="540"/><use href="#s2" x="265.6" y="540.1"/><use href="#s12" x="636.2" y="540.1"/><use href="#s12" x="385.1" y="540.1"/><use href="#s4" x="221.5" y="540.2"/><use href="#s6" x="649.1" y="540.2"/><use href="#s12" x="300.2" y="540.2"/><use href="#s3" x="92.6" y="540.3"/><use href="#s4" x="627" y="540.4"/><use href="#s6" x="394.3" y="540.6"/><use href="#s9" x="387.7" y="540.6"/><use href="#s5" x="335.3" y="540.6"/><use href="#s0" x="158.7" y="541"/><use href="#s13" x="351" y="541.5"/><use href="#s2" x="242" y="541.6"/><use href="#s2" x="170.2" y="541.6"/><use href="#s1" x="403.7" y="541.6"/><use href="#s10" x="595.7" y="541.6"/><use href="#s11" x="226.9" y="541.7"/><use href="#s15" x="209.7" y="541.7"/><use href="#s15" x="251.8" y="541.9"/><use href="#s13" x="687.7" y="542"/><use href="#s2" x="364.5" y="542"/><use href="#s1" x="112" y="542.3"/><use href="#s3" x="300.3" y="542.6"/><use href="#s1" x="390.9" y="542.7"/><use href="#s11" x="521.7" y="543"/><use href="#s15" x="494.1" y="543.1"/><use href="#s15" x="678.4" y="543.1"/><use href="#s6" x="64.2" y="543.3"/><use href="#s3" x="156.9" y="543.3"/><use href="#s13" x="72.8" y="543.4"/><use href="#s3" x="370.1" y="543.4"/><use href="#s8" x="74.2" y="543.5"/><use href="#s6" x="519.9" y="544.4"/><use href="#s13" x="247.9" y="544.5"/><use href="#s12" x="441" y="544.5"/><use href="#s8" x="178.4" y="544.6"/><use href="#s12" x="194.8" y="544.6"/><use href="#s15" x="122.1" y="544.7"/><use href="#s1" x="352.4" y="544.8"/><use href="#s10" x="536.1" y="544.9"/><use href="#s1" x="661.1" y="545"/><use href="#s8" x="437.2" y="545.1"/><use href="#s13" x="191.9" y="545.3"/><use href="#s11" x="251.3" y="545.3"/><use href="#s14" x="661" y="545.4"/><use href="#s8" x="390.2" y="545.5"/><use href="#s9" x="544.2" y="545.7"/><use href="#s7" x="55.4" y="545.8"/><use href="#s4" x="272.6" y="545.8"/><use href="#s6" x="123" y="545.9"/><use href="#s1" x="286.4" y="546.3"/><use href="#s9" x="495.4" y="546.7"/><use href="#s8" x="296.6" y="546.7"/><use href="#s6" x="667.8" y="546.8"/><use href="#s10" x="391.6" y="546.8"/><use href="#s7" x="212.3" y="546.9"/><use href="#s0" x="282.9" y="546.9"/><use href="#s15" x="597.6" y="547.1"/><use href="#s9" x="227.2" y="547.3"/><use href="#s7" x="440.3" y="547.7"/><use href="#s2" x="336.1" y="547.7"/><use href="#s2" x="514.4" y="547.8"/><use href="#s14" x="293.6" y="548.2"/><use href="#s1" x="682.5" y="548.3"/><use href="#s9" x="565.7" y="548.7"/><use href="#s5" x="181.3" y="548.7"/><use href="#s7" x="270.1" y="548.7"/><use href="#s2" x="89.2" y="548.9"/><use href="#s9" x="152.5" y="549"/><use href="#s7" x="419.7" y="549.1"/><use href="#s2" x="147.8" y="549.4"/><use href="#s5" x="185" y="549.6"/><use href="#s11" x="670.8" y="549.7"/><use href="#s5" x="425.1" y="549.8"/><use href="#s11" x="403.7" y="549.8"/><use href="#s5" x="635.7" y="549.9"/><use href="#s7" x="197.2" y="550"/><use href="#s11" x="287.6" y="550.1"/><use href="#s15" x="190.4" y="550.1"/><use href="#s5" x="431.2" y="550.2"/><use href="#s6" x="385.9" y="550.3"/><use href="#s7" x="218.4" y="550.3"/><use href="#s8" x="339.9" y="550.5"/><use href="#s2" x="506.8" y="550.5"/><use href="#s15" x="188.2" y="550.5"/><use href="#s14" x="235.6" y="550.5"/><use href="#s1" x="507.5" y="550.7"/><use href="#s12" x="572.3" y="550.8"/><use href="#s3" x="517.3" y="551"/><use href="#s14" x="177.6" y="551"/><use href="#s13" x="98" y="551.1"/><use href="#s15" x="327.2" y="551.2"/><use href="#s7" x="686.2" y="551.3"/><use href="#s2" x="527.4" y="551.4"/><use href="#s5" x="95.8" y="551.4"/><use href="#s14" x="511.2" y="551.5"/><use href="#s3" x="235.5" y="551.6"/><use href="#s10" x="624.1" y="551.8"/><use href="#s10" x="499" y="551.9"/><use href="#s1" x="342.6" y="552"/><use href="#s4" x="377.2" y="552"/><use href="#s12" x="649.9" y="552.1"/><use href="#s10" x="658.7" y="552.3"/><use href="#s3" x="509.2" y="552.5"/><use href="#s12" x="392.4" y="552.6"/><use href="#s3" x="471.1" y="552.7"/><use href="#s3" x="71.1" y="552.9"/><use href="#s1" x="520.7" y="552.9"/><use href="#s11" x="431.9" y="553.1"/><use href="#s12" x="109.6" y="553.4"/><use href="#s13" x="288.3" y="553.4"/><use href="#s11" x="475.9" y="553.4"/><use href="#s13" x="683.6" y="553.5"/><use href="#s14" x="435.3" y="553.6"/><use href="#s6" x="165.8" y="553.8"/><use href="#s11" x="675.7" y="553.9"/><use href="#s11" x="683.9" y="553.9"/><use href="#s8" x="245.5" y="554"/><use href="#s3" x="150" y="554"/><use href="#s15" x="394.1" y="554.2"/><use href="#s13" x="524.3" y="554.2"/><use href="#s13" x="236.3" y="554.3"/><use href="#s13" x="183.7" y="554.4"/><use href="#s8" x="59.3" y="554.5"/><use href="#s0" x="406.5" y="554.5"/><use href="#s3" x="531.3" y="554.9"/><use href="#s3" x="182.4" y="555.1"/><use href="#s10" x="68" y="555.1"/><use href="#s3" x="366.2" y="555.2"/><use href="#s5" x="505.8" y="555.3"/><use href="#s3" x="294.5" y="555.3"/><use href="#s4" x="647.7" y="555.4"/><use href="#s10" x="139.5" y="555.4"/><use href="#s14" x="54.6" y="555.5"/><use href="#s10" x="215.2" y="555.5"/><use href="#s8" x="333.5" y="555.6"/><use href="#s5" x="430.1" y="555.8"/><use href="#s10" x="178" y="556"/><use href="#s14" x="464.8" y="556"/><use href="#s7" x="193.2" y="556.1"/><use href="#s6" x="384.5" y="556.1"/><use href="#s5" x="466.5" y="556.4"/><use href="#s0" x="596.9" y="556.7"/><use href="#s7" x="209.2" y="557.1"/><use href="#s11" x="584.5" y="557.1"/><use href="#s2" x="79" y="557.2"/><use href="#s4" x="587.5" y="557.3"/><use href="#s8" x="305.4" y="557.3"/><use href="#s6" x="117.5" y="557.5"/><use href="#s12" x="385.8" y="557.6"/><use href="#s3" x="324.4" y="557.6"/><use href="#s8" x="591.2" y="557.7"/><use href="#s0" x="410.7" y="557.8"/><use href="#s0" x="576.3" y="558"/><use href="#s14" x="402.9" y="558.3"/><use href="#s13" x="397.6" y="558.4"/><use href="#s4" x="214.9" y="558.5"/><use href="#s10" x="655.9" y="558.6"/><use href="#s11" x="493.6" y="558.9"/><use href="#s0" x="438" y="559.5"/><use href="#s9" x="520.2" y="559.8"/><use href="#s1" x="350.2" y="560"/><use href="#s15" x="226.9" y="560"/><use href="#s3" x="432.7" y="560"/><use href="#s11" x="296.2" y="560.1"/><use href="#s7" x="255" y="560.2"/><use href="#s13" x="569.8" y="560.5"/><use href="#s14" x="437.2" y="560.5"/><use href="#s0" x="510.4" y="560.7"/><use href="#s0" x="238.6" y="560.8"/><use href="#s7" x="317.3" y="560.8"/><use href="#s1" x="524.6" y="560.9"/><use href="#s5" x="117.6" y="561"/><use href="#s13" x="672" y="561.1"/><use href="#s1" x="73.4" y="561.2"/><use href="#s7" x="683.7" y="561.5"/><use href="#s2" x="644.5" y="561.7"/><use href="#s4" x="172.1" y="561.7"/><use href="#s3" x="65.2" y="562.3"/><use href="#s13" x="367.7" y="562.4"/><use href="#s14" x="85.2" y="562.5"/><use href="#s3" x="183.4" y="562.6"/><use href="#s15" x="228.7" y="562.6"/><use href="#s10" x="460.7" y="562.6"/><use href="#s4" x="504.3" y="562.8"/><use href="#s3" x="57.9" y="563"/><use href="#s7" x="448.9" y="563.1"/><use href="#s15" x="216.5" y="563.2"/><use href="#s1" x="56.9" y="563.2"/><use href="#s6" x="518.1" y="563.4"/><use href="#s13" x="295.2" y="563.5"/><use href="#s1" x="334.6" y="563.5"/><use href="#s10" x="320.7" y="563.8"/><use href="#s0" x="111.7" y="563.9"/><use href="#s4" x="340" y="564.1"/><use href="#s1" x="665" y="564.1"/><use href="#s12" x="651.3" y="564.2"/><use href="#s13" x="255.5" y="564.3"/><use href="#s13" x="352.9" y="564.5"/><use href="#s7" x="214.4" y="564.8"/><use href="#s12" x="556.2" y="565.1"/><use href="#s14" x="312" y="565.1"/><use href="#s7" x="651.8" y="565.2"/><use href="#s3" x="314.3" y="565.4"/><use href="#s15" x="530.8" y="565.6"/><use href="#s9" x="564.4" y="565.7"/><use href="#s4" x="56.6" y="565.8"/><use href="#s12" x="475.8" y="565.9"/><use href="#s6" x="557" y="566.3"/><use href="#s4" x="507.3" y="566.3"/><use href="#s7" x="559.7" y="566.4"/><use href="#s11" x="282.9" y="566.4"/><use href="#s13" x="137.5" y="566.4"/><use href="#s6" x="206.3" y="566.5"/><use href="#s5" x="108.3" y="566.5"/><use href="#s10" x="284" y="566.5"/><use href="#s6" x="586.8" y="566.6"/><use href="#s8" x="492.6" y="566.7"/><use href="#s12" x="367.3" y="566.7"/><use href="#s6" x="377.4" y="567"/><use href="#s12" x="524.6" y="567.1"/><use href="#s1" x="187.6" y="567.1"/><use href="#s15" x="152.6" y="567.2"/><use href="#s0" x="284.5" y="567.3"/><use href="#s15" x="197.3" y="567.5"/><use href="#s0" x="162" y="567.5"/><use href="#s2" x="558" y="567.6"/><use href="#s6" x="635.8" y="567.7"/><use href="#s4" x="610.4" y="568"/><use href="#s14" x="153.2" y="568.1"/><use href="#s14" x="242.8" y="568.2"/><use href="#s5" x="392.8" y="568.3"/><use href="#s15" x="361.5" y="568.4"/><use href="#s15" x="251.2" y="568.4"/><use href="#s7" x="468.5" y="568.6"/><use href="#s12" x="94.3" y="568.7"/><use href="#s12" x="595.1" y="568.9"/><use href="#s0" x="649.5" y="569"/><use href="#s14" x="191.8" y="569"/><use href="#s10" x="673.8" y="569"/><use href="#s3" x="282.2" y="569.1"/><use href="#s13" x="368.1" y="569.2"/><use href="#s1" x="467.7" y="569.4"/><use href="#s14" x="306.6" y="569.5"/><use href="#s2" x="87.2" y="569.7"/><use href="#s8" x="133.6" y="569.9"/><use href="#s13" x="288.3" y="570"/><use href="#s5" x="591" y="570"/><use href="#s2" x="394.7" y="570.1"/><use href="#s8" x="517" y="570.1"/><use href="#s9" x="637" y="570.1"/><use href="#s8" x="692.2" y="570.4"/><use href="#s6" x="160" y="570.6"/><use href="#s14" x="71.5" y="571.1"/><use href="#s4" x="492.8" y="571.2"/><use href="#s4" x="471.7" y="571.2"/><use href="#s3" x="389.2" y="571.2"/><use href="#s15" x="188.6" y="571.2"/><use href="#s14" x="288.9" y="571.3"/><use href="#s2" x="591.7" y="571.4"/><use href="#s0" x="524.2" y="571.4"/><use href="#s15" x="175.8" y="571.5"/><use href="#s9" x="390.4" y="572"/><use href="#s15" x="153.8" y="572.1"/><use href="#s2" x="670" y="572.2"/><use href="#s1" x="77.1" y="572.3"/><use href="#s9" x="151" y="572.5"/><use href="#s7" x="414" y="572.6"/><use href="#s0" x="443.6" y="572.7"/><use href="#s12" x="665.5" y="573.1"/><use href="#s8" x="434.5" y="573.5"/><use href="#s0" x="218.3" y="573.5"/><use href="#s14" x="60.5" y="573.5"/><use href="#s1" x="239.5" y="573.7"/><use href="#s3" x="290.2" y="573.7"/><use href="#s2" x="178.8" y="573.8"/><use href="#s13" x="681.1" y="573.9"/><use href="#s15" x="165.6" y="573.9"/><use href="#s0" x="238" y="574.1"/><use href="#s3" x="157.1" y="574.1"/><use href="#s4" x="105.6" y="574.4"/><use href="#s3" x="656.2" y="574.5"/><use href="#s1" x="394" y="575"/><use href="#s9" x="531" y="575"/><use href="#s10" x="283.3" y="575.2"/><use href="#s12" x="287.5" y="575.2"/><use href="#s0" x="191.4" y="575.3"/><use href="#s12" x="184.8" y="575.5"/><use href="#s9" x="372.6" y="575.6"/><use href="#s7" x="335.7" y="575.6"/><use href="#s15" x="416.9" y="575.7"/><use href="#s8" x="116.6" y="576.2"/><use href="#s4" x="657.1" y="576.3"/><use href="#s12" x="138" y="576.4"/><use href="#s4" x="543.1" y="576.4"/><use href="#s8" x="634.1" y="576.5"/><use href="#s3" x="356.8" y="576.6"/><use href="#s4" x="490.2" y="576.7"/><use href="#s13" x="587.4" y="576.7"/><use href="#s12" x="632.1" y="576.8"/><use href="#s4" x="249.2" y="576.8"/><use href="#s3" x="384.9" y="576.9"/><use href="#s11" x="545.8" y="577"/><use href="#s11" x="242.2" y="577.2"/><use href="#s13" x="107.1" y="577.5"/><use href="#s11" x="390.6" y="577.6"/><use href="#s6" x="66.7" y="577.6"/><use href="#s9" x="452.9" y="577.7"/><use href="#s6" x="495.5" y="577.8"/><use href="#s5" x="239.5" y="577.8"/><use href="#s0" x="363.3" y="577.8"/><use href="#s2" x="169.9" y="578"/><use href="#s4" x="312.1" y="578"/><use href="#s9" x="146.2" y="578"/><use href="#s3" x="529.6" y="578.1"/><use href="#s15" x="290.8" y="578.2"/><use href="#s12" x="368" y="578.3"/><use href="#s9" x="395.4" y="578.3"/><use href="#s2" x="485.9" y="578.3"/><use href="#s15" x="499.6" y="578.5"/><use href="#s3" x="76.1" y="578.7"/><use href="#s0" x="237.1" y="578.7"/><use href="#s9" x="401.6" y="578.7"/><use href="#s1" x="317.6" y="579"/><use href="#s11" x="660.5" y="579.1"/><use href="#s9" x="570.5" y="579.2"/><use href="#s3" x="477.2" y="579.2"/><use href="#s8" x="308.2" y="579.4"/><use href="#s15" x="171.8" y="579.4"/><use href="#s4" x="421" y="579.5"/><use href="#s7" x="192.7" y="579.5"/><use href="#s3" x="265.2" y="579.6"/><use href="#s0" x="396.6" y="579.6"/><use href="#s1" x="376.5" y="579.6"/><use href="#s2" x="295.4" y="579.6"/><use href="#s9" x="373.6" y="579.8"/><use href="#s7" x="91.1" y="579.8"/><use href="#s11" x="240.4" y="579.9"/><use href="#s4" x="416.8" y="580"/><use href="#s4" x="272" y="580"/><use href="#s10" x="483.4" y="580.2"/><use href="#s14" x="454.5" y="580.2"/><use href="#s10" x="225" y="580.2"/><use href="#s4" x="212.3" y="580.3"/><use href="#s15" x="373" y="580.4"/><use href="#s8" x="118.5" y="580.4"/><use href="#s13" x="656.3" y="580.6"/><use href="#s7" x="304.5" y="580.7"/><use href="#s3" x="298.3" y="581"/><use href="#s9" x="551.5" y="581.3"/><use href="#s4" x="250.2" y="581.4"/><use href="#s0" x="141.2" y="581.4"/><use href="#s14" x="530.4" y="581.5"/><use href="#s14" x="344.6" y="581.5"/><use href="#s5" x="302.2" y="581.8"/><use href="#s14" x="249.5" y="582.3"/><use href="#s5" x="549.7" y="582.3"/><use href="#s3" x="205.8" y="582.4"/><use href="#s14" x="421.2" y="582.6"/><use href="#s0" x="182.7" y="582.8"/><use href="#s6" x="553.1" y="582.9"/><use href="#s13" x="113.1" y="583.4"/><use href="#s4" x="677.8" y="583.4"/><use href="#s15" x="622.8" y="583.4"/><use href="#s9" x="532.6" y="583.5"/><use href="#s7" x="166.4" y="583.6"/><use href="#s15" x="296.1" y="583.8"/><use href="#s6" x="407.1" y="583.9"/><use href="#s3" x="313.5" y="584.1"/><use href="#s14" x="207.7" y="584.1"/><use href="#s14" x="485.8" y="584.1"/><use href="#s5" x="60" y="584.4"/><use href="#s14" x="507.5" y="584.7"/><use href="#s12" x="577.4" y="585"/><use href="#s15" x="473.3" y="585"/><use href="#s10" x="651.4" y="585"/><use href="#s2" x="225.9" y="585"/><use href="#s3" x="289.7" y="585.2"/><use href="#s8" x="436" y="585.4"/><use href="#s11" x="328.7" y="585.6"/><use href="#s0" x="435.4" y="585.6"/><use href="#s13" x="424.1" y="585.8"/><use href="#s13" x="534.7" y="585.8"/><use href="#s5" x="333.3" y="585.9"/><use href="#s15" x="143.2" y="586.1"/><use href="#s1" x="125.2" y="586.1"/><use href="#s3" x="469.4" y="586.1"/><use href="#s12" x="184" y="586.2"/><use href="#s11" x="385.5" y="586.3"/><use href="#s15" x="669.8" y="586.4"/><use href="#s7" x="484.1" y="586.4"/><use href="#s11" x="108.5" y="586.6"/><use href="#s8" x="362.3" y="586.6"/><use href="#s5" x="192.5" y="586.6"/><use href="#s0" x="276.4" y="586.7"/><use href="#s6" x="629.3" y="586.9"/><use href="#s2" x="408.4" y="587"/><use href="#s6" x="377.1" y="587.3"/><use href="#s7" x="483.8" y="587.3"/><use href="#s2" x="576.2" y="587.4"/><use href="#s4" x="386.4" y="587.6"/><use href="#s6" x="656" y="587.6"/><use href="#s13" x="661.9" y="587.7"/><use href="#s10" x="633.2" y="587.7"/><use href="#s2" x="135.9" y="587.9"/><use href="#s14" x="127.2" y="588"/><use href="#s6" x="275.2" y="588.1"/><use href="#s14" x="68.2" y="588.1"/><use href="#s6" x="123.2" y="588.1"/><use href="#s3" x="657.3" y="588.4"/><use href="#s11" x="359.8" y="588.4"/><use href="#s6" x="309.7" y="588.6"/><use href="#s5" x="565.9" y="588.6"/><use href="#s1" x="389.6" y="588.6"/><use href="#s3" x="355.9" y="588.8"/><use href="#s8" x="364" y="588.9"/><use href="#s3" x="508.2" y="588.9"/><use href="#s2" x="471.3" y="588.9"/><use href="#s9" x="264.2" y="589"/><use href="#s6" x="262.4" y="589.1"/><use href="#s8" x="339.2" y="589.2"/><use href="#s13" x="166.6" y="589.4"/><use href="#s11" x="243.7" y="589.4"/><use href="#s8" x="77.8" y="589.4"/><use href="#s11" x="321" y="589.6"/><use href="#s9" x="517.8" y="590.1"/><use href="#s10" x="605.4" y="590.4"/><use href="#s2" x="588.2" y="590.7"/><use href="#s11" x="625.5" y="590.7"/><use href="#s12" x="606.1" y="590.8"/><use href="#s1" x="216.8" y="591.1"/><use href="#s9" x="653.2" y="591.4"/><use href="#s8" x="63.8" y="591.5"/><use href="#s10" x="640.7" y="591.5"/><use href="#s14" x="258.2" y="591.8"/><use href="#s4" x="447.9" y="592.2"/><use href="#s14" x="502.9" y="592.3"/><use href="#s6" x="352.8" y="592.3"/><use href="#s0" x="185.2" y="592.4"/><use href="#s5" x="406.3" y="592.4"/><use href="#s4" x="652.5" y="592.4"/><use href="#s14" x="224.9" y="592.7"/><use href="#s8" x="171.7" y="592.7"/><use href="#s14" x="613.6" y="592.8"/><use href="#s8" x="540.2" y="592.9"/><use href="#s12" x="242" y="593"/><use href="#s2" x="682.9" y="593.2"/><use href="#s5" x="608.4" y="593.3"/><use href="#s15" x="350.2" y="593.3"/><use href="#s15" x="452.9" y="593.5"/><use href="#s9" x="560.3" y="593.6"/><use href="#s11" x="435.7" y="593.7"/><use href="#s11" x="394.1" y="593.7"/><use href="#s4" x="138.6" y="593.7"/><use href="#s11" x="373" y="593.9"/><use href="#s13" x="418.1" y="594.1"/><use href="#s5" x="209.4" y="594.2"/><use href="#s4" x="305.8" y="594.5"/><use href="#s10" x="195.2" y="594.6"/><use href="#s2" x="322" y="594.7"/><use href="#s14" x="567.9" y="594.8"/><use href="#s9" x="319.4" y="595"/><use href="#s14" x="212.3" y="595"/><use href="#s10" x="182.9" y="595.9"/><use href="#s7" x="539.8" y="595.9"/><use href="#s7" x="417.5" y="595.9"/><use href="#s11" x="144" y="595.9"/><use href="#s5" x="237.1" y="596"/><use href="#s13" x="582.2" y="596"/><use href="#s13" x="356.7" y="596.2"/><use href="#s3" x="185.5" y="596.3"/><use href="#s14" x="508.5" y="596.4"/><use href="#s11" x="665.3" y="596.4"/><use href="#s7" x="403.6" y="596.5"/><use href="#s2" x="468.4" y="596.5"/><use href="#s0" x="561" y="596.6"/><use href="#s7" x="308.6" y="596.8"/><use href="#s13" x="601.7" y="596.8"/><use href="#s7" x="582.4" y="596.9"/><use href="#s13" x="590.8" y="596.9"/><use href="#s8" x="232.1" y="597"/><use href="#s4" x="504.9" y="597.1"/><use href="#s0" x="236.7" y="597.2"/><use href="#s11" x="80.6" y="597.2"/><use href="#s11" x="629.8" y="597.3"/><use href="#s13" x="626.8" y="597.6"/><use href="#s14" x="139.1" y="597.7"/><use href="#s1" x="144" y="597.7"/><use href="#s2" x="195.5" y="597.8"/><use href="#s7" x="561.9" y="597.9"/><use href="#s3" x="374.8" y="598"/><use href="#s11" x="340.4" y="598"/><use href="#s10" x="128.9" y="598.1"/><use href="#s0" x="160.8" y="598.5"/><use href="#s1" x="592.1" y="598.5"/><use href="#s0" x="285.2" y="598.6"/><use href="#s3" x="384.6" y="599.1"/><use href="#s4" x="564.8" y="599.3"/><use href="#s4" x="557.5" y="599.5"/><use href="#s8" x="284.2" y="599.6"/><use href="#s10" x="94.2" y="599.6"/><use href="#s0" x="415" y="599.8"/><use href="#s0" x="66.4" y="599.8"/><use href="#s5" x="562.9" y="599.8"/><use href="#s6" x="382.8" y="599.8"/><use href="#s15" x="68.7" y="600"/><use href="#s2" x="240.1" y="600"/><use href="#s4" x="356.7" y="600.5"/><use href="#s8" x="174.5" y="600.8"/><use href="#s6" x="275.3" y="600.8"/><use href="#s13" x="158.3" y="600.9"/><use href="#s2" x="228.1" y="601"/><use href="#s9" x="249.2" y="601"/><use href="#s11" x="675.3" y="601"/><use href="#s9" x="609.8" y="601.3"/><use href="#s9" x="440.7" y="601.4"/><use href="#s12" x="204.9" y="601.4"/><use href="#s2" x="671.6" y="601.4"/><use href="#s2" x="73.8" y="601.5"/><use href="#s12" x="260.6" y="601.5"/><use href="#s14" x="333.7" y="601.5"/><use href="#s6" x="554.3" y="601.6"/><use href="#s14" x="470.6" y="601.6"/><use href="#s11" x="285.6" y="601.7"/><use href="#s3" x="180.9" y="601.8"/><use href="#s3" x="670.7" y="601.9"/><use href="#s9" x="409.7" y="601.9"/><use href="#s15" x="578.2" y="602"/><use href="#s9" x="343.5" y="602.2"/><use href="#s11" x="658.8" y="602.5"/><use href="#s9" x="239.3" y="602.6"/><use href="#s10" x="469.1" y="602.7"/><use href="#s10" x="456.9" y="602.7"/><use href="#s3" x="550.9" y="602.8"/><use href="#s6" x="584.4" y="602.9"/><use href="#s13" x="634.6" y="603"/><use href="#s7" x="501.6" y="603.1"/><use href="#s14" x="575" y="603.1"/><use href="#s12" x="91.1" y="603.2"/><use href="#s1" x="609.5" y="603.2"/><use href="#s15" x="159.8" y="603.4"/><use href="#s8" x="632.6" y="603.5"/><use href="#s2" x="544.5" y="603.5"/><use href="#s1" x="528.1" y="603.8"/><use href="#s3" x="320.8" y="603.8"/><use href="#s4" x="355.9" y="603.8"/><use href="#s7" x="306" y="603.9"/><use href="#s5" x="121.3" y="604"/><use href="#s8" x="350.3" y="604"/><use href="#s11" x="673.1" y="604"/><use href="#s15" x="648.5" y="604.1"/><use href="#s0" x="79.6" y="604.2"/><use href="#s5" x="222.9" y="604.3"/><use href="#s7" x="78.6" y="604.3"/><use href="#s5" x="479.1" y="604.5"/><use href="#s8" x="525.9" y="604.6"/><use href="#s3" x="313.2" y="604.8"/><use href="#s11" x="605.2" y="605"/><use href="#s0" x="465.6" y="605.2"/><use href="#s3" x="617.8" y="605.3"/><use href="#s6" x="267.1" y="605.5"/><use href="#s15" x="286.1" y="605.6"/><use href="#s15" x="443.2" y="605.6"/><use href="#s5" x="535" y="605.6"/><use href="#s7" x="510.5" y="605.7"/><use href="#s12" x="662.6" y="605.7"/><use href="#s6" x="599.1" y="605.7"/><use href="#s0" x="665.5" y="606"/><use href="#s10" x="296.9" y="606.1"/><use href="#s6" x="349.7" y="606.1"/><use href="#s3" x="449.2" y="606.2"/><use href="#s2" x="270.3" y="606.3"/><use href="#s0" x="373.7" y="606.4"/><use href="#s14" x="145" y="606.5"/><use href="#s11" x="376" y="606.6"/><use href="#s3" x="76.5" y="606.7"/><use href="#s9" x="526" y="606.7"/><use href="#s10" x="323.6" y="607"/><use href="#s12" x="626.9" y="607.1"/><use href="#s3" x="537.7" y="607.1"/><use href="#s1" x="173.2" y="607.4"/><use href="#s0" x="289" y="607.6"/><use href="#s14" x="626.9" y="607.8"/><use href="#s15" x="634.4" y="607.9"/><use href="#s5" x="467.4" y="607.9"/><use href="#s3" x="563.2" y="608"/><use href="#s3" x="557.9" y="608.1"/><use href="#s3" x="458.5" y="608.2"/><use href="#s2" x="599.8" y="608.3"/><use href="#s10" x="313.6" y="608.3"/><use href="#s8" x="347.3" y="608.5"/><use href="#s6" x="354.9" y="608.6"/><use href="#s1" x="217.9" y="608.9"/><use href="#s6" x="228.4" y="608.9"/><use href="#s11" x="356.5" y="609.2"/><use href="#s0" x="424.8" y="609.3"/><use href="#s10" x="600" y="609.6"/><use href="#s0" x="299.4" y="609.8"/><use href="#s4" x="489.3" y="609.9"/><use href="#s12" x="675.6" y="610.2"/><use href="#s5" x="429.2" y="610.2"/><use href="#s1" x="665.8" y="610.4"/><use href="#s7" x="195.4" y="610.4"/><use href="#s6" x="576.8" y="610.5"/><use href="#s10" x="671.1" y="610.5"/><use href="#s3" x="649.1" y="610.5"/><use href="#s5" x="378.2" y="610.6"/><use href="#s13" x="579.9" y="610.9"/><use href="#s14" x="615.7" y="611"/><use href="#s2" x="356.1" y="611"/><use href="#s6" x="388.6" y="611.1"/><use href="#s14" x="233.1" y="611.4"/><use href="#s1" x="638.4" y="611.5"/><use href="#s14" x="673.1" y="612.1"/><use href="#s14" x="199.4" y="612.1"/><use href="#s2" x="71.7" y="612.1"/><use href="#s2" x="407.2" y="612.2"/><use href="#s1" x="364.6" y="612.2"/><use href="#s15" x="282.2" y="612.2"/><use href="#s11" x="224" y="612.3"/><use href="#s10" x="188.1" y="612.3"/><use href="#s10" x="218.1" y="612.4"/><use href="#s13" x="599.8" y="612.6"/><use href="#s7" x="101.7" y="612.7"/><use href="#s12" x="633.3" y="612.8"/><use href="#s6" x="664.9" y="613"/><use href="#s5" x="319.5" y="613.1"/><use href="#s1" x="602.9" y="613.2"/><use href="#s0" x="464.8" y="613.3"/><use href="#s0" x="675.2" y="613.4"/><use href="#s9" x="313.6" y="613.5"/><use href="#s5" x="667.6" y="613.5"/><use href="#s2" x="154.5" y="613.9"/><use href="#s10" x="530.8" y="614"/><use href="#s8" x="260.1" y="614.2"/><use href="#s3" x="465" y="614.4"/><use href="#s6" x="544.9" y="614.4"/><use href="#s8" x="83.1" y="615"/><use href="#s10" x="415.9" y="615"/><use href="#s9" x="588" y="615.1"/><use href="#s8" x="236.4" y="615.6"/><use href="#s15" x="584.3" y="615.6"/><use href="#s1" x="366.2" y="615.6"/><use href="#s14" x="369.8" y="615.7"/><use href="#s10" x="298" y="615.8"/><use href="#s14" x="326.6" y="615.9"/><use href="#s4" x="600" y="616.1"/><use href="#s3" x="240.2" y="616.2"/><use href="#s12" x="577.4" y="616.3"/><use href="#s9" x="187.5" y="616.4"/><use href="#s14" x="318.9" y="616.5"/><use href="#s14" x="563.5" y="616.6"/><use href="#s9" x="542.4" y="616.6"/><use href="#s3" x="303.5" y="616.7"/><use href="#s12" x="382.8" y="616.7"/><use href="#s11" x="565.5" y="616.8"/><use href="#s13" x="310.6" y="616.9"/><use href="#s2" x="632.5" y="617"/><use href="#s0" x="566" y="617"/><use href="#s9" x="468.5" y="617"/><use href="#s10" x="210.8" y="617.1"/><use href="#s10" x="393.4" y="617.2"/><use href="#s1" x="350.6" y="617.4"/><use href="#s4" x="629.8" y="617.4"/><use href="#s15" x="285.5" y="617.5"/><use href="#s13" x="250.6" y="617.6"/><use href="#s9" x="559.9" y="617.7"/><use href="#s9" x="593.2" y="617.7"/><use href="#s7" x="473" y="617.7"/><use href="#s10" x="107.4" y="617.9"/><use href="#s5" x="234.3" y="618.4"/><use href="#s11" x="313.1" y="618.4"/><use href="#s7" x="355.1" y="618.5"/><use href="#s12" x="157.2" y="618.7"/><use href="#s10" x="391.2" y="618.8"/><use href="#s1" x="494.1" y="618.9"/><use href="#s10" x="382.8" y="619.1"/><use href="#s11" x="227.4" y="619.1"/><use href="#s0" x="297.8" y="619.4"/><use href="#s9" x="567.5" y="619.6"/><use href="#s12" x="643.6" y="619.8"/><use href="#s12" x="98.1" y="619.9"/><use href="#s6" x="254.8" y="620.1"/><use href="#s4" x="517" y="620.2"/><use href="#s14" x="612.5" y="620.7"/><use href="#s3" x="285.2" y="620.9"/><use href="#s2" x="401.4" y="621.1"/><use href="#s15" x="127.5" y="621.1"/><use href="#s13" x="346.7" y="621.3"/><use href="#s7" x="594.1" y="621.5"/><use href="#s15" x="670.3" y="621.7"/><use href="#s9" x="383.3" y="621.7"/><use href="#s6" x="624" y="622"/><use href="#s15" x="531.4" y="622.1"/><use href="#s7" x="651.8" y="622.4"/><use href="#s0" x="274.4" y="622.7"/><use href="#s5" x="170.4" y="622.8"/><use href="#s0" x="347.2" y="622.8"/><use href="#s9" x="397.8" y="622.8"/><use href="#s13" x="105.3" y="622.9"/><use href="#s5" x="601.3" y="622.9"/><use href="#s4" x="562.1" y="622.9"/><use href="#s2" x="611.7" y="622.9"/><use href="#s4" x="207" y="622.9"/><use href="#s3" x="240.4" y="623.1"/><use href="#s4" x="571.9" y="623.1"/><use href="#s15" x="487.4" y="623.1"/><use href="#s8" x="585.9" y="623.2"/><use href="#s14" x="238" y="623.2"/><use href="#s1" x="402.9" y="623.4"/><use href="#s1" x="488.2" y="623.5"/><use href="#s4" x="199.3" y="623.6"/><use href="#s13" x="655.2" y="623.8"/><use href="#s12" x="512" y="623.8"/><use href="#s1" x="542.9" y="623.8"/><use href="#s15" x="420.2" y="623.8"/><use href="#s15" x="525.4" y="624"/><use href="#s14" x="251.9" y="624"/><use href="#s9" x="403.8" y="624.2"/><use href="#s12" x="603.9" y="624.2"/><use href="#s8" x="404.4" y="624.2"/><use href="#s4" x="385.9" y="624.4"/><use href="#s1" x="485.9" y="624.4"/><use href="#s2" x="388" y="624.5"/><use href="#s3" x="275.4" y="624.5"/><use href="#s3" x="197" y="624.6"/><use href="#s14" x="361.2" y="624.7"/><use href="#s12" x="285.6" y="624.8"/><use href="#s12" x="163.5" y="624.9"/><use href="#s7" x="626.1" y="624.9"/><use href="#s7" x="116.1" y="625.3"/><use href="#s10" x="357.2" y="625.4"/><use href="#s8" x="269" y="625.5"/><use href="#s8" x="102.3" y="625.6"/><use href="#s8" x="563.8" y="625.6"/><use href="#s15" x="603" y="625.9"/><use href="#s0" x="414.3" y="625.9"/><use href="#s10" x="437.1" y="626.2"/><use href="#s13" x="276.6" y="626.3"/><use href="#s9" x="91.1" y="626.3"/><use href="#s7" x="525.4" y="626.6"/><use href="#s5" x="409.7" y="626.6"/><use href="#s4" x="618.1" y="626.8"/><use href="#s8" x="113.7" y="627.1"/><use href="#s5" x="278.6" y="627.4"/><use href="#s1" x="266" y="627.4"/><use href="#s14" x="288" y="627.4"/><use href="#s10" x="577.7" y="627.7"/><use href="#s3" x="111.8" y="627.7"/><use href="#s7" x="590.8" y="627.9"/><use href="#s7" x="548.4" y="628"/><use href="#s14" x="488.9" y="628"/><use href="#s5" x="124.2" y="628"/><use href="#s15" x="514" y="628.2"/><use href="#s1" x="182.2" y="628.2"/><use href="#s2" x="434.6" y="628.4"/><use href="#s9" x="517" y="628.4"/><use href="#s14" x="564.5" y="628.4"/><use href="#s2" x="526.4" y="628.5"/><use href="#s10" x="285.3" y="628.6"/><use href="#s8" x="587.5" y="628.6"/><use href="#s1" x="255.9" y="628.6"/><use href="#s10" x="407.7" y="628.7"/><use href="#s5" x="272.7" y="628.8"/><use href="#s11" x="401.9" y="628.9"/><use href="#s7" x="538.2" y="629.2"/><use href="#s3" x="511.3" y="629.4"/><use href="#s10" x="640.5" y="629.4"/><use href="#s2" x="110.5" y="629.6"/><use href="#s1" x="116.4" y="629.6"/><use href="#s15" x="200.8" y="629.6"/><use href="#s11" x="102.1" y="629.8"/><use href="#s14" x="431.2" y="629.8"/><use href="#s2" x="390.5" y="629.8"/><use href="#s7" x="542" y="629.9"/><use href="#s14" x="336.4" y="629.9"/><use href="#s1" x="494.6" y="629.9"/><use href="#s2" x="601" y="630.6"/><use href="#s11" x="527.9" y="630.8"/><use href="#s0" x="413.7" y="630.8"/><use href="#s8" x="205.2" y="630.9"/><use href="#s13" x="324.6" y="631.1"/><use href="#s10" x="129.4" y="631.1"/><use href="#s10" x="485" y="631.2"/><use href="#s12" x="244.3" y="631.4"/><use href="#s7" x="467.9" y="631.6"/><use href="#s8" x="73.5" y="631.8"/><use href="#s3" x="128.6" y="631.9"/><use href="#s12" x="338.3" y="632"/><use href="#s0" x="331.2" y="632.3"/><use href="#s7" x="482.5" y="632.5"/><use href="#s8" x="439.3" y="632.5"/><use href="#s15" x="596.4" y="632.7"/><use href="#s13" x="418.7" y="633"/><use href="#s6" x="276.3" y="633.1"/><use href="#s5" x="339" y="633.5"/><use href="#s12" x="71.7" y="633.5"/><use href="#s12" x="276.1" y="633.5"/><use href="#s9" x="294.6" y="633.5"/><use href="#s8" x="662.1" y="633.6"/><use href="#s9" x="623.6" y="633.7"/><use href="#s5" x="327.9" y="633.9"/><use href="#s4" x="360.3" y="633.9"/><use href="#s2" x="216.8" y="634"/><use href="#s9" x="204.2" y="634"/><use href="#s8" x="553.2" y="634.3"/><use href="#s11" x="363.5" y="634.4"/><use href="#s13" x="601.4" y="634.5"/><use href="#s5" x="299" y="634.6"/><use href="#s5" x="155.7" y="634.6"/><use href="#s15" x="557.6" y="634.8"/><use href="#s8" x="182.5" y="634.8"/><use href="#s9" x="120.1" y="635.2"/><use href="#s3" x="212.3" y="635.4"/><use href="#s13" x="313.1" y="635.5"/><use href="#s15" x="79" y="636.1"/><use href="#s6" x="519.1" y="636.2"/><use href="#s8" x="67.2" y="636.2"/><use href="#s3" x="185.2" y="636.3"/><use href="#s14" x="451.6" y="636.9"/><use href="#s12" x="429.2" y="637.1"/><use href="#s0" x="626.2" y="637.2"/><use href="#s6" x="436.9" y="637.2"/><use href="#s6" x="423.3" y="637.5"/><use href="#s6" x="411.7" y="637.9"/><use href="#s5" x="272.5" y="637.9"/><use href="#s2" x="637.3" y="637.9"/><use href="#s3" x="547.6" y="637.9"/><use href="#s2" x="479.9" y="638"/><use href="#s12" x="181" y="638.2"/><use href="#s2" x="365.9" y="638.3"/><use href="#s5" x="649.3" y="638.3"/><use href="#s2" x="154.1" y="638.5"/><use href="#s3" x="168.7" y="638.5"/><use href="#s0" x="651.1" y="638.6"/><use href="#s2" x="434.9" y="638.6"/><use href="#s11" x="571.9" y="639"/><use href="#s6" x="428.9" y="639.1"/><use href="#s12" x="638.9" y="639.1"/><use href="#s12" x="386.3" y="639.2"/><use href="#s10" x="223" y="639.4"/><use href="#s15" x="604" y="639.6"/><use href="#s2" x="284.9" y="639.8"/><use href="#s9" x="106.3" y="639.8"/><use href="#s14" x="494.1" y="639.9"/><use href="#s13" x="614.1" y="639.9"/><use href="#s12" x="335.6" y="640.1"/><use href="#s2" x="248.8" y="640.1"/><use href="#s9" x="466.8" y="640.1"/><use href="#s4" x="217" y="640.1"/><use href="#s12" x="289.5" y="640.2"/><use href="#s6" x="647.6" y="640.6"/><use href="#s13" x="510.3" y="640.8"/><use href="#s6" x="443" y="640.9"/><use href="#s5" x="573.7" y="641"/><use href="#s15" x="315.2" y="641.6"/><use href="#s4" x="569.5" y="641.7"/><use href="#s6" x="344" y="641.9"/><use href="#s4" x="429.1" y="642.1"/><use href="#s7" x="168.3" y="642.6"/><use href="#s6" x="138.8" y="642.6"/><use href="#s5" x="314.6" y="643"/><use href="#s10" x="163.7" y="643.2"/><use href="#s10" x="263.7" y="643.4"/><use href="#s3" x="248" y="643.5"/><use href="#s13" x="511.1" y="643.6"/><use href="#s14" x="168.2" y="643.6"/><use href="#s9" x="100.6" y="643.6"/><use href="#s5" x="142.6" y="643.8"/><use href="#s15" x="622.1" y="644.1"/><use href="#s2" x="247.5" y="644.1"/><use href="#s15" x="188.8" y="644.5"/><use href="#s6" x="130.1" y="644.5"/><use href="#s6" x="244" y="644.7"/><use href="#s8" x="282.3" y="644.7"/><use href="#s13" x="192.9" y="644.8"/><use href="#s12" x="392.2" y="644.8"/><use href="#s10" x="584.1" y="644.8"/><use href="#s7" x="522.3" y="645.1"/><use href="#s7" x="531.8" y="645.1"/><use href="#s15" x="547.7" y="645.3"/><use href="#s1" x="635.5" y="645.3"/><use href="#s15" x="478.7" y="646"/><use href="#s6" x="143.7" y="646.1"/><use href="#s4" x="245.4" y="646.2"/><use href="#s2" x="492.7" y="646.2"/><use href="#s13" x="545.2" y="646.3"/><use href="#s12" x="103.8" y="646.4"/><use href="#s15" x="114.8" y="646.6"/><use href="#s8" x="191.4" y="647"/><use href="#s6" x="535.4" y="647.1"/><use href="#s1" x="357.9" y="647.2"/><use href="#s2" x="476.3" y="647.3"/><use href="#s9" x="470" y="647.3"/><use href="#s1" x="615.7" y="648"/><use href="#s13" x="581.1" y="648"/><use href="#s14" x="143.8" y="648.1"/><use href="#s6" x="552.3" y="648.2"/><use href="#s8" x="561.1" y="648.2"/><use href="#s5" x="445" y="648.3"/><use href="#s14" x="399.3" y="648.5"/><use href="#s13" x="376" y="648.6"/><use href="#s10" x="327.8" y="648.7"/><use href="#s12" x="370.5" y="648.7"/><use href="#s5" x="403.3" y="648.9"/><use href="#s9" x="166.4" y="649"/><use href="#s10" x="528.2" y="649.1"/><use href="#s3" x="630.5" y="649.2"/><use href="#s4" x="508" y="649.3"/><use href="#s12" x="301.6" y="649.4"/><use href="#s0" x="386" y="649.6"/><use href="#s5" x="501.6" y="649.9"/><use href="#s6" x="638.4" y="649.9"/><use href="#s1" x="640.2" y="650.1"/><use href="#s3" x="569.4" y="650.1"/><use href="#s3" x="608.1" y="650.1"/><use href="#s6" x="340.8" y="650.1"/><use href="#s0" x="358.3" y="650.2"/><use href="#s7" x="349.9" y="650.3"/><use href="#s6" x="592.7" y="650.4"/><use href="#s2" x="497.4" y="650.4"/><use href="#s0" x="213.8" y="650.5"/><use href="#s10" x="147.1" y="650.7"/><use href="#s12" x="131" y="650.9"/><use href="#s7" x="622.2" y="651.1"/><use href="#s11" x="248.4" y="651.1"/><use href="#s8" x="138.7" y="651.3"/><use href="#s10" x="426.3" y="651.3"/><use href="#s2" x="322.3" y="651.6"/><use href="#s2" x="420.4" y="651.6"/><use href="#s11" x="468.7" y="651.7"/><use href="#s10" x="541.5" y="651.8"/><use href="#s8" x="256.1" y="652.2"/><use href="#s0" x="282.5" y="652.4"/><use href="#s4" x="150.2" y="652.6"/><use href="#s15" x="518.6" y="653"/><use href="#s6" x="486.3" y="653.2"/><use href="#s14" x="221.1" y="653.2"/><use href="#s15" x="426.9" y="653.7"/><use href="#s4" x="507.8" y="653.7"/><use href="#s1" x="242.3" y="653.8"/><use href="#s7" x="175.3" y="653.8"/><use href="#s3" x="496.2" y="654"/><use href="#s2" x="619" y="654"/><use href="#s6" x="313.5" y="654.1"/><use href="#s11" x="405" y="654.2"/><use href="#s14" x="618.3" y="654.2"/><use href="#s6" x="253.5" y="654.5"/><use href="#s1" x="520.1" y="654.5"/><use href="#s6" x="366.5" y="654.6"/><use href="#s1" x="165.5" y="654.8"/><use href="#s6" x="267.3" y="654.9"/><use href="#s6" x="426.3" y="655.2"/><use href="#s9" x="390.7" y="655.5"/><use href="#s0" x="484.2" y="655.8"/><use href="#s4" x="251" y="656"/><use href="#s10" x="302.8" y="656.2"/><use href="#s8" x="529.4" y="656.2"/><use href="#s2" x="500.5" y="656.2"/><use href="#s12" x="335.7" y="656.4"/><use href="#s6" x="372" y="656.6"/><use href="#s0" x="327.8" y="656.9"/><use href="#s14" x="157.2" y="657.2"/><use href="#s6" x="366.6" y="657.6"/><use href="#s13" x="360.7" y="657.7"/><use href="#s1" x="492.1" y="657.7"/><use href="#s11" x="440.8" y="658.1"/><use href="#s4" x="432.3" y="658.2"/><use href="#s10" x="467.5" y="658.5"/><use href="#s15" x="326.7" y="658.8"/><use href="#s11" x="297.4" y="658.8"/><use href="#s14" x="318.6" y="658.8"/><use href="#s1" x="149.1" y="658.9"/><use href="#s12" x="416.9" y="658.9"/><use href="#s3" x="184.5" y="659"/><use href="#s7" x="160" y="659.3"/><use href="#s12" x="255.4" y="659.4"/><use href="#s7" x="199.9" y="659.4"/><use href="#s2" x="318.2" y="659.4"/><use href="#s10" x="189.3" y="659.8"/><use href="#s11" x="281.5" y="660.6"/><use href="#s7" x="226.9" y="660.8"/><use href="#s15" x="256.9" y="661.1"/><use href="#s13" x="612.2" y="661.3"/><use href="#s8" x="415.2" y="661.4"/><use href="#s5" x="195.3" y="661.5"/><use href="#s5" x="450.8" y="661.7"/><use href="#s4" x="600.7" y="661.8"/><use href="#s0" x="514.1" y="662.1"/><use href="#s12" x="288.8" y="662.8"/><use href="#s15" x="269.5" y="662.9"/><use href="#s5" x="398.7" y="663.5"/><use href="#s6" x="405.6" y="663.8"/><use href="#s15" x="321.2" y="664"/><use href="#s2" x="187.2" y="664.2"/><use href="#s7" x="481.4" y="664.2"/><use href="#s0" x="248.7" y="664.3"/><use href="#s7" x="573.6" y="664.4"/><use href="#s7" x="610.9" y="664.4"/><use href="#s9" x="410.3" y="664.5"/><use href="#s4" x="569.4" y="664.6"/><use href="#s10" x="613" y="664.8"/><use href="#s2" x="537.5" y="664.9"/><use href="#s2" x="376.8" y="664.9"/><use href="#s1" x="521.3" y="665.2"/><use href="#s0" x="298.5" y="665.2"/><use href="#s3" x="540.8" y="665.2"/><use href="#s0" x="314.5" y="665.3"/><use href="#s3" x="418.3" y="665.3"/><use href="#s8" x="364.7" y="665.4"/><use href="#s13" x="294.5" y="665.7"/><use href="#s1" x="571.5" y="666.2"/><use href="#s8" x="292.4" y="666.3"/><use href="#s11" x="181.3" y="666.6"/><use href="#s12" x="333.5" y="666.7"/><use href="#s14" x="459.7" y="666.8"/><use href="#s6" x="291" y="666.8"/><use href="#s12" x="227.8" y="666.9"/><use href="#s1" x="151.7" y="667"/><use href="#s10" x="474.5" y="667.4"/><use href="#s12" x="498.3" y="667.5"/><use href="#s0" x="482.8" y="667.5"/><use href="#s3" x="573.2" y="667.6"/><use href="#s14" x="593.2" y="667.8"/><use href="#s13" x="285.4" y="668.1"/><use href="#s2" x="484.9" y="668.1"/><use href="#s14" x="392.9" y="668.3"/><use href="#s2" x="440.1" y="668.6"/><use href="#s13" x="553.9" y="668.8"/><use href="#s4" x="583.8" y="668.8"/><use href="#s12" x="451.8" y="668.8"/><use href="#s3" x="479.3" y="668.9"/><use href="#s4" x="568.4" y="669"/><use href="#s7" x="553.8" y="669"/><use href="#s4" x="253.9" y="669.3"/><use href="#s3" x="537.6" y="670.1"/><use href="#s7" x="260.2" y="670.1"/><use href="#s14" x="573.9" y="670.2"/><use href="#s5" x="298" y="670.2"/><use href="#s1" x="573.5" y="670.3"/><use href="#s15" x="395.1" y="671"/><use href="#s11" x="230.1" y="671.1"/><use href="#s3" x="326.8" y="671.4"/><use href="#s14" x="529.5" y="671.9"/><use href="#s6" x="555.5" y="672"/><use href="#s2" x="176" y="672.2"/><use href="#s13" x="372.7" y="672.2"/><use href="#s15" x="595.6" y="672.3"/><use href="#s1" x="377.4" y="672.4"/><use href="#s15" x="291.8" y="672.4"/><use href="#s8" x="467.2" y="672.5"/><use href="#s14" x="154.4" y="672.7"/><use href="#s5" x="542.5" y="673.1"/><use href="#s7" x="278.7" y="673.2"/><use href="#s11" x="429.5" y="673.3"/><use href="#s1" x="508" y="673.4"/><use href="#s14" x="372.2" y="673.5"/><use href="#s10" x="481.4" y="673.7"/><use href="#s6" x="451.4" y="673.7"/><use href="#s0" x="384" y="674.1"/><use href="#s3" x="426.4" y="674.5"/><use href="#s1" x="164" y="674.5"/><use href="#s15" x="493.9" y="674.6"/><use href="#s14" x="223.2" y="674.8"/><use href="#s4" x="199.9" y="674.8"/><use href="#s5" x="262.6" y="675"/><use href="#s12" x="480.6" y="675"/><use href="#s5" x="255.1" y="675.1"/><use href="#s15" x="249.5" y="675.1"/><use href="#s10" x="202.2" y="675.2"/><use href="#s15" x="507.4" y="675.3"/><use href="#s13" x="243.2" y="675.3"/><use href="#s14" x="179.7" y="675.6"/><use href="#s7" x="474.7" y="675.6"/><use href="#s14" x="607.1" y="675.7"/><use href="#s0" x="605.1" y="675.8"/><use href="#s9" x="459.7" y="675.9"/><use href="#s13" x="470.6" y="676"/><use href="#s2" x="345.2" y="676.1"/><use href="#s5" x="167.2" y="676.4"/><use href="#s3" x="240.2" y="676.7"/><use href="#s5" x="471.5" y="676.7"/><use href="#s2" x="592.3" y="676.8"/><use href="#s15" x="573.7" y="677.3"/><use href="#s11" x="425.1" y="677.7"/><use href="#s15" x="428.8" y="677.7"/><use href="#s5" x="592.7" y="677.8"/><use href="#s12" x="551.2" y="677.8"/><use href="#s2" x="559.5" y="677.9"/><use href="#s4" x="517.4" y="678.2"/><use href="#s15" x="463.7" y="678.3"/><use href="#s14" x="345.4" y="678.4"/><use href="#s15" x="506.6" y="678.7"/><use href="#s2" x="279.9" y="679.3"/><use href="#s1" x="399.5" y="679.7"/><use href="#s5" x="516.9" y="679.9"/><use href="#s15" x="407.9" y="680"/><use href="#s2" x="288" y="680"/><use href="#s13" x="163.9" y="680.4"/><use href="#s13" x="419.4" y="680.6"/><use href="#s6" x="499.1" y="680.8"/><use href="#s10" x="253.3" y="681"/><use href="#s12" x="275.1" y="681"/><use href="#s9" x="244.5" y="681.2"/><use href="#s7" x="214.7" y="681.8"/><use href="#s9" x="565.2" y="681.8"/><use href="#s5" x="288.9" y="682"/><use href="#s4" x="535.7" y="682.1"/><use href="#s0" x="264.5" y="682.2"/><use href="#s0" x="187.4" y="682.4"/><use href="#s4" x="568.5" y="682.5"/><use href="#s4" x="599.7" y="682.8"/><use href="#s1" x="337" y="683.2"/><use href="#s9" x="455.8" y="683.4"/><use href="#s8" x="345.4" y="683.4"/><use href="#s1" x="439.8" y="683.6"/><use href="#s8" x="455.6" y="683.9"/><use href="#s6" x="575.5" y="684.3"/><use href="#s8" x="450.8" y="684.7"/><use href="#s1" x="183.7" y="684.9"/><use href="#s14" x="287.2" y="684.9"/><use href="#s5" x="581.4" y="684.9"/><use href="#s10" x="543.5" y="685"/><use href="#s3" x="506.3" y="685.2"/><use href="#s0" x="328.4" y="685.5"/><use href="#s10" x="213.9" y="685.5"/><use href="#s13" x="214.3" y="685.5"/><use href="#s14" x="237.1" y="685.7"/><use href="#s1" x="397.6" y="685.8"/><use href="#s6" x="349.7" y="685.8"/><use href="#s14" x="420.5" y="685.9"/><use href="#s5" x="459.2" y="685.9"/><use href="#s13" x="295" y="685.9"/><use href="#s5" x="284.9" y="686.1"/><use href="#s13" x="574.2" y="686.4"/><use href="#s4" x="573.8" y="686.6"/><use href="#s11" x="364" y="686.7"/><use href="#s4" x="497.7" y="686.9"/><use href="#s2" x="264.7" y="687"/><use href="#s3" x="412.6" y="687.3"/><use href="#s8" x="227.2" y="687.3"/><use href="#s13" x="546.2" y="687.5"/><use href="#s3" x="427.2" y="687.5"/><use href="#s14" x="450.7" y="687.7"/><use href="#s11" x="353.3" y="688"/><use href="#s5" x="546" y="688.4"/><use href="#s15" x="498.4" y="688.6"/><use href="#s11" x="330.5" y="688.7"/><use href="#s2" x="397" y="688.8"/><use href="#s9" x="239" y="689.3"/><use href="#s12" x="330.1" y="689.6"/><use href="#s8" x="380.2" y="689.8"/><use href="#s10" x="532.2" y="689.8"/><use href="#s5" x="552.9" y="690"/><use href="#s3" x="539.7" y="690.1"/><use href="#s5" x="441.7" y="690.5"/><use href="#s14" x="438.3" y="690.7"/><use href="#s9" x="358.9" y="690.8"/><use href="#s15" x="284.6" y="690.9"/><use href="#s0" x="293.9" y="691"/><use href="#s2" x="275.3" y="691.2"/><use href="#s7" x="282.7" y="691.3"/><use href="#s5" x="237.6" y="691.5"/><use href="#s0" x="574.6" y="691.6"/><use href="#s1" x="217" y="691.8"/><use href="#s0" x="568" y="692"/><use href="#s4" x="456.7" y="692.1"/><use href="#s2" x="400.5" y="692.2"/><use href="#s14" x="467.9" y="692.3"/><use href="#s1" x="246" y="692.4"/><use href="#s9" x="521.1" y="692.4"/><use href="#s5" x="203.2" y="692.5"/><use href="#s8" x="576.2" y="692.8"/><use href="#s15" x="520.2" y="693.1"/><use href="#s14" x="210" y="693.3"/><use href="#s2" x="519.4" y="693.8"/><use href="#s5" x="560" y="694"/><use href="#s4" x="510.5" y="694"/><use href="#s6" x="276.8" y="694.2"/><use href="#s2" x="267.6" y="694.3"/><use href="#s6" x="420.9" y="694.5"/><use href="#s10" x="246.2" y="694.7"/><use href="#s0" x="396.3" y="694.7"/><use href="#s4" x="514.4" y="694.8"/><use href="#s5" x="379.6" y="695.3"/><use href="#s4" x="365.4" y="695.6"/><use href="#s7" x="338" y="696.4"/><use href="#s3" x="561.5" y="697"/><use href="#s10" x="453.8" y="697.9"/><use href="#s12" x="274" y="698.6"/><use href="#s14" x="385.6" y="698.7"/><use href="#s13" x="286.3" y="698.9"/><use href="#s10" x="551.7" y="698.9"/><use href="#s10" x="295.2" y="699"/><use href="#s9" x="468.2" y="699.2"/><use href="#s3" x="270.5" y="699.3"/><use href="#s9" x="558.1" y="699.4"/><use href="#s13" x="420" y="699.4"/><use href="#s3" x="435.1" y="699.5"/><use href="#s12" x="311.3" y="699.5"/><use href="#s12" x="304.2" y="699.6"/><use href="#s9" x="256" y="699.9"/><use href="#s0" x="464.6" y="700.1"/><use href="#s8" x="513.8" y="700.2"/><use href="#s1" x="311.3" y="700.5"/><use href="#s2" x="314.7" y="700.5"/><use href="#s5" x="375.5" y="700.5"/><use href="#s11" x="489.4" y="700.7"/><use href="#s6" x="398.9" y="701"/><use href="#s1" x="490.2" y="701"/><use href="#s15" x="543.4" y="701.6"/><use href="#s8" x="465.7" y="701.9"/><use href="#s14" x="221.4" y="702.4"/><use href="#s13" x="395.6" y="702.6"/><use href="#s8" x="386.7" y="702.8"/><use href="#s7" x="470.3" y="703"/><use href="#s1" x="302.6" y="703.7"/><use href="#s8" x="528.2" y="704.2"/><use href="#s4" x="428.9" y="704.6"/><use href="#s13" x="386.5" y="704.7"/><use href="#s15" x="391.9" y="704.9"/><use href="#s15" x="540.6" y="705"/><use href="#s12" x="315.4" y="705.4"/><use href="#s8" x="303.7" y="705.6"/><use href="#s9" x="295.1" y="705.7"/><use href="#s5" x="550.7" y="705.7"/><use href="#s11" x="258.7" y="706"/><use href="#s7" x="442.4" y="706.3"/><use href="#s9" x="426" y="706.5"/><use href="#s4" x="548.5" y="706.6"/><use href="#s1" x="409.8" y="707.2"/><use href="#s14" x="399.4" y="707.2"/><use href="#s12" x="303.3" y="707.7"/><use href="#s5" x="250.3" y="707.7"/><use href="#s0" x="490.9" y="707.8"/><use href="#s6" x="373.3" y="708.4"/><use href="#s4" x="344.5" y="709"/><use href="#s9" x="497.8" y="709.1"/><use href="#s6" x="411" y="710.3"/><use href="#s3" x="273.2" y="710.3"/><use href="#s13" x="339.5" y="710.8"/><use href="#s15" x="508.2" y="710.9"/><use href="#s11" x="415.1" y="710.9"/><use href="#s11" x="302.8" y="711.4"/><use href="#s4" x="336.1" y="711.4"/><use href="#s11" x="241.3" y="711.7"/><use href="#s6" x="269.8" y="711.7"/><use href="#s9" x="365.4" y="711.7"/><use href="#s3" x="267.3" y="711.8"/><use href="#s5" x="291.9" y="712.1"/><use href="#s10" x="479.1" y="712.3"/><use href="#s15" x="547.2" y="712.4"/><use href="#s12" x="501.7" y="712.7"/><use href="#s5" x="450.1" y="713"/><use href="#s7" x="420.8" y="713.1"/><use href="#s2" x="311.5" y="713.1"/><use href="#s1" x="263.6" y="713.3"/><use href="#s1" x="278.5" y="713.4"/><use href="#s5" x="373.9" y="713.8"/><use href="#s9" x="368.4" y="714"/><use href="#s14" x="378.9" y="714.2"/><use href="#s6" x="332.2" y="714.8"/><use href="#s4" x="343.1" y="714.9"/><use href="#s4" x="251.3" y="715.1"/><use href="#s5" x="525.1" y="715.2"/><use href="#s9" x="399.2" y="715.2"/><use href="#s0" x="258.5" y="715.2"/><use href="#s15" x="333.3" y="716.5"/><use href="#s9" x="404.1" y="716.9"/><use href="#s9" x="278.1" y="717.2"/><use href="#s10" x="440.9" y="717.6"/><use href="#s6" x="422.5" y="717.6"/><use href="#s4" x="443.8" y="717.8"/><use href="#s12" x="528.8" y="718.1"/><use href="#s15" x="506.2" y="718.2"/><use href="#s12" x="262.7" y="718.2"/><use href="#s1" x="389.1" y="718.4"/><use href="#s4" x="418.9" y="718.8"/><use href="#s7" x="344.3" y="718.9"/><use href="#s3" x="492.6" y="719.3"/><use href="#s2" x="428.3" y="719.6"/><use href="#s2" x="480.4" y="719.8"/><use href="#s7" x="280.5" y="719.9"/><use href="#s3" x="458.6" y="720"/><use href="#s2" x="319.1" y="720.4"/><use href="#s0" x="250.4" y="720.9"/><use href="#s8" x="265.8" y="721.5"/><use href="#s12" x="280.1" y="721.9"/><use href="#s9" x="302.4" y="721.9"/><use href="#s5" x="443.7" y="722"/><use href="#s15" x="526.4" y="722.2"/><use href="#s11" x="436.7" y="722.7"/><use href="#s4" x="389.7" y="722.9"/><use href="#s15" x="445.7" y="722.9"/><use href="#s9" x="256.4" y="723"/><use href="#s3" x="298.1" y="723.1"/><use href="#s7" x="358.5" y="723.1"/><use href="#s3" x="430" y="723.2"/><use href="#s12" x="514.5" y="723.5"/><use href="#s7" x="354.3" y="723.8"/><use href="#s13" x="315.9" y="723.8"/><use href="#s10" x="349.7" y="724"/><use href="#s4" x="438.4" y="724.2"/><use href="#s7" x="288.2" y="724.2"/><use href="#s1" x="266.9" y="724.3"/><use href="#s4" x="521.4" y="724.3"/><use href="#s7" x="487.3" y="724.5"/><use href="#s0" x="276.6" y="724.8"/><use href="#s2" x="317.4" y="724.9"/><use href="#s12" x="307.3" y="725.5"/><use href="#s1" x="369.4" y="725.5"/><use href="#s15" x="370.5" y="726"/><use href="#s14" x="366.7" y="726.4"/><use href="#s1" x="333.5" y="726.6"/><use href="#s13" x="283.3" y="727"/><use href="#s10" x="493.9" y="727"/><use href="#s15" x="440.3" y="727.1"/><use href="#s6" x="312" y="727.4"/><use href="#s9" x="384.2" y="727.6"/><use href="#s0" x="520.5" y="727.8"/><use href="#s0" x="304.7" y="727.8"/><use href="#s4" x="358.2" y="727.8"/><use href="#s5" x="492.9" y="728.2"/><use href="#s14" x="293.6" y="728.5"/><use href="#s14" x="407" y="728.5"/><use href="#s2" x="414.8" y="728.7"/><use href="#s9" x="261.5" y="728.9"/><use href="#s11" x="362.4" y="729.1"/><use href="#s8" x="500.7" y="729.7"/><use href="#s9" x="443.2" y="729.8"/><use href="#s9" x="497.1" y="729.8"/><use href="#s5" x="439" y="730.4"/><use href="#s12" x="387.2" y="730.4"/><use href="#s2" x="269.5" y="730.5"/><use href="#s12" x="323.3" y="731.1"/><use href="#s8" x="411.4" y="731.5"/><use href="#s8" x="468.6" y="731.7"/><use href="#s10" x="353.8" y="731.8"/><use href="#s8" x="269.6" y="732.4"/><use href="#s6" x="291.5" y="732.7"/><use href="#s14" x="311.7" y="732.8"/><use href="#s2" x="261.8" y="733.3"/><use href="#s1" x="489.4" y="733.6"/><use href="#s13" x="422.9" y="733.7"/><use href="#s5" x="357.7" y="733.8"/><use href="#s5" x="316.9" y="733.9"/><use href="#s14" x="307.4" y="734.3"/><use href="#s0" x="426" y="734.5"/><use href="#s14" x="258.5" y="734.7"/><use href="#s14" x="419.6" y="735.6"/><use href="#s12" x="490" y="735.9"/><use href="#s11" x="357.7" y="736.2"/><use href="#s0" x="459.6" y="736.3"/><use href="#s6" x="461.4" y="736.3"/><use href="#s14" x="351.8" y="736.4"/><use href="#s0" x="412.1" y="736.4"/><use href="#s8" x="378.7" y="736.9"/><use href="#s15" x="410.6" y="737.1"/><use href="#s6" x="377.9" y="737.2"/><use href="#s7" x="443.5" y="737.4"/><use href="#s14" x="501.3" y="737.6"/><use href="#s5" x="398.4" y="737.9"/><use href="#s3" x="393.5" y="739"/><use href="#s0" x="403.1" y="739.3"/><use href="#s4" x="339.2" y="739.9"/><use href="#s1" x="495.6" y="740.5"/><use href="#s11" x="464.7" y="740.8"/><use href="#s15" x="361" y="741"/><use href="#s10" x="483.3" y="741.3"/><use href="#s4" x="352" y="741.5"/><use href="#s4" x="340.3" y="741.5"/><use href="#s1" x="393.1" y="741.6"/><use href="#s14" x="439.7" y="742.2"/><use href="#s6" x="313.9" y="743.1"/><use href="#s1" x="429.6" y="743.6"/><use href="#s1" x="290.1" y="744.3"/><use href="#s13" x="438.3" y="744.6"/><use href="#s15" x="337.6" y="745.1"/><use href="#s3" x="303.2" y="745.2"/><use href="#s15" x="428.8" y="745.2"/><use href="#s15" x="486.2" y="745.5"/><use href="#s15" x="322.9" y="745.5"/><use href="#s7" x="295" y="746.1"/><use href="#s13" x="479.1" y="746.3"/><use href="#s11" x="323.9" y="746.8"/><use href="#s8" x="414.4" y="746.9"/><use href="#s7" x="495.7" y="747.4"/><use href="#s4" x="338.1" y="748.2"/><use href="#s0" x="491.2" y="748.2"/><use href="#s14" x="306.4" y="748.4"/><use href="#s13" x="380.1" y="748.4"/><use href="#s4" x="380.7" y="748.5"/><use href="#s6" x="295.8" y="749.7"/><use href="#s8" x="457.1" y="750.2"/><use href="#s13" x="454.1" y="751.2"/><use href="#s9" x="379.2" y="752.5"/><use href="#s1" x="307.4" y="753"/><use href="#s12" x="373.4" y="753.9"/><use href="#s2" x="337.6" y="754.1"/><use href="#s3" x="375.9" y="754.2"/><use href="#s13" x="472.2" y="754.3"/><use href="#s11" x="393.3" y="754.7"/><use href="#s6" x="317.5" y="754.9"/><use href="#s12" x="458.3" y="755"/><use href="#s13" x="479.2" y="755.2"/><use href="#s7" x="485.3" y="755.5"/><use href="#s4" x="340.5" y="755.6"/><use href="#s7" x="412.8" y="755.9"/><use href="#s2" x="476.4" y="755.9"/><use href="#s9" x="379" y="756"/><use href="#s8" x="296.4" y="756.3"/><use href="#s1" x="347.5" y="756.5"/><use href="#s10" x="421.7" y="757.7"/><use href="#s14" x="423" y="757.7"/><use href="#s7" x="319.9" y="758"/><use href="#s3" x="372.8" y="758.6"/><use href="#s13" x="457.7" y="758.8"/><use href="#s11" x="305.6" y="758.9"/><use href="#s15" x="472.1" y="759.4"/><use href="#s15" x="318.9" y="760"/><use href="#s10" x="313.3" y="760.3"/><use href="#s7" x="453.6" y="760.4"/><use href="#s9" x="460.7" y="760.4"/><use href="#s7" x="451.9" y="760.7"/><use href="#s6" x="433.4" y="761"/><use href="#s7" x="445.4" y="761.6"/><use href="#s2" x="335.5" y="761.7"/><use href="#s7" x="347.1" y="761.8"/><use href="#s11" x="366.9" y="762"/><use href="#s8" x="309.3" y="762"/><use href="#s5" x="383.9" y="762.7"/><use href="#s13" x="300.7" y="763"/><use href="#s0" x="327.6" y="764.2"/><use href="#s2" x="433.9" y="764.5"/><use href="#s2" x="367.9" y="764.8"/><use href="#s10" x="417.4" y="765.3"/><use href="#s2" x="456.1" y="766"/><use href="#s13" x="437.4" y="766.3"/><use href="#s4" x="432.6" y="767.1"/><use href="#s12" x="390.1" y="768.1"/><use href="#s7" x="338.3" y="768.8"/><use href="#s10" x="459.2" y="769.8"/><use href="#s8" x="359" y="771"/><use href="#s13" x="450.6" y="771.4"/><use href="#s4" x="343.4" y="773.4"/><use href="#s9" x="339.2" y="773.5"/><use href="#s4" x="320.8" y="774"/><use href="#s3" x="445.8" y="774.9"/><use href="#s10" x="430.7" y="775.1"/><use href="#s1" x="359.2" y="775.2"/><use href="#s8" x="378.7" y="775.3"/><use href="#s15" x="367.5" y="775.5"/><use href="#s13" x="437.3" y="776.7"/><use href="#s6" x="352.4" y="777.5"/><use href="#s15" x="448.2" y="778.1"/><use href="#s9" x="412.1" y="778.2"/><use href="#s11" x="432.8" y="778.5"/><use href="#s10" x="379.2" y="779.3"/><use href="#s11" x="425.1" y="781.3"/><use href="#s3" x="364.8" y="782.1"/><use href="#s2" x="390" y="782.7"/><use href="#s12" x="411.3" y="783.5"/><use href="#s5" x="428.5" y="783.6"/><use href="#s11" x="361.1" y="784.3"/><use href="#s3" x="376.9" y="787.3"/><use href="#s14" x="359.8" y="788.1"/><use href="#s6" x="415.3" y="789.2"/><use href="#s5" x="428.1" y="792.1"/><use href="#s9" x="406.9" y="792.2"/><use href="#s7" x="362.4" y="795.1"/><use href="#s13" x="406.8" y="795.6"/><use href="#s2" x="386.4" y="797"/><use href="#s13" x="407.3" y="798.1"/><use href="#s10" x="372.7" y="798.2"/><use href="#s9" x="386" y="798.3"/><use href="#s12" x="380" y="800"/><use href="#s8" x="393.7" y="800.5"/><use href="#s7" x="409.3" y="800.6"/><use href="#s12" x="421.6" y="802.4"/><use href="#s8" x="401.7" y="808.5"/><use href="#s7" x="397.8" y="810.1"/><use href="#s8" x="413.4" y="811"/>
<linearGradient id="gAggShL" gradientUnits="userSpaceOnUse" x1="218" y1="433" x2="194" y2="489"><stop offset="0" stop-color="#3d382c" stop-opacity=".6"/><stop offset="1" stop-color="#3d382c" stop-opacity="0"/></linearGradient>
<linearGradient id="gAggShR" gradientUnits="userSpaceOnUse" x1="566" y1="431" x2="592" y2="485"><stop offset="0" stop-color="#3d382c" stop-opacity=".6"/><stop offset="1" stop-color="#3d382c" stop-opacity="0"/></linearGradient>
<clipPath id="cAggIn"><polygon points="53.6,387.7 65.4,352.1 404.3,497.9 694.9,352.6 707,386.6 707,388.7 703,449.3 697,516.1 691.1,573.3 681.8,606 659.5,636.6 636.5,653.9 600.9,682.5 564.6,703.2 527.8,723.6 491.9,754.5 454.6,773.7 419.2,810 394.7,817.1 369.8,799.4 334,779.9 298.8,764.3 271.3,741.7 241.4,722.8 216.5,701 175.9,687.8 146.9,669.4 123.2,654 96.1,642.7 77,645.6 66.6,638.8 63.9,608.6 56.8,578.3 49,526.2 47,469.6 44.1,421"/></clipPath>
<g clip-path="url(#cAggIn)"><polygon points="0,330 404,505 404,600 0,425" fill="url(#gAggShL)"/><polygon points="404,505 760,330 760,425 404,600" fill="url(#gAggShR)"/></g>
<polygon points="26,302 380,205 733,294 408,456" fill="#1f1f21"/>
<polygon points="26,302 408,456 407,517 31,349" fill="url(#gMacL)"/>
<polygon points="407,456 733,294 727,349 406,517" fill="url(#gMacR)"/>
<g clip-path="url(#cMacL)"><rect x="20" y="295" width="395" height="225" filter="url(#fGrain)" opacity=".35"/><rect x="20" y="295" width="395" height="225" filter="url(#fRough)" opacity=".4"/></g>
<g clip-path="url(#cMacR)"><rect x="400" y="285" width="340" height="235" filter="url(#fGrain)" opacity=".3"/><rect x="400" y="285" width="340" height="235" filter="url(#fRough)" opacity=".4"/></g>
<polygon points="20,246 380,150 740,239 407,394" fill="#1b1b1c"/>
<g clip-path="url(#cShT)"><rect x="15" y="140" width="730" height="260" filter="url(#fSpeck)" opacity=".12"/></g>
<polygon points="20,246 407,394 406,427 23,269" fill="#363636"/>
<polygon points="406,394 740,239 738,261 405,427" fill="#313131"/>
<g clip-path="url(#cShL)"><rect x="15" y="240" width="400" height="190" filter="url(#fSpeck)"/></g>
<g clip-path="url(#cShR)"><rect x="400" y="235" width="345" height="195" filter="url(#fSpeck)" opacity=".85"/></g>
<polygon points="18,196 379,92 743,189 409,335" fill="#1c1c1c"/>
<polygon points="18,196 409,335 409,359 18,213" fill="#222"/>
<polygon points="408,335 743,189 743,205 408,359" fill="#1e1e1e"/>
<clipPath id="cTb"><polygon points="18,196 409,335 409,359 18,213 409,335 743,189 743,205 409,359"/></clipPath>
<filter id="fWool" x="0" y="0" width="1" height="1" filterUnits="objectBoundingBox"><feTurbulence type="fractalNoise" baseFrequency="0.12 0.55" numOctaves="3" seed="12"/><feColorMatrix type="matrix" values="0 0 0 0 0.24  0 0 0 0 0.24  0 0 0 0 0.24  2.6 0 0 0 -1.0"/></filter>
<clipPath id="cTbL"><polygon points="18,196 409,335 409,359 18,213"/></clipPath><clipPath id="cTbR"><polygon points="409,335 743,189 743,205 409,359"/></clipPath>
<clipPath id="cTbTL"><polygon points="18,196 379,92 409,92 409,335"/></clipPath><clipPath id="cTbTR"><polygon points="409,92 743,189 409,335"/></clipPath>
<g clip-path="url(#cTbTL)"><g transform="matrix(1 0.365 0 1 0 0)"><rect x="10" y="100" width="410" height="110" filter="url(#fWool)" opacity=".6"/></g></g>
<g clip-path="url(#cTbTR)"><g transform="matrix(1 -0.46 0 1 0 0)"><rect x="400" y="300" width="350" height="225" filter="url(#fWool)" opacity=".6"/></g></g>
<g clip-path="url(#cTbL)"><g transform="matrix(1 0.365 0 1 0 0)"><rect x="10" y="175" width="410" height="50" filter="url(#fWool)" opacity=".7"/></g></g>
<g clip-path="url(#cTbR)"><g transform="matrix(1 -0.46 0 1 0 0)"><rect x="400" y="520" width="350" height="50" filter="url(#fWool)" opacity=".7"/></g></g>
<polyline points="18,213 409,359 743,205" fill="none" stroke="#3a3a3a" stroke-width="1.2"/>
<polygon points="34,172 379,72 736,166 406,285" fill="#1d3606"/>
<defs><linearGradient id="gb0" x1="0" y1="1" x2="0" y2="0"><stop offset="0" stop-color="#122404"/><stop offset=".45" stop-color="#2a500a"/><stop offset=".8" stop-color="#40720e"/><stop offset="1" stop-color="#528612"/></linearGradient><linearGradient id="gb1" x1="0" y1="1" x2="0" y2="0"><stop offset="0" stop-color="#183206"/><stop offset=".5" stop-color="#3c6a0c"/><stop offset=".8" stop-color="#548710"/><stop offset="1" stop-color="#6ca21a"/></linearGradient><linearGradient id="gb2" x1="0" y1="1" x2="0" y2="0"><stop offset="0" stop-color="#0a1403"/><stop offset=".6" stop-color="#204006"/><stop offset="1" stop-color="#345e0a"/></linearGradient><g id="t0"><path d="M0 0Q-1.6 -20.9 -6.2 -41.8M0 0Q1.3 -23.1 5.2 -46.2" stroke="url(#gb0)" stroke-width="1.8" fill="none" stroke-linecap="round"/><path d="M0 0Q-2.2 -19.9 -8.7 -39.9M0 0Q-2.3 -23.5 -9.3 -47.1M0 0Q0.2 -23.4 0.7 -46.8M0 0Q0.4 -22 1.6 -44M0 0Q0.9 -22 3.7 -43.9M0 0Q2.5 -22.7 10 -45.5" stroke="url(#gb1)" stroke-width="1.8" fill="none" stroke-linecap="round"/></g><g id="t1"><path d="M0 0Q-2.5 -19.7 -10.2 -39.4M0 0Q-1.6 -20.3 -6.4 -40.6M0 0Q-1.6 -23.5 -6.2 -47M0 0Q0.8 -24.6 3.3 -49.1M0 0Q2.8 -23 11 -45.9" stroke="url(#gb0)" stroke-width="1.8" fill="none" stroke-linecap="round"/><path d="M0 0Q-0.7 -21.9 -2.7 -43.8M0 0Q1.3 -22.8 5.2 -45.6" stroke="url(#gb1)" stroke-width="1.8" fill="none" stroke-linecap="round"/><path d="M0 0Q2.1 -20.3 8.3 -40.6" stroke="url(#gb2)" stroke-width="1.8" fill="none" stroke-linecap="round"/></g><g id="t2"><path d="M0 0Q-1.2 -21.8 -4.7 -43.7" stroke="url(#gb0)" stroke-width="1.8" fill="none" stroke-linecap="round"/><path d="M0 0Q-2.6 -23 -10.4 -46M0 0Q-1.4 -20.3 -5.4 -40.6M0 0Q1 -21.8 4 -43.7M0 0Q3.2 -20.5 12.9 -41" stroke="url(#gb1)" stroke-width="1.8" fill="none" stroke-linecap="round"/><path d="M0 0Q-0.3 -24.4 -1.2 -48.8M0 0Q1.2 -21.2 5 -42.4M0 0Q2.3 -20.3 9.2 -40.6" stroke="url(#gb2)" stroke-width="1.8" fill="none" stroke-linecap="round"/></g><g id="t3"><path d="M0 0Q-1.5 -23.1 -5.9 -46.3M0 0Q0.2 -23 0.8 -45.9M0 0Q0.6 -21.3 2.5 -42.6M0 0Q2.2 -23.3 8.8 -46.6M0 0Q2.9 -19.7 11.7 -39.3" stroke="url(#gb0)" stroke-width="1.8" fill="none" stroke-linecap="round"/><path d="M0 0Q-3 -21 -12.2 -42M0 0Q-1.2 -23.8 -4.7 -47.6M0 0Q0.6 -23 2.3 -46" stroke="url(#gb1)" stroke-width="1.8" fill="none" stroke-linecap="round"/></g><g id="t4"><path d="M0 0Q-0.9 -22 -3.4 -44M0 0Q0.1 -21.7 0.5 -43.3M0 0Q1.5 -20.7 5.9 -41.5" stroke="url(#gb0)" stroke-width="1.8" fill="none" stroke-linecap="round"/><path d="M0 0Q-2 -21.8 -8.2 -43.7M0 0Q-2.3 -22.4 -9.1 -44.8M0 0Q-1.7 -22 -6.6 -44.1M0 0Q2.1 -22.8 8.5 -45.6M0 0Q3 -21.5 12 -43.1" stroke="url(#gb1)" stroke-width="1.8" fill="none" stroke-linecap="round"/></g><g id="t5"><path d="M0 0Q-2.4 -22.8 -9.5 -45.6M0 0Q-0.9 -22.8 -3.7 -45.6" stroke="url(#gb0)" stroke-width="1.8" fill="none" stroke-linecap="round"/><path d="M0 0Q-2.3 -20.9 -9.1 -41.7M0 0Q-0.8 -24.2 -3.3 -48.4M0 0Q0.9 -21.4 3.8 -42.9M0 0Q2.2 -21.7 8.7 -43.4" stroke="url(#gb1)" stroke-width="1.8" fill="none" stroke-linecap="round"/><path d="M0 0Q0.4 -22 1.5 -43.9M0 0Q2.4 -20.1 9.7 -40.2" stroke="url(#gb2)" stroke-width="1.8" fill="none" stroke-linecap="round"/></g></defs>
<use href="#t1" transform="translate(378.5 90.2) scale(0.72)"/><use href="#t3" transform="translate(363.6 94.4) scale(0.72)"/><use href="#t2" transform="translate(393.8 94.9) scale(0.73)"/><use href="#t2" transform="translate(407.7 98) scale(0.74)"/><use href="#t3" transform="translate(349.5 98.4) scale(0.72)"/><use href="#t5" transform="translate(378.8 98.5) scale(0.73)"/><use href="#t1" transform="translate(364.1 102) scale(0.73)"/><use href="#t0" transform="translate(335.9 102.3) scale(0.72)"/><use href="#t2" transform="translate(425 102.3) scale(0.76)"/><use href="#t2" transform="translate(393.6 102.8) scale(0.75)"/><use href="#t2" transform="translate(410.4 105.9) scale(0.76)"/><use href="#t2" transform="translate(381.2 106.5) scale(0.75)"/><use href="#t2" transform="translate(438.3 106.1) scale(0.77)"/><use href="#t4" transform="translate(319.7 107) scale(0.73)"/><use href="#t5" transform="translate(351.8 107.3) scale(0.74)"/><use href="#t2" transform="translate(307.4 110.4) scale(0.73)"/><use href="#t4" transform="translate(396.2 110.5) scale(0.76)"/><use href="#t1" transform="translate(367.3 110.9) scale(0.75)"/><use href="#t0" transform="translate(427 110.8) scale(0.77)"/><use href="#t4" transform="translate(456.2 110.7) scale(0.78)"/><use href="#t1" transform="translate(335.3 111.6) scale(0.74)"/><use href="#t3" transform="translate(439.5 114) scale(0.78)"/><use href="#t0" transform="translate(468.2 113.9) scale(0.79)"/><use href="#t1" transform="translate(320.6 114.9) scale(0.74)"/><use href="#t4" transform="translate(292.4 115) scale(0.73)"/><use href="#t0" transform="translate(347.6 115.4) scale(0.75)"/><use href="#t3" transform="translate(408.8 115.5) scale(0.77)"/><use href="#t0" transform="translate(381.9 115.7) scale(0.77)"/><use href="#t1" transform="translate(426.2 118.6) scale(0.79)"/><use href="#t4" transform="translate(278 118.8) scale(0.73)"/><use href="#t1" transform="translate(394.3 119.4) scale(0.78)"/><use href="#t0" transform="translate(456.9 119) scale(0.80)"/><use href="#t1" transform="translate(334 120) scale(0.76)"/><use href="#t0" transform="translate(308.7 120) scale(0.75)"/><use href="#t1" transform="translate(365.5 120.3) scale(0.77)"/><use href="#t1" transform="translate(484.8 119.2) scale(0.80)"/><use href="#t2" transform="translate(412 123.4) scale(0.79)"/><use href="#t5" transform="translate(321.6 123.6) scale(0.76)"/><use href="#t4" transform="translate(290.4 123.4) scale(0.75)"/><use href="#t0" transform="translate(349.1 124.3) scale(0.77)"/><use href="#t3" transform="translate(262.6 123.7) scale(0.73)"/><use href="#t4" transform="translate(501.1 122.7) scale(0.81)"/><use href="#t1" transform="translate(469.1 123.5) scale(0.81)"/><use href="#t0" transform="translate(440.8 124.1) scale(0.80)"/><use href="#t5" transform="translate(380.9 124.8) scale(0.78)"/><use href="#t2" transform="translate(367.4 127.8) scale(0.78)"/><use href="#t3" transform="translate(457.4 127.2) scale(0.81)"/><use href="#t1" transform="translate(306.7 127.9) scale(0.76)"/><use href="#t1" transform="translate(335.5 128.3) scale(0.77)"/><use href="#t1" transform="translate(247.9 127.5) scale(0.74)"/><use href="#t1" transform="translate(482.2 127.2) scale(0.82)"/><use href="#t5" transform="translate(512.4 126.6) scale(0.82)"/><use href="#t1" transform="translate(426.5 128.5) scale(0.80)"/><use href="#t4" transform="translate(278 128.7) scale(0.75)"/><use href="#t4" transform="translate(396.1 129.4) scale(0.80)"/><use href="#t1" transform="translate(412.2 132) scale(0.81)"/><use href="#t0" transform="translate(382.1 132.2) scale(0.80)"/><use href="#t5" transform="translate(472.2 131.5) scale(0.82)"/><use href="#t1" transform="translate(442.4 132.1) scale(0.82)"/><use href="#t2" transform="translate(324.3 132.8) scale(0.78)"/><use href="#t1" transform="translate(502.3 131.3) scale(0.83)"/><use href="#t4" transform="translate(290.6 132.9) scale(0.76)"/><use href="#t1" transform="translate(352 133.4) scale(0.79)"/><use href="#t4" transform="translate(531.4 130.8) scale(0.84)"/><use href="#t0" transform="translate(231.7 132.2) scale(0.74)"/><use href="#t2" transform="translate(263 133.2) scale(0.75)"/><use href="#t4" transform="translate(486.2 135.4) scale(0.84)"/><use href="#t5" transform="translate(248.4 135.8) scale(0.75)"/><use href="#t0" transform="translate(516.2 134.7) scale(0.84)"/><use href="#t0" transform="translate(427 136.8) scale(0.82)"/><use href="#t5" transform="translate(369.7 137.3) scale(0.80)"/><use href="#t0" transform="translate(309.8 137.2) scale(0.78)"/><use href="#t5" transform="translate(399 137.3) scale(0.81)"/><use href="#t4" transform="translate(545.1 134.5) scale(0.85)"/><use href="#t2" transform="translate(338.7 137.6) scale(0.79)"/><use href="#t4" transform="translate(458.9 136.9) scale(0.83)"/><use href="#t2" transform="translate(278.3 137.4) scale(0.77)"/><use href="#t2" transform="translate(217 136.4) scale(0.74)"/><use href="#t0" transform="translate(264.6 140.6) scale(0.77)"/><use href="#t2" transform="translate(472.4 140.3) scale(0.84)"/><use href="#t3" transform="translate(443.2 140.9) scale(0.83)"/><use href="#t0" transform="translate(234.3 140.2) scale(0.75)"/><use href="#t4" transform="translate(414 141.4) scale(0.83)"/><use href="#t1" transform="translate(354.3 141.8) scale(0.81)"/><use href="#t3" transform="translate(558.9 138.2) scale(0.86)"/><use href="#t2" transform="translate(384.9 141.9) scale(0.82)"/><use href="#t4" transform="translate(504.4 140.2) scale(0.85)"/><use href="#t2" transform="translate(291.8 141.9) scale(0.78)"/><use href="#t2" transform="translate(532.9 139.7) scale(0.86)"/><use href="#t3" transform="translate(323.4 142.8) scale(0.80)"/><use href="#t3" transform="translate(203.8 140.9) scale(0.74)"/><use href="#t5" transform="translate(308.2 145.8) scale(0.80)"/><use href="#t2" transform="translate(396.4 146) scale(0.83)"/><use href="#t0" transform="translate(277.6 145.6) scale(0.78)"/><use href="#t0" transform="translate(515.7 144) scale(0.86)"/><use href="#t1" transform="translate(459 145.5) scale(0.85)"/><use href="#t0" transform="translate(426.8 146.1) scale(0.84)"/><use href="#t3" transform="translate(189.3 144) scale(0.74)"/><use href="#t1" transform="translate(575 142.5) scale(0.87)"/><use href="#t5" transform="translate(339 146.7) scale(0.81)"/><use href="#t5" transform="translate(369.9 146.8) scale(0.82)"/><use href="#t2" transform="translate(543.8 144) scale(0.87)"/><use href="#t2" transform="translate(218.2 145.4) scale(0.76)"/><use href="#t4" transform="translate(248.3 146.3) scale(0.77)"/><use href="#t2" transform="translate(488.1 145.9) scale(0.86)"/><use href="#t5" transform="translate(383.6 150.5) scale(0.84)"/><use href="#t2" transform="translate(293 150.4) scale(0.80)"/><use href="#t2" transform="translate(175.7 147.9) scale(0.74)"/><use href="#t2" transform="translate(443.2 150.3) scale(0.85)"/><use href="#t2" transform="translate(500.3 149.3) scale(0.87)"/><use href="#t0" transform="translate(350.9 151.2) scale(0.83)"/><use href="#t5" transform="translate(469.7 150.2) scale(0.86)"/><use href="#t0" transform="translate(264.7 150.5) scale(0.79)"/><use href="#t3" transform="translate(534.4 148.6) scale(0.88)"/><use href="#t3" transform="translate(204.3 149.2) scale(0.76)"/><use href="#t0" transform="translate(588.5 146.7) scale(0.88)"/><use href="#t2" transform="translate(235.3 150.1) scale(0.78)"/><use href="#t4" transform="translate(411.3 151.4) scale(0.85)"/><use href="#t0" transform="translate(323.2 151.7) scale(0.82)"/><use href="#t1" transform="translate(561 148.2) scale(0.88)"/><use href="#t2" transform="translate(339.3 155.3) scale(0.83)"/><use href="#t5" transform="translate(457.3 154.7) scale(0.87)"/><use href="#t0" transform="translate(309.4 155.3) scale(0.82)"/><use href="#t5" transform="translate(217.3 154.2) scale(0.78)"/><use href="#t0" transform="translate(427.5 155.6) scale(0.86)"/><use href="#t0" transform="translate(514.3 153.9) scale(0.88)"/><use href="#t4" transform="translate(368.6 156.1) scale(0.84)"/><use href="#t4" transform="translate(573.7 152.1) scale(0.89)"/><use href="#t1" transform="translate(249.1 155.1) scale(0.79)"/><use href="#t2" transform="translate(279.1 155.7) scale(0.81)"/><use href="#t1" transform="translate(604.5 151) scale(0.90)"/><use href="#t3" transform="translate(160.1 152.9) scale(0.75)"/><use href="#t5" transform="translate(547.8 153.3) scale(0.89)"/><use href="#t1" transform="translate(190.4 154.3) scale(0.76)"/><use href="#t5" transform="translate(398.5 156.7) scale(0.85)"/><use href="#t3" transform="translate(487.8 155.5) scale(0.88)"/><use href="#t2" transform="translate(204.7 157.8) scale(0.78)"/><use href="#t2" transform="translate(414.3 159.8) scale(0.87)"/><use href="#t1" transform="translate(176 157.2) scale(0.76)"/><use href="#t1" transform="translate(264.2 159.5) scale(0.81)"/><use href="#t1" transform="translate(355.2 160.4) scale(0.85)"/><use href="#t5" transform="translate(234.9 159.2) scale(0.80)"/><use href="#t4" transform="translate(387.5 160.5) scale(0.86)"/><use href="#t0" transform="translate(325.1 160.5) scale(0.84)"/><use href="#t4" transform="translate(472.4 159.6) scale(0.88)"/><use href="#t3" transform="translate(296.7 160.4) scale(0.82)"/><use href="#t1" transform="translate(504.4 159) scale(0.89)"/><use href="#t2" transform="translate(620.8 154.8) scale(0.91)"/><use href="#t5" transform="translate(593.6 156.1) scale(0.90)"/><use href="#t2" transform="translate(143.9 157) scale(0.75)"/><use href="#t5" transform="translate(444.5 160.5) scale(0.88)"/><use href="#t3" transform="translate(563.7 157.5) scale(0.90)"/><use href="#t0" transform="translate(532.3 159) scale(0.90)"/><use href="#t4" transform="translate(399.1 164.7) scale(0.87)"/><use href="#t2" transform="translate(250.7 163.9) scale(0.81)"/><use href="#t4" transform="translate(606.2 159.7) scale(0.92)"/><use href="#t3" transform="translate(222.5 163.5) scale(0.80)"/><use href="#t5" transform="translate(372.8 165.3) scale(0.86)"/><use href="#t2" transform="translate(518.8 163.2) scale(0.90)"/><use href="#t0" transform="translate(634.4 158.7) scale(0.92)"/><use href="#t0" transform="translate(133.1 161) scale(0.75)"/><use href="#t4" transform="translate(459.5 164.8) scale(0.89)"/><use href="#t3" transform="translate(340 165.7) scale(0.85)"/><use href="#t3" transform="translate(577.1 161.6) scale(0.91)"/><use href="#t3" transform="translate(281.2 165.3) scale(0.83)"/><use href="#t4" transform="translate(430.5 165.5) scale(0.88)"/><use href="#t3" transform="translate(190.7 163.4) scale(0.78)"/><use href="#t5" transform="translate(490.2 164.5) scale(0.90)"/><use href="#t1" transform="translate(546.9 162.9) scale(0.91)"/><use href="#t5" transform="translate(310.8 165.8) scale(0.84)"/><use href="#t3" transform="translate(161 162.6) scale(0.77)"/><use href="#t5" transform="translate(562 165.8) scale(0.92)"/><use href="#t2" transform="translate(176.7 166.5) scale(0.78)"/><use href="#t3" transform="translate(145 165.5) scale(0.77)"/><use href="#t4" transform="translate(383.9 169.6) scale(0.88)"/><use href="#t2" transform="translate(268 169.1) scale(0.83)"/><use href="#t0" transform="translate(622 163.8) scale(0.93)"/><use href="#t5" transform="translate(323.5 169.9) scale(0.86)"/><use href="#t2" transform="translate(447.1 169.5) scale(0.90)"/><use href="#t1" transform="translate(416.7 170) scale(0.89)"/><use href="#t0" transform="translate(476.4 169.2) scale(0.91)"/><use href="#t0" transform="translate(501 168.7) scale(0.91)"/><use href="#t4" transform="translate(590.1 165.9) scale(0.93)"/><use href="#t5" transform="translate(114.7 165.3) scale(0.75)"/><use href="#t5" transform="translate(207.6 168.5) scale(0.80)"/><use href="#t5" transform="translate(295.2 170.2) scale(0.85)"/><use href="#t5" transform="translate(534 168) scale(0.92)"/><use href="#t0" transform="translate(356.2 171) scale(0.87)"/><use href="#t2" transform="translate(650.6 163.6) scale(0.93)"/><use href="#t1" transform="translate(236.2 169.7) scale(0.82)"/><use href="#t2" transform="translate(519 171.8) scale(0.92)"/><use href="#t4" transform="translate(636.9 167.8) scale(0.94)"/><use href="#t0" transform="translate(488.5 173.3) scale(0.92)"/><use href="#t1" transform="translate(280.2 174.2) scale(0.85)"/><use href="#t1" transform="translate(576.8 170.7) scale(0.93)"/><use href="#t0" transform="translate(609.1 169.4) scale(0.94)"/><use href="#t4" transform="translate(252.3 173.9) scale(0.84)"/><use href="#t1" transform="translate(223.1 173.3) scale(0.82)"/><use href="#t5" transform="translate(133.2 170.5) scale(0.77)"/><use href="#t1" transform="translate(340.8 175) scale(0.87)"/><use href="#t4" transform="translate(190.7 172.6) scale(0.80)"/><use href="#t4" transform="translate(665.9 166.9) scale(0.94)"/><use href="#t1" transform="translate(431.2 174.8) scale(0.90)"/><use href="#t4" transform="translate(459.2 174.4) scale(0.91)"/><use href="#t5" transform="translate(400.2 175.2) scale(0.90)"/><use href="#t5" transform="translate(309.9 175.1) scale(0.86)"/><use href="#t2" transform="translate(550.6 172.2) scale(0.93)"/><use href="#t3" transform="translate(161 172) scale(0.79)"/><use href="#t4" transform="translate(369.4 175.6) scale(0.89)"/><use href="#t4" transform="translate(102 169.7) scale(0.75)"/><use href="#t2" transform="translate(207 177) scale(0.82)"/><use href="#t3" transform="translate(503.9 177.4) scale(0.93)"/><use href="#t3" transform="translate(145.6 175.1) scale(0.79)"/><use href="#t4" transform="translate(326.1 179.2) scale(0.88)"/><use href="#t5" transform="translate(415.1 179.2) scale(0.91)"/><use href="#t5" transform="translate(679.1 170.4) scale(0.95)"/><use href="#t4" transform="translate(355.2 179.6) scale(0.89)"/><use href="#t2" transform="translate(237.4 178.3) scale(0.84)"/><use href="#t0" transform="translate(268.1 178.9) scale(0.85)"/><use href="#t2" transform="translate(87.1 173.2) scale(0.75)"/><use href="#t5" transform="translate(623 173.7) scale(0.95)"/><use href="#t4" transform="translate(534.5 177.2) scale(0.94)"/><use href="#t2" transform="translate(593 175.1) scale(0.95)"/><use href="#t3" transform="translate(300.1 179.5) scale(0.87)"/><use href="#t0" transform="translate(477.5 179) scale(0.93)"/><use href="#t0" transform="translate(562.3 176.6) scale(0.94)"/><use href="#t3" transform="translate(118.2 175) scale(0.77)"/><use href="#t4" transform="translate(444.1 179.6) scale(0.92)"/><use href="#t3" transform="translate(388 180.2) scale(0.90)"/><use href="#t4" transform="translate(649.6 172.9) scale(0.95)"/><use href="#t4" transform="translate(177.6 177.6) scale(0.81)"/><use href="#t1" transform="translate(312.8 183.7) scale(0.88)"/><use href="#t5" transform="translate(282 183.4) scale(0.87)"/><use href="#t2" transform="translate(131.8 179.4) scale(0.79)"/><use href="#t5" transform="translate(432.8 183.8) scale(0.93)"/><use href="#t2" transform="translate(488.8 182.9) scale(0.94)"/><use href="#t5" transform="translate(372.1 184.6) scale(0.91)"/><use href="#t4" transform="translate(578.2 180.4) scale(0.96)"/><use href="#t3" transform="translate(634.9 178) scale(0.96)"/><use href="#t3" transform="translate(401.2 184.6) scale(0.92)"/><use href="#t5" transform="translate(608.1 179.4) scale(0.96)"/><use href="#t3" transform="translate(463.3 183.9) scale(0.94)"/><use href="#t4" transform="translate(192.6 182.2) scale(0.83)"/><use href="#t5" transform="translate(664.9 176.6) scale(0.96)"/><use href="#t5" transform="translate(103.3 179) scale(0.78)"/><use href="#t2" transform="translate(343.5 184.8) scale(0.90)"/><use href="#t3" transform="translate(518.3 182.7) scale(0.95)"/><use href="#t1" transform="translate(73 177.6) scale(0.76)"/><use href="#t3" transform="translate(164.8 181.6) scale(0.81)"/><use href="#t0" transform="translate(225.3 183.5) scale(0.85)"/><use href="#t4" transform="translate(694.2 175.5) scale(0.97)"/><use href="#t1" transform="translate(548.6 182.4) scale(0.96)"/><use href="#t4" transform="translate(251.7 184.5) scale(0.86)"/><use href="#t4" transform="translate(327.1 188.9) scale(0.90)"/><use href="#t0" transform="translate(87.9 182.5) scale(0.78)"/><use href="#t1" transform="translate(207.5 187.1) scale(0.85)"/><use href="#t1" transform="translate(565.5 185.6) scale(0.97)"/><use href="#t5" transform="translate(417.1 189.2) scale(0.93)"/><use href="#t5" transform="translate(592.6 184.9) scale(0.97)"/><use href="#t0" transform="translate(238.6 188.3) scale(0.86)"/><use href="#t5" transform="translate(680.5 180.7) scale(0.98)"/><use href="#t0" transform="translate(626.3 183.5) scale(0.97)"/><use href="#t4" transform="translate(117.5 184.5) scale(0.80)"/><use href="#t4" transform="translate(506.1 188) scale(0.96)"/><use href="#t1" transform="translate(387.4 189.8) scale(0.93)"/><use href="#t5" transform="translate(59.9 181.8) scale(0.76)"/><use href="#t1" transform="translate(474 188.9) scale(0.95)"/><use href="#t0" transform="translate(708 179.3) scale(0.98)"/><use href="#t1" transform="translate(653 182.5) scale(0.98)"/><use href="#t5" transform="translate(537.3 187.4) scale(0.96)"/><use href="#t5" transform="translate(148 186.3) scale(0.82)"/><use href="#t5" transform="translate(299 190) scale(0.89)"/><use href="#t4" transform="translate(179.9 187.4) scale(0.83)"/><use href="#t3" transform="translate(269 189.6) scale(0.88)"/><use href="#t2" transform="translate(357.7 190.7) scale(0.92)"/><use href="#t2" transform="translate(446.8 190.2) scale(0.95)"/><use href="#t3" transform="translate(193.8 191.3) scale(0.85)"/><use href="#t1" transform="translate(71.8 186.5) scale(0.78)"/><use href="#t2" transform="translate(223.9 192.3) scale(0.87)"/><use href="#t0" transform="translate(283 193.7) scale(0.90)"/><use href="#t1" transform="translate(490.6 192.9) scale(0.97)"/><use href="#t4" transform="translate(696.1 184.4) scale(0.99)"/><use href="#t3" transform="translate(163.7 190.9) scale(0.83)"/><use href="#t2" transform="translate(101.7 188.6) scale(0.80)"/><use href="#t0" transform="translate(549.7 191.5) scale(0.98)"/><use href="#t2" transform="translate(435.4 194.3) scale(0.95)"/><use href="#t0" transform="translate(253.8 193.6) scale(0.88)"/><use href="#t1" transform="translate(45.8 186) scale(0.76)"/><use href="#t0" transform="translate(135.1 190.2) scale(0.82)"/><use href="#t1" transform="translate(524.6 192.5) scale(0.97)"/><use href="#t3" transform="translate(403.7 194.7) scale(0.94)"/><use href="#t5" transform="translate(576.9 190.8) scale(0.98)"/><use href="#t5" transform="translate(313.2 194.6) scale(0.91)"/><use href="#t1" transform="translate(341.6 194.9) scale(0.92)"/><use href="#t5" transform="translate(611.9 189.5) scale(0.99)"/><use href="#t5" transform="translate(725.8 183.3) scale(0.99)"/><use href="#t0" transform="translate(640 188.3) scale(0.99)"/><use href="#t0" transform="translate(669.4 186.8) scale(0.99)"/><use href="#t1" transform="translate(461 194.6) scale(0.96)"/><use href="#t4" transform="translate(373.2 195.4) scale(0.93)"/><use href="#t1" transform="translate(477.5 197.8) scale(0.97)"/><use href="#t2" transform="translate(595.6 194.2) scale(0.99)"/><use href="#t0" transform="translate(536.5 196.4) scale(0.99)"/><use href="#t5" transform="translate(300.3 198.7) scale(0.91)"/><use href="#t0" transform="translate(681.8 190.1) scale(1.00)"/><use href="#t0" transform="translate(387.6 199.3) scale(0.95)"/><use href="#t4" transform="translate(56 191.1) scale(0.78)"/><use href="#t2" transform="translate(508.8 197.6) scale(0.98)"/><use href="#t0" transform="translate(416.5 199.3) scale(0.96)"/><use href="#t5" transform="translate(29.1 189.8) scale(0.76)"/><use href="#t1" transform="translate(210.5 197.4) scale(0.87)"/><use href="#t0" transform="translate(119.9 194.5) scale(0.82)"/><use href="#t4" transform="translate(625.5 193.6) scale(1.00)"/><use href="#t4" transform="translate(181.3 196.8) scale(0.86)"/><use href="#t1" transform="translate(563 196.3) scale(0.99)"/><use href="#t0" transform="translate(741 187) scale(1.00)"/><use href="#t4" transform="translate(709.7 189.1) scale(1.00)"/><use href="#t0" transform="translate(656.1 192.3) scale(1.00)"/><use href="#t5" transform="translate(450.1 199.3) scale(0.97)"/><use href="#t3" transform="translate(332.1 199.9) scale(0.93)"/><use href="#t1" transform="translate(359.9 200) scale(0.94)"/><use href="#t3" transform="translate(269.6 199.4) scale(0.90)"/><use href="#t3" transform="translate(240.2 198.9) scale(0.89)"/><use href="#t1" transform="translate(88.5 193.9) scale(0.80)"/><use href="#t0" transform="translate(150.1 196.6) scale(0.84)"/><use href="#t5" transform="translate(697.8 193.9) scale(1.01)"/><use href="#t4" transform="translate(134.7 199.2) scale(0.84)"/><use href="#t2" transform="translate(164 200.5) scale(0.86)"/><use href="#t4" transform="translate(314.5 203.9) scale(0.93)"/><use href="#t0" transform="translate(727.7 192.2) scale(1.01)"/><use href="#t0" transform="translate(344.7 204.1) scale(0.94)"/><use href="#t3" transform="translate(405.1 204) scale(0.97)"/><use href="#t3" transform="translate(195 201.7) scale(0.88)"/><use href="#t4" transform="translate(492.9 203.2) scale(0.99)"/><use href="#t3" transform="translate(372.4 204.7) scale(0.96)"/><use href="#t4" transform="translate(524 202.5) scale(1.00)"/><use href="#t0" transform="translate(286.4 204.2) scale(0.92)"/><use href="#t1" transform="translate(612.3 199.4) scale(1.01)"/><use href="#t5" transform="translate(44.8 196.1) scale(0.78)"/><use href="#t0" transform="translate(255.7 203.9) scale(0.91)"/><use href="#t4" transform="translate(581.6 200.8) scale(1.01)"/><use href="#t1" transform="translate(71.2 197.5) scale(0.80)"/><use href="#t1" transform="translate(553.3 201.9) scale(1.00)"/><use href="#t0" transform="translate(667.8 197.1) scale(1.01)"/><use href="#t1" transform="translate(464.8 204.4) scale(0.99)"/><use href="#t5" transform="translate(105 199.6) scale(0.83)"/><use href="#t4" transform="translate(226.8 203.8) scale(0.90)"/><use href="#t3" transform="translate(433.2 205.3) scale(0.98)"/><use href="#t3" transform="translate(640.1 198.9) scale(1.01)"/><use href="#t3" transform="translate(270.5 208.1) scale(0.93)"/><use href="#t4" transform="translate(389.6 208.9) scale(0.97)"/><use href="#t5" transform="translate(119.7 204) scale(0.84)"/><use href="#t3" transform="translate(301 208.9) scale(0.94)"/><use href="#t0" transform="translate(712.5 198.6) scale(1.03)"/><use href="#t3" transform="translate(210.5 207.4) scale(0.90)"/><use href="#t0" transform="translate(684.2 200.4) scale(1.03)"/><use href="#t1" transform="translate(239.2 208.1) scale(0.91)"/><use href="#t0" transform="translate(59.1 201.4) scale(0.81)"/><use href="#t1" transform="translate(446.9 209.1) scale(0.99)"/><use href="#t5" transform="translate(480.5 208.5) scale(1.00)"/><use href="#t1" transform="translate(567.4 206.1) scale(1.02)"/><use href="#t5" transform="translate(359.6 209.7) scale(0.96)"/><use href="#t1" transform="translate(539.7 207.1) scale(1.01)"/><use href="#t0" transform="translate(422.2 209.5) scale(0.99)"/><use href="#t4" transform="translate(506.7 208.1) scale(1.01)"/><use href="#t3" transform="translate(623.5 203.9) scale(1.02)"/><use href="#t3" transform="translate(184 207.1) scale(0.88)"/><use href="#t0" transform="translate(597.4 205.2) scale(1.02)"/><use href="#t4" transform="translate(654.3 202.7) scale(1.03)"/><use href="#t4" transform="translate(328.4 210.2) scale(0.95)"/><use href="#t2" transform="translate(90.8 203.9) scale(0.83)"/><use href="#t0" transform="translate(151.3 206.7) scale(0.87)"/><use href="#t4" transform="translate(405.4 214.2) scale(0.99)"/><use href="#t2" transform="translate(436.1 214.1) scale(1.00)"/><use href="#t1" transform="translate(105.9 208.8) scale(0.85)"/><use href="#t3" transform="translate(76.7 207.5) scale(0.83)"/><use href="#t5" transform="translate(699.2 204.8) scale(1.04)"/><use href="#t5" transform="translate(345.8 214.9) scale(0.97)"/><use href="#t5" transform="translate(579.2 211) scale(1.03)"/><use href="#t0" transform="translate(223.3 213.2) scale(0.92)"/><use href="#t3" transform="translate(375.6 215.1) scale(0.98)"/><use href="#t4" transform="translate(196.2 212.5) scale(0.90)"/><use href="#t0" transform="translate(611 209.8) scale(1.04)"/><use href="#t4" transform="translate(524.7 213) scale(1.02)"/><use href="#t4" transform="translate(672.1 206.9) scale(1.04)"/><use href="#t4" transform="translate(319.1 215.1) scale(0.96)"/><use href="#t4" transform="translate(256.1 214.2) scale(0.93)"/><use href="#t0" transform="translate(495.5 213.8) scale(1.02)"/><use href="#t4" transform="translate(465.5 214.6) scale(1.01)"/><use href="#t1" transform="translate(134.6 211) scale(0.87)"/><use href="#t1" transform="translate(286.1 215.2) scale(0.95)"/><use href="#t4" transform="translate(640.3 209.1) scale(1.04)"/><use href="#t1" transform="translate(164.9 212.2) scale(0.89)"/><use href="#t0" transform="translate(552.8 212.7) scale(1.03)"/><use href="#t0" transform="translate(361.3 219.1) scale(0.99)"/><use href="#t2" transform="translate(420.1 219.2) scale(1.01)"/><use href="#t2" transform="translate(121.8 214.3) scale(0.87)"/><use href="#t2" transform="translate(180.9 216.5) scale(0.91)"/><use href="#t5" transform="translate(657.1 212.1) scale(1.05)"/><use href="#t3" transform="translate(509.8 217.9) scale(1.03)"/><use href="#t0" transform="translate(331.2 219.8) scale(0.98)"/><use href="#t3" transform="translate(477.7 219) scale(1.03)"/><use href="#t3" transform="translate(596.7 215.5) scale(1.05)"/><use href="#t4" transform="translate(301.8 219.9) scale(0.97)"/><use href="#t3" transform="translate(537.2 217.7) scale(1.04)"/><use href="#t0" transform="translate(627.9 214.4) scale(1.05)"/><use href="#t0" transform="translate(392.7 220.5) scale(1.00)"/><use href="#t0" transform="translate(211.7 218.5) scale(0.93)"/><use href="#t2" transform="translate(92.4 214.1) scale(0.86)"/><use href="#t5" transform="translate(152.2 216.7) scale(0.89)"/><use href="#t1" transform="translate(683.7 211.7) scale(1.05)"/><use href="#t3" transform="translate(242.6 219.5) scale(0.94)"/><use href="#t3" transform="translate(270.6 220.2) scale(0.96)"/><use href="#t2" transform="translate(569.4 217.4) scale(1.05)"/><use href="#t1" transform="translate(450.3 220.5) scale(1.02)"/><use href="#t2" transform="translate(554.4 221.4) scale(1.05)"/><use href="#t0" transform="translate(642.3 218) scale(1.06)"/><use href="#t3" transform="translate(671.9 216.7) scale(1.07)"/><use href="#t4" transform="translate(105.7 219.1) scale(0.87)"/><use href="#t1" transform="translate(496.7 223.6) scale(1.04)"/><use href="#t4" transform="translate(614.1 219.7) scale(1.06)"/><use href="#t4" transform="translate(524.8 223.1) scale(1.05)"/><use href="#t5" transform="translate(379.9 225.3) scale(1.01)"/><use href="#t0" transform="translate(319.8 225.1) scale(0.99)"/><use href="#t1" transform="translate(586.2 221.1) scale(1.06)"/><use href="#t5" transform="translate(287.1 224.8) scale(0.97)"/><use href="#t4" transform="translate(198.9 223) scale(0.93)"/><use href="#t4" transform="translate(406.4 225.4) scale(1.02)"/><use href="#t0" transform="translate(136.1 220.9) scale(0.90)"/><use href="#t0" transform="translate(254.6 224.5) scale(0.96)"/><use href="#t0" transform="translate(226.5 223.9) scale(0.95)"/><use href="#t3" transform="translate(435.7 225.6) scale(1.03)"/><use href="#t2" transform="translate(467.7 225.3) scale(1.04)"/><use href="#t1" transform="translate(346.5 226.4) scale(1.00)"/><use href="#t4" transform="translate(167.3 223.1) scale(0.92)"/><use href="#t5" transform="translate(363.1 229.8) scale(1.02)"/><use href="#t3" transform="translate(510.8 228) scale(1.06)"/><use href="#t0" transform="translate(182 227) scale(0.93)"/><use href="#t0" transform="translate(391.3 230.2) scale(1.03)"/><use href="#t4" transform="translate(656.9 223) scale(1.08)"/><use href="#t3" transform="translate(480.8 229.5) scale(1.05)"/><use href="#t5" transform="translate(629 224.6) scale(1.08)"/><use href="#t1" transform="translate(122.9 225.5) scale(0.90)"/><use href="#t4" transform="translate(450.3 230.1) scale(1.05)"/><use href="#t1" transform="translate(300.5 230.3) scale(0.99)"/><use href="#t4" transform="translate(240.9 229.5) scale(0.97)"/><use href="#t1" transform="translate(567.4 227.4) scale(1.07)"/><use href="#t4" transform="translate(421.1 230.8) scale(1.04)"/><use href="#t3" transform="translate(539.5 228.4) scale(1.07)"/><use href="#t1" transform="translate(600.9 226.2) scale(1.08)"/><use href="#t2" transform="translate(212.4 229) scale(0.95)"/><use href="#t5" transform="translate(154 227.1) scale(0.92)"/><use href="#t4" transform="translate(333.9 231.1) scale(1.01)"/><use href="#t4" transform="translate(272.4 230.8) scale(0.98)"/><use href="#t3" transform="translate(229 233.2) scale(0.97)"/><use href="#t1" transform="translate(348.9 235.2) scale(1.03)"/><use href="#t1" transform="translate(378.2 235.3) scale(1.04)"/><use href="#t5" transform="translate(642.1 228.8) scale(1.09)"/><use href="#t1" transform="translate(525.7 233.4) scale(1.08)"/><use href="#t4" transform="translate(201.3 233.3) scale(0.96)"/><use href="#t1" transform="translate(465.1 235) scale(1.06)"/><use href="#t1" transform="translate(583.7 231.7) scale(1.09)"/><use href="#t5" transform="translate(409.1 235.9) scale(1.05)"/><use href="#t2" transform="translate(169.7 232.6) scale(0.94)"/><use href="#t3" transform="translate(614.1 230.8) scale(1.09)"/><use href="#t5" transform="translate(289 235.6) scale(1.00)"/><use href="#t4" transform="translate(496.7 234.8) scale(1.07)"/><use href="#t0" transform="translate(139.4 231.7) scale(0.92)"/><use href="#t5" transform="translate(436.2 236.1) scale(1.06)"/><use href="#t1" transform="translate(259.6 235.7) scale(0.99)"/><use href="#t1" transform="translate(555.3 234) scale(1.09)"/><use href="#t3" transform="translate(318.6 236.9) scale(1.02)"/><use href="#t5" transform="translate(600.1 235.6) scale(1.10)"/><use href="#t3" transform="translate(424 240.2) scale(1.06)"/><use href="#t0" transform="translate(152.6 236.7) scale(0.94)"/><use href="#t5" transform="translate(571.3 237.3) scale(1.10)"/><use href="#t2" transform="translate(629 235.2) scale(1.11)"/><use href="#t1" transform="translate(484.5 240.1) scale(1.08)"/><use href="#t4" transform="translate(539.8 238.8) scale(1.10)"/><use href="#t1" transform="translate(184.3 238.6) scale(0.96)"/><use href="#t3" transform="translate(366.7 241.6) scale(1.05)"/><use href="#t5" transform="translate(215 239.6) scale(0.98)"/><use href="#t4" transform="translate(303.8 241.3) scale(1.02)"/><use href="#t3" transform="translate(392.7 241.7) scale(1.06)"/><use href="#t0" transform="translate(512.6 240) scale(1.09)"/><use href="#t1" transform="translate(455.1 241.2) scale(1.08)"/><use href="#t2" transform="translate(274.2 241.2) scale(1.01)"/><use href="#t5" transform="translate(334.1 242.1) scale(1.04)"/><use href="#t2" transform="translate(243.9 240.8) scale(1.00)"/><use href="#t2" transform="translate(258.8 245) scale(1.01)"/><use href="#t3" transform="translate(409.3 245.9) scale(1.08)"/><use href="#t5" transform="translate(380.6 246.1) scale(1.07)"/><use href="#t1" transform="translate(499.4 244.7) scale(1.10)"/><use href="#t3" transform="translate(469.8 245.3) scale(1.09)"/><use href="#t5" transform="translate(290.9 245.9) scale(1.03)"/><use href="#t4" transform="translate(587.3 242.6) scale(1.12)"/><use href="#t4" transform="translate(615.6 241.5) scale(1.12)"/><use href="#t1" transform="translate(438.4 246.5) scale(1.09)"/><use href="#t1" transform="translate(526.6 244.8) scale(1.11)"/><use href="#t1" transform="translate(320.1 246.7) scale(1.04)"/><use href="#t1" transform="translate(172.1 243.6) scale(0.97)"/><use href="#t0" transform="translate(349 247.3) scale(1.06)"/><use href="#t2" transform="translate(231.7 245.7) scale(1.00)"/><use href="#t2" transform="translate(556.3 244.5) scale(1.11)"/><use href="#t5" transform="translate(201.1 245.2) scale(0.99)"/><use href="#t5" transform="translate(334.7 251.2) scale(1.06)"/><use href="#t3" transform="translate(305.3 250.9) scale(1.05)"/><use href="#t0" transform="translate(599.6 247) scale(1.13)"/><use href="#t1" transform="translate(543.3 249.3) scale(1.12)"/><use href="#t5" transform="translate(185.3 248.9) scale(0.99)"/><use href="#t4" transform="translate(485.4 250.8) scale(1.11)"/><use href="#t1" transform="translate(366.7 252) scale(1.08)"/><use href="#t4" transform="translate(398 251.9) scale(1.09)"/><use href="#t5" transform="translate(217.4 250.1) scale(1.01)"/><use href="#t3" transform="translate(451.7 251.6) scale(1.10)"/><use href="#t0" transform="translate(243.9 250.8) scale(1.02)"/><use href="#t3" transform="translate(274.2 251.4) scale(1.04)"/><use href="#t3" transform="translate(512.5 250.7) scale(1.12)"/><use href="#t5" transform="translate(425.6 252.5) scale(1.10)"/><use href="#t5" transform="translate(572.7 249.4) scale(1.13)"/><use href="#t2" transform="translate(440.4 256) scale(1.11)"/><use href="#t0" transform="translate(411 256.3) scale(1.10)"/><use href="#t3" transform="translate(351.7 256.7) scale(1.08)"/><use href="#t0" transform="translate(498.8 255.5) scale(1.13)"/><use href="#t0" transform="translate(556.8 254) scale(1.14)"/><use href="#t3" transform="translate(200.9 254.8) scale(1.02)"/><use href="#t3" transform="translate(259.1 256.4) scale(1.05)"/><use href="#t1" transform="translate(585.7 253.4) scale(1.15)"/><use href="#t0" transform="translate(527.5 255.4) scale(1.14)"/><use href="#t0" transform="translate(291.9 257) scale(1.06)"/><use href="#t3" transform="translate(472.1 256.9) scale(1.13)"/><use href="#t5" transform="translate(232 256.4) scale(1.03)"/><use href="#t5" transform="translate(382.2 258.3) scale(1.10)"/><use href="#t0" transform="translate(321.8 258.5) scale(1.08)"/><use href="#t3" transform="translate(277.6 261.1) scale(1.07)"/><use href="#t0" transform="translate(338.3 262.3) scale(1.09)"/><use href="#t1" transform="translate(366.5 262.4) scale(1.10)"/><use href="#t2" transform="translate(514.7 260.8) scale(1.15)"/><use href="#t3" transform="translate(487.1 261.5) scale(1.14)"/><use href="#t5" transform="translate(398.5 262.6) scale(1.12)"/><use href="#t4" transform="translate(217.1 260.8) scale(1.04)"/><use href="#t2" transform="translate(574 259.5) scale(1.16)"/><use href="#t0" transform="translate(546.5 260.6) scale(1.16)"/><use href="#t4" transform="translate(459.1 262.6) scale(1.14)"/><use href="#t2" transform="translate(427.5 263.2) scale(1.13)"/><use href="#t0" transform="translate(247.6 262.3) scale(1.06)"/><use href="#t1" transform="translate(307.2 263.6) scale(1.09)"/><use href="#t3" transform="translate(531.1 265.5) scale(1.17)"/><use href="#t0" transform="translate(470.5 266.9) scale(1.15)"/><use href="#t4" transform="translate(382 267.8) scale(1.13)"/><use href="#t4" transform="translate(263.2 267.1) scale(1.08)"/><use href="#t2" transform="translate(233.6 266.4) scale(1.06)"/><use href="#t5" transform="translate(295.4 267.8) scale(1.09)"/><use href="#t2" transform="translate(501.1 266.9) scale(1.16)"/><use href="#t1" transform="translate(560.4 265.4) scale(1.17)"/><use href="#t2" transform="translate(439.7 268.2) scale(1.15)"/><use href="#t1" transform="translate(352.5 268.8) scale(1.12)"/><use href="#t4" transform="translate(321.4 268.9) scale(1.11)"/><use href="#t5" transform="translate(411.6 269.2) scale(1.14)"/><use href="#t2" transform="translate(307.6 273) scale(1.11)"/><use href="#t2" transform="translate(248.5 272.6) scale(1.09)"/><use href="#t5" transform="translate(400.1 273.9) scale(1.15)"/><use href="#t5" transform="translate(278 273.2) scale(1.10)"/><use href="#t0" transform="translate(543.5 271.7) scale(1.19)"/><use href="#t0" transform="translate(516.9 272.6) scale(1.18)"/><use href="#t0" transform="translate(341.4 274.3) scale(1.13)"/><use href="#t5" transform="translate(456.6 273.9) scale(1.17)"/><use href="#t1" transform="translate(366 274.6) scale(1.14)"/><use href="#t3" transform="translate(484.8 273.5) scale(1.17)"/><use href="#t4" transform="translate(427.5 274.9) scale(1.16)"/><use href="#t0" transform="translate(383.7 279.1) scale(1.16)"/><use href="#t1" transform="translate(441.8 278.9) scale(1.18)"/><use href="#t0" transform="translate(296.9 279.1) scale(1.12)"/><use href="#t2" transform="translate(416.3 279.7) scale(1.17)"/><use href="#t4" transform="translate(353.8 279.8) scale(1.15)"/><use href="#t5" transform="translate(324.3 279.7) scale(1.14)"/><use href="#t3" transform="translate(265.4 279) scale(1.11)"/><use href="#t3" transform="translate(501.1 278.9) scale(1.20)"/><use href="#t5" transform="translate(473.5 279.5) scale(1.19)"/><use href="#t2" transform="translate(530.7 278.3) scale(1.20)"/><use href="#t1" transform="translate(280.1 283.8) scale(1.13)"/><use href="#t1" transform="translate(371.4 284.7) scale(1.17)"/><use href="#t2" transform="translate(312.6 284.7) scale(1.15)"/><use href="#t4" transform="translate(490.2 284.1) scale(1.21)"/><use href="#t4" transform="translate(431.5 285.1) scale(1.19)"/><use href="#t0" transform="translate(338.5 285.6) scale(1.16)"/><use href="#t1" transform="translate(399.3 286) scale(1.18)"/><use href="#t1" transform="translate(516.9 284.3) scale(1.21)"/><use href="#t2" transform="translate(459.7 286.1) scale(1.20)"/><use href="#t4" transform="translate(444.2 289.8) scale(1.21)"/><use href="#t0" transform="translate(474.1 289.7) scale(1.22)"/><use href="#t2" transform="translate(355.4 290.5) scale(1.18)"/><use href="#t2" transform="translate(413.3 290.9) scale(1.20)"/><use href="#t3" transform="translate(504 289.6) scale(1.23)"/><use href="#t3" transform="translate(296.9 290.7) scale(1.16)"/><use href="#t5" transform="translate(326.1 291.5) scale(1.17)"/><use href="#t5" transform="translate(386.1 292.4) scale(1.20)"/><use href="#t0" transform="translate(490.7 295) scale(1.24)"/><use href="#t2" transform="translate(459.6 295.6) scale(1.23)"/><use href="#t3" transform="translate(311 296) scale(1.18)"/><use href="#t2" transform="translate(431.8 296.5) scale(1.22)"/><use href="#t2" transform="translate(401.2 296.7) scale(1.21)"/><use href="#t0" transform="translate(373.8 296.9) scale(1.20)"/><use href="#t0" transform="translate(343.2 297.3) scale(1.19)"/><use href="#t5" transform="translate(386.5 301.6) scale(1.22)"/><use href="#t2" transform="translate(476.6 301.1) scale(1.25)"/><use href="#t4" transform="translate(358.6 302.5) scale(1.22)"/><use href="#t5" transform="translate(328.8 302.7) scale(1.20)"/><use href="#t1" transform="translate(447.4 302.8) scale(1.25)"/><use href="#t2" transform="translate(418.1 303.5) scale(1.24)"/><use href="#t5" transform="translate(461.7 307.4) scale(1.27)"/><use href="#t3" transform="translate(345.4 308) scale(1.23)"/><use href="#t2" transform="translate(432.6 308) scale(1.26)"/><use href="#t4" transform="translate(376.5 308.2) scale(1.24)"/><use href="#t1" transform="translate(402.8 308.8) scale(1.25)"/><use href="#t4" transform="translate(418 313.2) scale(1.27)"/><use href="#t3" transform="translate(449 313.5) scale(1.28)"/><use href="#t5" transform="translate(391.7 314.1) scale(1.26)"/><use href="#t3" transform="translate(360.7 314.6) scale(1.25)"/><use href="#t3" transform="translate(434.3 319.6) scale(1.29)"/><use href="#t3" transform="translate(406.3 320.4) scale(1.29)"/><use href="#t1" transform="translate(376.5 320.6) scale(1.27)"/><use href="#t0" transform="translate(393 326.1) scale(1.30)"/><use href="#t2" transform="translate(419.4 326.5) scale(1.31)"/><use href="#t5" transform="translate(407 332) scale(1.32)"/>
</svg></body></html>
